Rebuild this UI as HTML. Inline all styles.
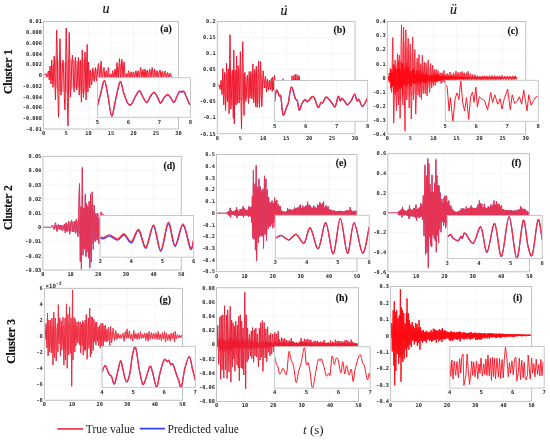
<!DOCTYPE html>
<html><head><meta charset="utf-8"><title>Displacement, velocity and acceleration: true vs predicted</title>
<style>
html,body{margin:0;padding:0;background:#fff;}
body{width:550px;height:441px;overflow:hidden;}
svg{display:block;filter:blur(0.3px);}
.tk{font-family:"DejaVu Sans Mono","Liberation Mono",monospace;font-size:5.3px;font-weight:bold;fill:#2a2a2a;}
.ik{font-family:"DejaVu Sans Mono","Liberation Mono",monospace;font-size:5.6px;font-weight:bold;fill:#333;}
.lt{font-family:"Liberation Serif",serif;font-size:9.8px;font-weight:bold;fill:#111;stroke:#111;stroke-width:0.15px;}
.ct{font-family:"Liberation Serif",serif;font-size:14px;font-style:italic;fill:#111;stroke:#111;stroke-width:0.15px;}
.cl{font-family:"Liberation Serif",serif;font-size:11.5px;font-weight:bold;fill:#111;stroke:#111;stroke-width:0.2px;}
.lg{font-family:"Liberation Serif",serif;font-size:11.5px;fill:#222;}
.ts{font-family:"Liberation Serif",serif;font-size:13px;fill:#222;}
</style></head>
<body>
<svg width="550" height="441" viewBox="0 0 550 441">
<rect width="550" height="441" fill="#fff"/>
<clipPath id="ca"><rect x="43.5" y="21.5" width="135" height="107.5"/></clipPath>
<path d="M43.5 21.5V129M66 21.5V129M88.5 21.5V129M111 21.5V129M133.5 21.5V129M156 21.5V129M178.5 21.5V129M43.5 129H178.5M43.5 118.25H178.5M43.5 107.5H178.5M43.5 96.75H178.5M43.5 86H178.5M43.5 75.25H178.5M43.5 64.5H178.5M43.5 53.75H178.5M43.5 43H178.5M43.5 32.25H178.5M43.5 21.5H178.5" stroke="#f1f1f1" stroke-width="0.6" fill="none"/>
<g clip-path="url(#ca)">
<path d="M45.69 73.77 48.5 73.77 50 71.64 51.7 67.39 54.2 62.3 56.7 58.89 60 62.3 63 62.3 66.2 62.3 69.2 58.05 72.4 59.74 75.4 60.09 78.4 62.3 80.3 62.3 82.2 62.3 85 55.5 87.16 63.99 88.5 70.8 90.4 70.8 92.86 70.8 95.45 69.09 98.5 68.67 101.1 68.67 104 71.39 106.4 71.39 108.3 74.15 110.71 74.15 112.6 74.15 114.9 71.39 117 69.94 119.5 64.5 121.9 63.74 124 73.71 126.64 73.71 128.5 73.71 131.17 72.35 133.52 72.35 135.94 72.35 138.1 71.46 140.7 71.46 143.02 70.27 145 70.97 147.2 70.97 149.68 70.97 152.2 69.93 154.59 71.22 156.98 71.22 160 71.91 162.2 71.91 165 72.91 167.56 73.52 170.2 73.52 172 77.03 168.66 77.03 166.34 77.03 163.36 77.23 161.08 77.17 158.12 77.17 155.7 77.17 153.51 77.31 150.79 77.47 148.54 77.47 146.08 77.57 144.11 77.57 141.92 77.54 139.39 77.54 137.02 77.54 134.6 77.62 132.24 77.72 129.82 77.76 127.69 77.76 125.3 77.76 123.18 77.78 120.64 77.78 118.14 77.78 116.2 77.93 113.95 78.08 111.89 78.08 109.51 78.08 107.58 78.34 105.06 78.22 102.21 78.12 99.71 78.12 96.55 78.12 94.2 80.14 91.6 80.58 89.8 83.55 87.9 86.09 86.08 89.5 83.44 94.31 81.41 92.05 79.2 87.8 76.7 87.8 74.2 87.8 70.4 89.5 68 93.75 65 92.05 61 92.05 58.5 92.05 55.5 85.5 53 82.69 51 79.12 49.2 77.04 47.01 75.3 44.5 75.3Z" fill="#f47a8a" fill-opacity="0.6" stroke="none"/>
<path d="M44.5 75.3 44.9 74.85 45.29 73.95 45.69 73.5 46.13 74.46 46.57 76.39 47.01 77.35 47.51 75.76 48 72.59 48.5 71 48.73 73.2 48.97 77.6 49.2 79.8 49.47 76.35 49.73 69.45 50 66 50.33 70.5 50.67 79.5 51 84 51.23 78 51.47 66 51.7 60 52.13 66.83 52.57 80.47 53 87.3 53.4 79.47 53.8 63.83 54.2 56 54.63 67 55.07 89 55.5 100 55.9 82.5 56.3 47.5 56.7 30 57.3 51.82 57.9 95.47 58.5 117.3 59 97.65 59.5 58.35 60 38.7 60.33 52.77 60.67 80.92 61 95 61.67 86.25 62.33 68.75 63 60 63.67 72.5 64.33 97.5 65 110 65.4 89.5 65.8 48.5 66.2 28 66.8 52.5 67.4 101.5 68 126 68.4 102.62 68.8 55.88 69.2 32.5 69.6 48.62 70 80.88 70.4 97 71.07 86.5 71.73 65.5 72.4 55 73 64.25 73.6 82.75 74.2 92 74.6 83.25 75 65.75 75.4 57 75.83 65.25 76.27 81.75 76.7 90 77.27 81.85 77.83 65.55 78.4 57.4 78.67 66.8 78.93 85.6 79.2 95 79.57 86.25 79.93 68.75 80.3 60 80.67 70.58 81.04 91.72 81.41 102.3 81.67 89.22 81.94 63.08 82.2 50 82.61 61.92 83.03 85.75 83.44 97.66 83.96 86.25 84.48 63.42 85 52 85.36 64 85.72 88 86.08 100 86.44 86.1 86.8 58.3 87.16 44.4 87.4 56.3 87.65 80.1 87.9 92 88.1 84.5 88.3 69.5 88.5 62 88.93 68.5 89.37 81.5 89.8 88 90 83.5 90.2 74.5 90.4 70 90.8 73.75 91.2 81.25 91.6 85 92.02 80.75 92.44 72.25 92.86 68 93.31 71.38 93.75 78.14 94.2 81.52 94.62 78.01 95.03 71 95.45 67.5 95.81 70.88 96.18 77.62 96.55 81 97.2 76.6 97.85 67.8 98.5 63.4 98.9 67.2 99.31 74.81 99.71 78.61 100.17 74.18 100.64 65.33 101.1 60.9 101.47 65.36 101.84 74.27 102.21 78.73 102.8 75.92 103.4 70.31 104 67.5 104.35 70.34 104.71 76.03 105.06 78.87 105.51 76.83 105.95 72.74 106.4 70.7 106.79 72.81 107.19 77.04 107.58 79.16 107.82 76.24 108.06 70.41 108.3 67.5 108.7 70.36 109.1 76.08 109.51 78.93 109.91 77.69 110.31 75.2 110.71 73.95 111.1 75.1 111.5 77.41 111.89 78.57 112.13 76.6 112.36 72.67 112.6 70.7 113.05 72.81 113.5 77.03 113.95 79.14 114.27 76.6 114.58 71.53 114.9 69 115.33 71.46 115.77 76.38 116.2 78.84 116.47 74.78 116.73 66.66 117 62.6 117.38 66.55 117.76 74.45 118.14 78.4 118.6 73.42 119.05 63.47 119.5 58.5 119.88 63.43 120.26 73.29 120.64 78.22 121.06 73.49 121.48 64.03 121.9 59.3 122.33 64.08 122.75 73.65 123.18 78.44 123.45 74.25 123.73 65.88 124 61.7 124.43 65.87 124.87 74.21 125.3 78.38 125.75 77.14 126.2 74.67 126.64 73.43 126.99 74.62 127.34 77 127.69 78.19 127.96 76.32 128.23 72.57 128.5 70.7 128.94 72.61 129.38 76.44 129.82 78.35 130.27 76.69 130.72 73.37 131.17 71.71 131.52 73.39 131.88 76.74 132.24 78.42 132.67 76.77 133.09 73.48 133.52 71.83 133.88 73.41 134.24 76.57 134.6 78.14 135.05 76.28 135.49 72.56 135.94 70.7 136.3 72.53 136.66 76.2 137.02 78.03 137.38 76.22 137.74 72.6 138.1 70.78 138.53 72.57 138.96 76.15 139.39 77.93 139.83 75.33 140.26 70.11 140.7 67.5 141.11 70.14 141.51 75.43 141.92 78.07 142.29 75.9 142.66 71.56 143.02 69.38 143.39 71.58 143.75 75.97 144.11 78.16 144.41 75.87 144.7 71.29 145 69 145.36 71.24 145.72 75.72 146.08 77.97 146.46 76.03 146.83 72.15 147.2 70.2 147.65 72.2 148.09 76.18 148.54 78.17 148.92 75.86 149.3 71.23 149.68 68.92 150.05 71.15 150.42 75.62 150.79 77.85 151.26 75.26 151.73 70.09 152.2 67.5 152.64 70.11 153.07 75.34 153.51 77.95 153.87 75.71 154.23 71.23 154.59 68.98 154.96 71.15 155.33 75.49 155.7 77.66 156.13 75.87 156.55 72.29 156.98 70.5 157.36 72.25 157.74 75.75 158.12 77.5 158.75 75.62 159.37 71.87 160 70 160.36 71.94 160.72 75.81 161.08 77.75 161.45 76.14 161.83 72.92 162.2 71.31 162.59 72.89 162.97 76.04 163.36 77.62 163.91 75.96 164.45 72.65 165 71 165.45 72.64 165.89 75.93 166.34 77.57 166.75 76.3 167.15 73.76 167.56 72.49 167.93 73.7 168.3 76.13 168.66 77.34 169.18 76.3 169.69 74.23 170.2 73.2 170.8 74.4 171.4 76.8 172 78" stroke="#f0182e" stroke-width="1.0" fill="none" stroke-linejoin="round"/>
</g>
<rect x="43.5" y="21.5" width="135" height="107.5" fill="none" stroke="#c2c2c2" stroke-width="1"/>
<text x="41.9" y="130.8" class="tk" text-anchor="end">-0.01</text>
<text x="41.9" y="120.05" class="tk" text-anchor="end">-0.008</text>
<text x="41.9" y="109.3" class="tk" text-anchor="end">-0.006</text>
<text x="41.9" y="98.55" class="tk" text-anchor="end">-0.004</text>
<text x="41.9" y="87.8" class="tk" text-anchor="end">-0.002</text>
<text x="41.9" y="77.05" class="tk" text-anchor="end">0</text>
<text x="41.9" y="66.3" class="tk" text-anchor="end">0.002</text>
<text x="41.9" y="55.55" class="tk" text-anchor="end">0.004</text>
<text x="41.9" y="44.8" class="tk" text-anchor="end">0.006</text>
<text x="41.9" y="34.05" class="tk" text-anchor="end">0.008</text>
<text x="41.9" y="23.3" class="tk" text-anchor="end">0.01</text>
<text x="43.5" y="134.9" class="tk" text-anchor="middle">0</text>
<text x="66" y="134.9" class="tk" text-anchor="middle">5</text>
<text x="88.5" y="134.9" class="tk" text-anchor="middle">10</text>
<text x="111" y="134.9" class="tk" text-anchor="middle">15</text>
<text x="133.5" y="134.9" class="tk" text-anchor="middle">20</text>
<text x="156" y="134.9" class="tk" text-anchor="middle">25</text>
<text x="178.5" y="134.9" class="tk" text-anchor="middle">30</text>
<text x="160.3" y="31.9" class="lt">(a)</text>
<rect x="97.5" y="77.7" width="93" height="39.6" fill="#fff"/>
<clipPath id="ia"><rect x="97.5" y="77.7" width="93" height="39.6"/></clipPath>
<path d="M97.5 77.7V117.3M128.5 77.7V117.3M159.5 77.7V117.3M190.5 77.7V117.3" stroke="#ececec" stroke-width="0.5" fill="none"/>
<g clip-path="url(#ia)">
<path d="M97.2 107.2C97.75 105.08 99.28 98.88 100.5 94.5C101.72 90.12 103.25 80.57 104.5 80.9C105.75 81.23 106.8 90.6 108 96.5C109.2 102.4 110.45 115.63 111.7 116.3C112.95 116.97 114.1 106.2 115.5 100.5C116.9 94.8 118.77 83.43 120.1 82.1C121.43 80.77 122.23 88.93 123.5 92.5C124.77 96.07 126.38 101.5 127.7 103.5C129.02 105.5 130.1 105.67 131.4 104.5C132.7 103.33 134.15 98.72 135.5 96.5C136.85 94.28 138.25 91.03 139.5 91.2C140.75 91.37 141.78 95.58 143 97.5C144.22 99.42 145.55 102.87 146.8 102.7C148.05 102.53 149.28 98.17 150.5 96.5C151.72 94.83 152.93 92.53 154.1 92.7C155.27 92.87 156.43 95.7 157.5 97.5C158.57 99.3 159.42 103.4 160.5 103.5C161.58 103.6 162.8 99.53 164 98.1C165.2 96.67 166.53 94.83 167.7 94.9C168.87 94.97 169.95 97.2 171 98.5C172.05 99.8 173 103.03 174 102.7C175 102.37 176.08 98.32 177 96.5C177.92 94.68 178.67 92.5 179.5 91.8C180.33 91.1 181.25 92.3 182 92.3C182.75 92.3 183.17 90.77 184 91.8C184.83 92.83 186.08 96.38 187 98.5C187.92 100.62 188.83 103.5 189.5 104.5C190.17 105.5 190.75 104.5 191 104.5" stroke="#3040ff" stroke-width="1.05" fill="none" stroke-linejoin="round"/>
<path d="M97.2 106.7C97.75 104.58 99.28 98.38 100.5 94C101.72 89.62 103.25 80.07 104.5 80.4C105.75 80.73 106.8 90.1 108 96C109.2 101.9 110.45 115.13 111.7 115.8C112.95 116.47 114.1 105.7 115.5 100C116.9 94.3 118.77 82.93 120.1 81.6C121.43 80.27 122.23 88.43 123.5 92C124.77 95.57 126.38 101 127.7 103C129.02 105 130.1 105.17 131.4 104C132.7 102.83 134.15 98.22 135.5 96C136.85 93.78 138.25 90.53 139.5 90.7C140.75 90.87 141.78 95.08 143 97C144.22 98.92 145.55 102.37 146.8 102.2C148.05 102.03 149.28 97.67 150.5 96C151.72 94.33 152.93 92.03 154.1 92.2C155.27 92.37 156.43 95.2 157.5 97C158.57 98.8 159.42 102.9 160.5 103C161.58 103.1 162.8 99.03 164 97.6C165.2 96.17 166.53 94.33 167.7 94.4C168.87 94.47 169.95 96.7 171 98C172.05 99.3 173 102.53 174 102.2C175 101.87 176.08 97.82 177 96C177.92 94.18 178.67 92 179.5 91.3C180.33 90.6 181.25 91.8 182 91.8C182.75 91.8 183.17 90.27 184 91.3C184.83 92.33 186.08 95.88 187 98C187.92 100.12 188.83 103 189.5 104C190.17 105 190.75 104 191 104" stroke="#ff2a3c" stroke-width="1.35" fill="none" stroke-linejoin="round"/>
</g>
<rect x="97.5" y="77.7" width="93" height="39.6" fill="none" stroke="#c2c2c2" stroke-width="0.9"/>
<text x="97.5" y="123.5" class="ik" text-anchor="middle">5</text>
<text x="128.5" y="123.5" class="ik" text-anchor="middle">6</text>
<text x="159.5" y="123.5" class="ik" text-anchor="middle">7</text>
<text x="190.5" y="123.5" class="ik" text-anchor="middle">8</text>
<clipPath id="cb"><rect x="217.3" y="21.5" width="137.7" height="112.2"/></clipPath>
<path d="M217.3 21.5V133.7M240.25 21.5V133.7M263.2 21.5V133.7M286.15 21.5V133.7M309.1 21.5V133.7M332.05 21.5V133.7M355 21.5V133.7M217.3 133.7H355M217.3 117.67H355M217.3 101.64H355M217.3 85.61H355M217.3 69.59H355M217.3 53.56H355M217.3 37.53H355M217.3 21.5H355" stroke="#f1f1f1" stroke-width="0.6" fill="none"/>
<g clip-path="url(#cb)">
<path d="M218.94 85.02 221.09 85.02 222.83 81.09 224.6 74.43 226.56 74.43 228.29 71.24 229.99 72.39 232.3 72.39 233.8 72.39 235 72.39 236.6 72.39 238.1 68.56 240.4 68.56 242.7 74.43 244.85 76.64 247.4 76.64 249.2 76.64 250.92 73.74 252.9 73.56 254.8 71.79 256.3 71.79 258.6 69.16 260.6 73.06 263.1 77.66 265.5 80.29 267.4 80.92 269.46 80.92 271.37 80.92 272.8 79.61 274.6 81.31 277 81.93 278.86 82.29 280.68 82.29 283 82.29 284.73 82.1 286.48 82.43 288.21 82.43 290.1 82.43 292 81.31 294 77.48 295.84 76.64 298 77.83 299.4 77.83 300 89.49 298.89 89.49 296.86 89.49 295.01 89.39 292.92 89.39 290.97 89.39 289.15 89.36 287.33 89.12 285.57 89.12 283.86 89.12 281.6 89.03 279.79 88.92 278.02 88.8 275.52 88.8 273.5 88.8 272.23 88.96 270.38 88.96 268.4 88.96 266.47 87.69 264.6 87.69 261.8 87.69 259.5 103.58 257.2 103.58 255.73 100.35 253.77 97.03 251.9 96.33 250.06 96.33 248.47 96.33 245.8 99.24 244 99.24 241.5 100.44 239.2 100.44 237.3 100.44 236 100.86 234.3 102.14 233.33 105.57 230.9 105.57 229.14 99.62 227.42 99.62 225.59 99.62 223.7 93.3 222 88.96 220.1 85.9 218 85.9Z" fill="#f47a8a" fill-opacity="0.6" stroke="none"/>
<path d="M218 85.9 218.31 85.64 218.63 85.12 218.94 84.87 219.33 86.02 219.71 88.34 220.1 89.5 220.43 87.19 220.76 82.56 221.09 80.24 221.39 83.83 221.7 91.01 222 94.6 222.28 88.08 222.56 75.03 222.83 68.5 223.12 77.58 223.41 95.72 223.7 104.8 224 96.7 224.3 80.5 224.6 72.4 224.93 81.92 225.26 100.97 225.59 110.5 225.91 98.65 226.23 74.95 226.56 63.1 226.84 72.83 227.13 92.3 227.42 102.04 227.71 93.69 228 77 228.29 68.66 228.57 79.92 228.85 102.44 229.14 113.7 229.42 93.93 229.7 54.38 229.99 34.6 230.29 53.21 230.59 90.43 230.9 109.04 231.36 99.28 231.83 79.76 232.3 70 232.64 82.05 232.99 106.15 233.33 118.2 233.49 101.15 233.64 67.05 233.8 50 233.97 68.47 234.13 105.42 234.3 123.9 234.53 110.43 234.77 83.48 235 70 235.33 78.75 235.67 96.25 236 105 236.2 92.8 236.4 68.4 236.6 56.2 236.83 68.03 237.07 91.67 237.3 103.5 237.57 94 237.83 75 238.1 65.5 238.47 74.88 238.83 93.62 239.2 103 239.6 90.15 240 64.45 240.4 51.6 240.77 70.95 241.13 109.65 241.5 129 241.9 107.15 242.3 63.45 242.7 41.6 243.13 60.1 243.57 97.1 244 115.6 244.28 104.8 244.56 83.2 244.85 72.4 245.16 79.7 245.48 94.3 245.8 101.6 246.33 94.95 246.87 81.65 247.4 75 247.76 82.12 248.11 96.38 248.47 103.5 248.71 95.53 248.96 79.58 249.2 71.6 249.49 78.24 249.77 91.53 250.06 98.17 250.35 91.48 250.63 78.08 250.92 71.39 251.25 78.29 251.57 92.1 251.9 99 252.23 90.22 252.56 72.68 252.9 63.9 253.19 73.65 253.48 93.15 253.77 102.9 254.11 94.5 254.46 77.7 254.8 69.3 255.11 78.65 255.42 97.35 255.73 106.7 255.92 96.58 256.11 76.33 256.3 66.2 256.6 76.5 256.9 97.1 257.2 107.4 257.67 95.75 258.13 72.45 258.6 60.8 258.9 72.45 259.2 95.75 259.5 107.4 259.87 95.95 260.23 73.05 260.6 61.6 261 72.88 261.4 95.42 261.8 106.7 262.23 97.73 262.67 79.78 263.1 70.8 263.6 75.1 264.1 83.7 264.6 88 264.9 85.05 265.2 79.15 265.5 76.2 265.82 80.17 266.15 88.12 266.47 92.1 266.78 88.9 267.09 82.5 267.4 79.3 267.73 82.06 268.06 87.57 268.4 90.33 268.75 87.75 269.11 82.61 269.46 80.04 269.77 82.4 270.07 87.13 270.38 89.5 270.71 86.75 271.04 81.25 271.37 78.5 271.66 81.75 271.95 88.25 272.23 91.5 272.42 87.88 272.61 80.62 272.8 77 273.03 80.25 273.27 86.75 273.5 90 273.87 86.38 274.23 79.12 274.6 75.5 274.91 78.95 275.21 85.86 275.52 89.31 276.01 87.11 276.51 82.7 277 80.5 277.34 82.74 277.68 87.21 278.02 89.45 278.3 87.4 278.58 83.29 278.86 81.23 279.17 83.32 279.48 87.49 279.79 89.58 280.09 87.6 280.38 83.64 280.68 81.66 280.99 83.73 281.29 87.86 281.6 89.93 282.07 87.14 282.53 81.58 283 78.8 283.29 81.56 283.57 87.09 283.86 89.85 284.15 87.52 284.44 82.84 284.73 80.5 285.01 82.8 285.29 87.39 285.57 89.68 285.87 87.62 286.18 83.5 286.48 81.43 286.76 83.57 287.04 87.84 287.33 89.97 287.62 87.93 287.91 83.85 288.21 81.82 288.52 84.01 288.84 88.41 289.15 90.61 289.47 88.08 289.78 83.03 290.1 80.5 290.39 83.05 290.68 88.15 290.97 90.69 291.31 87.02 291.66 79.67 292 76 292.31 79.5 292.61 86.5 292.92 90.01 293.28 86.25 293.64 78.75 294 75 294.34 78.99 294.67 86.96 295.01 90.95 295.29 86.69 295.56 78.16 295.84 73.9 296.18 78.03 296.52 86.28 296.86 90.4 297.24 86.55 297.62 78.85 298 75 298.3 78.78 298.59 86.34 298.89 90.12 299.06 86.69 299.23 79.83 299.4 76.4 299.6 80.3 299.8 88.1 300 92" stroke="#f0182e" stroke-width="1.0" fill="none" stroke-linejoin="round"/>
</g>
<rect x="217.3" y="21.5" width="137.7" height="112.2" fill="none" stroke="#c2c2c2" stroke-width="1"/>
<text x="215.7" y="135.5" class="tk" text-anchor="end">-0.15</text>
<text x="215.7" y="119.47" class="tk" text-anchor="end">-0.1</text>
<text x="215.7" y="103.44" class="tk" text-anchor="end">-0.05</text>
<text x="215.7" y="87.41" class="tk" text-anchor="end">0</text>
<text x="215.7" y="71.39" class="tk" text-anchor="end">0.05</text>
<text x="215.7" y="55.36" class="tk" text-anchor="end">0.1</text>
<text x="215.7" y="39.33" class="tk" text-anchor="end">0.15</text>
<text x="215.7" y="23.3" class="tk" text-anchor="end">0.2</text>
<text x="217.3" y="139.6" class="tk" text-anchor="middle">0</text>
<text x="240.25" y="139.6" class="tk" text-anchor="middle">5</text>
<text x="263.2" y="139.6" class="tk" text-anchor="middle">10</text>
<text x="286.15" y="139.6" class="tk" text-anchor="middle">15</text>
<text x="309.1" y="139.6" class="tk" text-anchor="middle">20</text>
<text x="332.05" y="139.6" class="tk" text-anchor="middle">25</text>
<text x="355" y="139.6" class="tk" text-anchor="middle">30</text>
<text x="333.6" y="33.2" class="lt">(b)</text>
<rect x="274.6" y="80.5" width="93" height="40.8" fill="#fff"/>
<clipPath id="ib"><rect x="274.6" y="80.5" width="93" height="40.8"/></clipPath>
<path d="M274.6 80.5V121.3M305.6 80.5V121.3M336.6 80.5V121.3M367.6 80.5V121.3" stroke="#ececec" stroke-width="0.5" fill="none"/>
<g clip-path="url(#ib)">
<path d="M274.6 101.9C274.92 100 275.72 91.45 276.5 90.5C277.28 89.55 278.57 95.08 279.3 96.2C280.03 97.32 280.27 94.05 280.9 97.2C281.53 100.35 282.1 113.53 283.1 115.1C284.1 116.67 286.02 108.63 286.9 106.6C287.78 104.57 287.67 106.1 288.4 102.9C289.13 99.7 290.13 88.03 291.3 87.4C292.47 86.77 294.4 96.83 295.4 99.1C296.4 101.37 296.67 99.12 297.3 101C297.93 102.88 298.42 109.93 299.2 110.4C299.98 110.87 301.05 105.53 302 103.8C302.95 102.07 303.95 100.32 304.9 100C305.85 99.68 306.53 102.37 307.7 101.9C308.87 101.43 310.8 97.83 311.9 97.2C313 96.57 313.27 96.37 314.3 98.1C315.33 99.83 317 106.8 318.1 107.6C319.2 108.4 320.12 103.68 320.9 102.9C321.68 102.12 322 103.78 322.8 102.9C323.6 102.02 324.75 98.23 325.7 97.6C326.65 96.97 327.4 98.07 328.5 99.1C329.6 100.13 331.2 102.48 332.3 103.8C333.4 105.12 334.1 108.17 335.1 107C336.1 105.83 337.45 97.8 338.3 96.8C339.15 95.8 339.57 100.68 340.2 101C340.83 101.32 341.22 98.38 342.1 98.7C342.98 99.02 344.62 101.83 345.5 102.9C346.38 103.97 346.45 105.42 347.4 105.1C348.35 104.78 350 102.8 351.2 101C352.4 99.2 353.67 94.3 354.6 94.3C355.53 94.3 356.05 100.05 356.8 101C357.55 101.95 358.15 99.07 359.1 100C360.05 100.93 361.15 106.75 362.5 106.6C363.85 106.45 366.28 100.53 367.2 99.1C368.12 97.67 367.87 98.18 368 98" stroke="#3040ff" stroke-width="1.05" fill="none" stroke-linejoin="round"/>
<path d="M274.6 101.4C274.92 99.5 275.72 90.95 276.5 90C277.28 89.05 278.57 94.58 279.3 95.7C280.03 96.82 280.27 93.55 280.9 96.7C281.53 99.85 282.1 113.03 283.1 114.6C284.1 116.17 286.02 108.13 286.9 106.1C287.78 104.07 287.67 105.6 288.4 102.4C289.13 99.2 290.13 87.53 291.3 86.9C292.47 86.27 294.4 96.33 295.4 98.6C296.4 100.87 296.67 98.62 297.3 100.5C297.93 102.38 298.42 109.43 299.2 109.9C299.98 110.37 301.05 105.03 302 103.3C302.95 101.57 303.95 99.82 304.9 99.5C305.85 99.18 306.53 101.87 307.7 101.4C308.87 100.93 310.8 97.33 311.9 96.7C313 96.07 313.27 95.87 314.3 97.6C315.33 99.33 317 106.3 318.1 107.1C319.2 107.9 320.12 103.18 320.9 102.4C321.68 101.62 322 103.28 322.8 102.4C323.6 101.52 324.75 97.73 325.7 97.1C326.65 96.47 327.4 97.57 328.5 98.6C329.6 99.63 331.2 101.98 332.3 103.3C333.4 104.62 334.1 107.67 335.1 106.5C336.1 105.33 337.45 97.3 338.3 96.3C339.15 95.3 339.57 100.18 340.2 100.5C340.83 100.82 341.22 97.88 342.1 98.2C342.98 98.52 344.62 101.33 345.5 102.4C346.38 103.47 346.45 104.92 347.4 104.6C348.35 104.28 350 102.3 351.2 100.5C352.4 98.7 353.67 93.8 354.6 93.8C355.53 93.8 356.05 99.55 356.8 100.5C357.55 101.45 358.15 98.57 359.1 99.5C360.05 100.43 361.15 106.25 362.5 106.1C363.85 105.95 366.28 100.03 367.2 98.6C368.12 97.17 367.87 97.68 368 97.5" stroke="#ff2a3c" stroke-width="1.35" fill="none" stroke-linejoin="round"/>
</g>
<rect x="274.6" y="80.5" width="93" height="40.8" fill="none" stroke="#c2c2c2" stroke-width="0.9"/>
<text x="274.6" y="127.5" class="ik" text-anchor="middle">5</text>
<text x="305.6" y="127.5" class="ik" text-anchor="middle">6</text>
<text x="336.6" y="127.5" class="ik" text-anchor="middle">7</text>
<text x="367.6" y="127.5" class="ik" text-anchor="middle">8</text>
<clipPath id="cc"><rect x="387.3" y="21.5" width="138.4" height="112.6"/></clipPath>
<path d="M387.3 21.5V134.1M410.37 21.5V134.1M433.43 21.5V134.1M456.5 21.5V134.1M479.57 21.5V134.1M502.63 21.5V134.1M525.7 21.5V134.1M387.3 134.1H525.7M387.3 120.03H525.7M387.3 105.95H525.7M387.3 91.88H525.7M387.3 77.8H525.7M387.3 63.72H525.7M387.3 49.65H525.7M387.3 35.58H525.7M387.3 21.5H525.7" stroke="#f1f1f1" stroke-width="0.6" fill="none"/>
<g clip-path="url(#cc)">
<path d="M388.85 76.83 390.2 76.83 392.8 74.3 395.1 63.66 397.44 63.66 399.23 59.74 401.5 59.74 403.6 39.42 405.82 46.22 408.2 50.7 410.2 50.7 412.7 55.18 414.8 61.98 417.2 61.98 419.03 66.58 420.59 66.58 422.3 66.58 424.3 65.9 426.1 65.9 428.2 66.46 430.7 67.58 432.7 71.3 434.44 71.3 436.11 72.06 438 73.74 440.1 73.74 442.09 73.74 443.87 74.81 445.94 74.81 447.73 74.81 450 74.92 451.85 74.92 453.71 74.92 455.97 73.86 458.06 73.43 460.25 73.43 462 73.81 464.13 73.81 466.35 73.81 468 74.47 470.35 75.19 472.62 75.26 475 76.01 477.39 76.48 479.76 76.48 482.07 76.48 484.46 76.26 486.85 76.23 489.46 76.23 491.96 76.08 494.62 76.2 497.36 76.21 499.78 76.21 502.09 76.38 504.81 76.38 507.35 76.46 510.05 76.46 512.69 76.46 515.1 76.17 517 79.31 513.84 79.31 511.46 79.31 508.63 79.38 506.11 79.3 503.43 79.3 500.93 79.3 498.57 79.68 496.03 79.68 493.39 79.68 490.81 79.79 488.15 79.79 485.71 80.29 483.29 80.29 480.89 80.15 478.52 80.15 476.12 79.93 473.73 79.93 471.51 79.93 469.2 80.06 467.43 80.51 465.17 80.58 463.04 80.95 461.45 80.02 459.18 80.02 456.91 80.02 454.86 80.02 452.79 80.43 450.91 80.43 448.74 80.53 446.82 80.53 445 80.76 443.03 81.29 441.07 80.54 438.86 80.54 436.98 80.54 435.2 81.52 433.55 83.82 431.7 83.98 429.6 86.06 427.1 89.42 425.27 90.49 423.27 90.49 421.41 90.49 419.8 91.66 418.05 91.66 415.71 91.66 413.4 95.58 411.3 95.58 409.15 95.58 406.8 95.58 405 95.58 402.9 99.58 400.1 99.58 398.4 99.58 396.5 99.58 393.7 89.42 391.6 81.5 389.5 77.9 388 77.9Z" fill="#f5505e" fill-opacity="0.45" stroke="none"/>
<path d="M388 77.9 388.28 77.57 388.56 76.9 388.85 76.56 389.06 78.02 389.28 80.94 389.5 82.4 389.73 80.15 389.97 75.65 390.2 73.4 390.67 78.12 391.13 87.58 391.6 92.3 392 78.62 392.4 51.28 392.8 37.6 393.1 59 393.4 101.8 393.7 123.2 394.17 107.43 394.63 75.88 395.1 60.1 395.57 72.72 396.03 97.97 396.5 110.6 396.81 96.4 397.13 68 397.44 53.8 397.76 66.6 398.08 92.2 398.4 105 398.68 92.55 398.95 67.65 399.23 55.2 399.52 70.97 399.81 102.52 400.1 118.3 400.57 94.95 401.03 48.25 401.5 24.9 401.97 44.92 402.43 84.97 402.9 105 403.13 85.5 403.37 46.5 403.6 27 404.07 53 404.53 105 405 131 405.27 105.7 405.55 55.1 405.82 29.8 406.15 47.35 406.47 82.45 406.8 100 407.27 84.58 407.73 53.73 408.2 38.3 408.52 55.67 408.84 90.42 409.15 107.8 409.5 91.83 409.85 59.88 410.2 43.9 410.57 62.67 410.93 100.22 411.3 119 411.77 98.48 412.23 57.43 412.7 36.9 412.93 52.67 413.17 84.22 413.4 100 413.87 87.38 414.33 62.13 414.8 49.5 415.1 65.65 415.4 97.95 415.71 114.1 416.2 100.08 416.7 72.03 417.2 58 417.48 67.27 417.77 85.82 418.05 95.1 418.38 84.95 418.7 64.65 419.03 54.5 419.29 65.17 419.54 86.53 419.8 97.2 420.06 88.84 420.33 72.11 420.59 63.75 420.86 72.64 421.14 90.41 421.41 99.3 421.71 88.28 422 66.23 422.3 55.2 422.62 64.81 422.95 84.03 423.27 93.64 423.61 85.78 423.96 70.06 424.3 62.2 424.62 70.08 424.95 85.83 425.27 93.7 425.55 86 425.82 70.6 426.1 62.9 426.43 71.12 426.77 87.57 427.1 95.8 427.47 86.88 427.83 69.03 428.2 60.1 428.67 68.15 429.13 84.25 429.6 92.3 429.97 85.12 430.33 70.78 430.7 63.6 431.03 69.72 431.37 81.97 431.7 88.1 432.03 82.33 432.37 70.78 432.7 65 432.98 70.13 433.26 80.38 433.55 85.51 433.84 81.54 434.14 73.61 434.44 69.65 434.69 73.56 434.95 81.39 435.2 85.3 435.5 81.28 435.81 73.23 436.11 69.2 436.4 72.51 436.69 79.12 436.98 82.42 437.32 79.47 437.66 73.56 438 70.6 438.29 73.25 438.57 78.55 438.86 81.2 439.27 79.07 439.69 74.82 440.1 72.7 440.42 75.4 440.75 80.8 441.07 83.5 441.41 80.8 441.75 75.39 442.09 72.69 442.41 75.05 442.72 79.77 443.03 82.13 443.31 79.23 443.59 73.41 443.87 70.5 444.25 73.62 444.62 79.88 445 83 445.31 80.76 445.62 76.28 445.94 74.04 446.23 75.9 446.53 79.62 446.82 81.48 447.13 79.49 447.43 75.52 447.73 73.53 448.07 75.45 448.4 79.28 448.74 81.19 449.16 78.89 449.58 74.3 450 72 450.3 74.33 450.61 79 450.91 81.34 451.22 79.55 451.54 75.96 451.85 74.17 452.16 75.89 452.48 79.34 452.79 81.06 453.1 79.01 453.4 74.9 453.71 72.85 454.09 74.9 454.48 79.01 454.86 81.07 455.23 78.55 455.6 73.52 455.97 71 456.28 73.39 456.6 78.17 456.91 80.56 457.29 78.49 457.68 74.35 458.06 72.28 458.43 74.35 458.8 78.49 459.18 80.55 459.53 78.49 459.89 74.37 460.25 72.31 460.65 74.66 461.05 79.36 461.45 81.71 461.64 79.13 461.82 73.98 462 71.4 462.35 73.99 462.69 79.18 463.04 81.77 463.4 79.52 463.77 75.03 464.13 72.79 464.48 75.07 464.82 79.65 465.17 81.93 465.56 79.64 465.96 75.06 466.35 72.77 466.71 74.89 467.07 79.13 467.43 81.24 467.62 78.78 467.81 73.86 468 71.4 468.4 73.84 468.8 78.72 469.2 81.16 469.59 79.27 469.97 75.5 470.35 73.61 470.74 75.36 471.12 78.85 471.51 80.6 471.88 79.07 472.25 76.03 472.62 74.51 472.99 75.99 473.36 78.96 473.73 80.44 474.15 78.98 474.58 76.06 475 74.6 475.37 76.23 475.74 79.48 476.12 81.11 476.54 79.71 476.97 76.93 477.39 75.53 477.77 76.83 478.15 79.42 478.52 80.72 478.93 79.57 479.34 77.28 479.76 76.13 480.13 77.49 480.51 80.22 480.89 81.59 481.28 80.15 481.68 77.29 482.07 75.85 482.48 77.11 482.89 79.62 483.29 80.88 483.68 79.57 484.07 76.94 484.46 75.63 484.88 77.02 485.29 79.81 485.71 81.21 486.09 79.86 486.47 77.16 486.85 75.81 487.29 77.2 487.72 79.98 488.15 81.36 488.59 79.93 489.02 77.06 489.46 75.62 489.91 76.78 490.36 79.11 490.81 80.27 491.19 79.1 491.58 76.76 491.96 75.59 492.44 76.91 492.92 79.56 493.39 80.89 493.8 79.5 494.21 76.73 494.62 75.35 495.09 76.54 495.56 78.93 496.03 80.12 496.47 79.04 496.91 76.87 497.36 75.78 497.76 76.87 498.17 79.04 498.57 80.12 498.98 79.04 499.38 76.87 499.78 75.79 500.16 76.9 500.54 79.12 500.93 80.24 501.32 78.99 501.7 76.5 502.09 75.25 502.54 76.35 502.98 78.55 503.43 79.64 503.89 78.73 504.35 76.91 504.81 76 505.25 77.09 505.68 79.27 506.11 80.36 506.52 79.23 506.94 76.99 507.35 75.87 507.78 76.84 508.21 78.78 508.63 79.75 509.11 78.84 509.58 77.01 510.05 76.1 510.52 77.03 510.99 78.88 511.46 79.81 511.87 78.79 512.28 76.76 512.69 75.74 513.08 76.72 513.46 78.68 513.84 79.66 514.26 78.66 514.68 76.66 515.1 75.67 515.73 77 516.37 79.67 517 81" stroke="#f52a3c" stroke-width="1.0" fill="none" stroke-linejoin="round"/>
<path d="M388 77.51 388.57 80.47 389.21 73.16 389.83 81.36 390.32 68.48 390.87 88.27 391.25 69.78 391.67 87.27 392.2 72.14 392.61 86.47 393.24 64.09 393.63 92.11 394.03 65.35 394.41 84.48 395.03 69.19 395.44 94.42 396.05 68.22 396.69 90.24 397.24 68.9 397.88 92.06 398.52 61.44 398.96 88.82 399.36 69.22 399.72 88.31 400.26 70.7 400.81 88.55 401.25 62.31 401.75 88.1 402.24 63.83 402.61 94.6 402.96 63.61 403.57 84.71 404.15 67.78 404.68 84.44 405.04 69.78 405.68 85.91 406.26 63.54 406.89 86.69 407.34 67.8 407.93 84.25 408.5 66.31 409.11 83.26 409.74 72.35 410.2 87.01 410.82 70.95 411.45 85.99 411.89 71.49 412.29 82.65 412.69 69.45 413.34 82.87 413.7 68.2 414.21 84 414.63 70.93 415.23 83.9 415.71 74.12 416.33 81.45 416.83 70.43 417.22 84.71 417.86 71.78 418.44 81.44 418.92 74.26 419.53 82.05 420.01 70.91 420.62 84.68 421.1 73.2 421.67 82.48 422.11 73.68 422.5 81.97 423.15 71.68 423.69 82.28 424.14 75.1 424.57 83.19 425.18 74.22 425.77 82.96 426.33 73.32 426.9 81.37 427.47 74.77 427.96 82.56 428.52 74.85 429.15 81.98 429.68 75.84 430.19 80.64 430.74 74.59 431.34 81.68 431.93 75.03 432.47 81.8 433.07 75.13 433.67 82 434.23 73.6 434.86 80.94 435.37 75.8 435.97 81.85 436.47 74.62 437.03 81.21 437.43 74.53 437.96 80.94 438.43 75.01 439.02 80.75 439.58 76.42 439.98 80.23 440.53 76.08 441.08 80.5 441.44 75.66 441.86 79.29 442.25 76.03 442.66 79.5 443.02 75.83 443.48 80.18 444.01 76.33 444.63 79.02 445.1 76.35 445.57 79.15 446.17 76.29 446.53 79.84 446.91 76.11 447.37 79.69 448 75.85 448.48 79.88 449.02 76.57 449.41 79.48 449.93 75.94 450.57 79.41 451.03 76.08 451.38 78.8 451.9 76.43 452.29 79.37 452.91 76.74 453.39 78.88 453.83 76.12 454.29 79.64 454.91 76.57 455.34 79.61 455.84 76.79 456.29 79.57 456.78 76.95 457.28 78.67 457.81 76.83 458.25 79.28 458.85 77.26 459.36 78.76 459.99 76.6 460.41 78.73 460.81 76.45 461.25 79 461.74 76.79 462.27 79.07 462.66 76.73 463.1 78.87 463.55 77.14 464.06 78.78 464.51 76.82 465.04 78.43 465.47 77.07 466.09 79.01 466.61 77.42 467.19 78.65 467.71 76.98 468.25 78.65 468.88 77.23 469.34 78.84 469.75 77.31 470.35 78.34 470.95 77.09 471.43 78.46 472.02 76.97 472.41 78.57 472.92 77.22 473.37 78.37 473.9 77.05 474.27 78.41 474.87 77.07 475.41 78.29 475.98 76.97 476.63 78.66 477 77.06 477.41 78.63 478.05 77.14 478.44 78.42 479.06 77.46 479.6 78.48 479.99 77.21 480.36 78.31 480.82 77.51 481.19 78.56 481.76 77.09 482.15 78.48 482.6 77.24 483.09 78.73 483.55 77.53 484.11 78.32 484.65 77.3 485.28 78.52 485.81 77.43 486.33 78.36 486.9 77.31 487.29 78.34 487.75 77.21 488.16 78.57 488.7 77.54 489.26 78.26 489.64 77.3 490.06 78.63 490.56 77.43 491.15 78.23 491.71 77.57 492.11 78.65 492.66 77.49 493.05 78.65 493.6 77.23 493.99 78.48 494.45 77.5 494.9 78.47 495.35 77.44 495.74 78.56 496.29 77.26 496.77 78.56 497.27 77.36 497.79 78.5 498.26 77.58 498.62 78.27 498.98 77.25 499.48 78.49 499.83 77.43 500.45 78.43 500.92 77.44 501.3 78.23 501.7 77.48 502.17 78.52 502.56 77.53 503 78.23 503.43 77.55 503.93 78.17 504.55 77.5 505.19 78.41 505.74 77.47 506.37 78.19 506.92 77.55 507.47 78.41 507.87 77.58 508.23 78.22 508.6 77.52 509.25 78.27 509.69 77.5 510.13 78.39 510.69 77.61 511.11 78.36 511.75 77.45 512.22 78.45 512.58 77.66 513.16 78.26 513.52 77.5 514.17 78.28 514.63 77.66 515 78.4 515.49 77.39 515.86 78.19 516.23 77.57 516.59 78.18 517.07 77.6 517.43 78.11" stroke="#ff0512" stroke-width="0.8" fill="none"/>
</g>
<rect x="387.3" y="21.5" width="138.4" height="112.6" fill="none" stroke="#c2c2c2" stroke-width="1"/>
<text x="385.7" y="135.9" class="tk" text-anchor="end">-0.4</text>
<text x="385.7" y="121.83" class="tk" text-anchor="end">-0.3</text>
<text x="385.7" y="107.75" class="tk" text-anchor="end">-0.2</text>
<text x="385.7" y="93.67" class="tk" text-anchor="end">-0.1</text>
<text x="385.7" y="79.6" class="tk" text-anchor="end">0</text>
<text x="385.7" y="65.52" class="tk" text-anchor="end">0.1</text>
<text x="385.7" y="51.45" class="tk" text-anchor="end">0.2</text>
<text x="385.7" y="37.38" class="tk" text-anchor="end">0.3</text>
<text x="385.7" y="23.3" class="tk" text-anchor="end">0.4</text>
<text x="387.3" y="140" class="tk" text-anchor="middle">0</text>
<text x="410.37" y="140" class="tk" text-anchor="middle">5</text>
<text x="433.43" y="140" class="tk" text-anchor="middle">10</text>
<text x="456.5" y="140" class="tk" text-anchor="middle">15</text>
<text x="479.57" y="140" class="tk" text-anchor="middle">20</text>
<text x="502.63" y="140" class="tk" text-anchor="middle">25</text>
<text x="525.7" y="140" class="tk" text-anchor="middle">30</text>
<text x="507.5" y="34.1" class="lt">(c)</text>
<rect x="445.3" y="80.3" width="93" height="41" fill="#fff"/>
<clipPath id="ic"><rect x="445.3" y="80.3" width="93" height="41"/></clipPath>
<path d="M445.3 80.3V121.3M476.3 80.3V121.3M507.3 80.3V121.3M538.3 80.3V121.3" stroke="#ececec" stroke-width="0.5" fill="none"/>
<g clip-path="url(#ic)">
<path d="M445.3 84.4 447.2 87.2 449.1 110.9 450.4 97.6 452.9 122 455.1 98.6 457 92.9 458.9 99.5 460.8 80.6 462.7 102.4 464.6 110.9 466.5 97.6 468.7 119.4 470.6 96.7 472.5 92 474 102.4 475.9 87.2 477.4 107.1 479.3 96.7 481.6 98.6 484.4 100.5 487.6 109.9 490.7 92.5 492.6 102.4 494.8 94.8 497.7 104.2 500.1 98.6 502 109 504.3 98.6 507.7 89.1 510.3 109.9 512.2 94.8 514.7 103.3 517.1 101.4 519.4 96.7 521.7 104.2 523.7 90.1 525.1 98.6 527 110.9 528.8 94.8 531.1 105.2 533.6 100.5 536.4 96.3 538.3 97.6" stroke="#ff1a2a" stroke-width="1.0" fill="none" stroke-linejoin="round"/>
</g>
<rect x="445.3" y="80.3" width="93" height="41" fill="none" stroke="#c2c2c2" stroke-width="0.9"/>
<text x="445.3" y="127.5" class="ik" text-anchor="middle">5</text>
<text x="476.3" y="127.5" class="ik" text-anchor="middle">6</text>
<text x="507.3" y="127.5" class="ik" text-anchor="middle">7</text>
<text x="538.3" y="127.5" class="ik" text-anchor="middle">8</text>
<clipPath id="cd"><rect x="42.9" y="156.4" width="138.4" height="113.6"/></clipPath>
<path d="M42.9 156.4V270M70.58 156.4V270M98.26 156.4V270M125.94 156.4V270M153.62 156.4V270M181.3 156.4V270M42.9 270H181.3M42.9 255.8H181.3M42.9 241.6H181.3M42.9 227.4H181.3M42.9 213.2H181.3M42.9 199H181.3M42.9 184.8H181.3M42.9 170.6H181.3M42.9 156.4H181.3" stroke="#f1f1f1" stroke-width="0.6" fill="none"/>
<g clip-path="url(#cd)">
<path d="M44.26 227.2 47.04 227.2 49.85 227.2 52.48 227.2 55.54 225.11 58.5 225.11 61 225.11 64.5 225.11 66 224.16 68.8 222.92 71.6 221.41 74.8 221.41 76.3 221.41 79.5 219.5 80.9 207.72 82.3 208.96 83.8 208.96 85.3 208.96 86.4 206.97 87.6 206.97 89.1 206.97 90.6 202.69 92.2 206.3 94.08 214.19 95.99 214.19 97.82 218.4 99.73 218.4 101.09 218.4 102.77 221.06 104.06 222.26 105.52 224.1 106.92 224.1 108.32 224.1 109.73 223.99 111.14 224.14 112.53 224.14 113.88 224.14 115.33 224.15 116.77 224.15 118.15 224.15 119.55 224.13 120.89 224.18 122.16 224.18 123.58 224.18 125.1 224.05 126.59 224.08 127.96 224.2 129.49 224.2 130.92 224.51 132.27 224.51 133.56 224.51 134.93 224.54 136.27 224.54 137.66 224.54 139.12 224.54 140.52 224.22 141.8 224.22 143.2 224.22 144.6 224 146.06 224.52 147.58 224.89 148.94 224.89 150.33 224.89 151.65 224.69 153.16 224.69 154.71 224.69 156.07 224.15 157.47 224.15 158.91 224.6 160.22 224.6 161.62 225.08 163.05 225.08 164.5 225.08 165.78 224.89 167.17 224.89 168.61 224.99 170.03 225.05 171.51 225.05 172.86 225.05 174.23 224.8 175.63 224.8 176.93 224.7 178.34 224.7 179.71 224.7 181 224.47 180.36 230.95 179.04 230.36 177.64 230.36 176.27 230.36 174.99 230.76 173.56 230.76 172.18 231.56 170.77 231.57 169.34 230.74 167.88 230.74 166.55 230.74 165.13 231.21 163.81 231.26 162.4 231.81 160.94 231.81 159.6 232.64 158.2 231.62 156.69 231.62 155.4 231.62 153.94 231.59 152.37 231.59 150.99 231.59 149.63 232.71 148.22 232.07 146.83 232.07 145.29 232.07 143.98 233.39 142.58 233.26 141.14 233.26 139.79 232.97 138.39 232.87 136.92 232.87 135.59 232.87 134.25 233.54 132.92 233.73 131.62 233.73 130.26 233.73 128.74 234.52 127.29 234.52 125.81 234.08 124.35 234.08 122.92 233.82 121.51 233.82 120.22 233.82 118.77 234.52 117.49 234.52 116.11 234.54 114.66 234.54 113.26 235.15 111.9 234.33 110.44 234.33 109.03 234.33 107.63 234.35 106.18 234.35 104.76 234.35 103.41 234.7 102 236.05 100.45 238.28 99 238.28 97.1 239.55 95.2 239.55 93.3 240.88 91.23 248.29 89.8 256.46 88.5 250.76 87 250.76 85.93 248.1 84.44 248.1 83.01 248.1 81.4 253.61 80.3 236.22 77.9 233.09 75.5 231.76 73 231.76 69.6 231.28 67 231.28 65.3 230.81 62.3 229.38 59.95 229.38 56.86 229.38 54 227.28 51.21 227.28 48.52 227.28 45.72 227.2 43 227.2Z" fill="#ef6478" fill-opacity="0.85" stroke="none"/>
<path d="M43 227.2 43.42 227.2 43.84 227.2 44.26 227.2 44.75 227.22 45.23 227.27 45.72 227.29 46.16 227.27 46.6 227.22 47.04 227.2 47.53 227.22 48.02 227.26 48.52 227.28 48.96 227.26 49.4 227.22 49.85 227.2 50.3 227.22 50.76 227.26 51.21 227.28 51.63 226.7 52.06 225.54 52.48 224.96 52.99 226.1 53.49 228.4 54 229.55 54.51 227.81 55.03 224.34 55.54 222.61 55.98 224.83 56.42 229.27 56.86 231.48 57.4 229.72 57.95 226.21 58.5 224.45 58.98 225.72 59.46 228.27 59.95 229.55 60.3 228.4 60.65 226.1 61 224.96 61.43 226.49 61.87 229.55 62.3 231.08 63.03 229.29 63.77 225.72 64.5 223.94 64.77 226.23 65.03 230.82 65.3 233.12 65.53 230.49 65.77 225.24 66 222.61 66.33 224.85 66.67 229.34 67 231.59 67.6 228.93 68.2 223.63 68.8 220.98 69.07 224.32 69.33 231 69.6 234.34 70.27 230.8 70.93 223.71 71.6 220.16 72.07 223.15 72.53 229.11 73 232.1 73.6 229.32 74.2 223.76 74.8 220.98 75.03 224.11 75.27 230.39 75.5 233.52 75.77 229.88 76.03 222.58 76.3 218.94 76.83 223.43 77.37 232.4 77.9 236.89 78.43 223.43 78.97 196.5 79.5 183.03 79.77 202.77 80.03 242.24 80.3 261.98 80.5 248.06 80.7 220.21 80.9 206.29 81.07 222.2 81.23 254.03 81.4 269.94 81.7 244.13 82 192.52 82.3 166.71 82.54 188.92 82.77 233.35 83.01 255.56 83.27 243.57 83.54 219.6 83.8 207.62 84.01 218.12 84.23 239.13 84.44 249.64 84.73 235.69 85.01 207.79 85.3 193.85 85.51 209.63 85.72 241.2 85.93 256.98 86.09 243.52 86.24 216.59 86.4 203.13 86.6 215.47 86.8 240.15 87 252.5 87.2 240.74 87.4 217.23 87.6 205.47 87.9 218.76 88.2 245.33 88.5 258.62 88.7 244.18 88.9 215.32 89.1 200.88 89.33 217.79 89.57 251.6 89.8 268.51 90.07 249.84 90.33 212.51 90.6 193.85 90.81 211.06 91.02 245.48 91.23 262.7 91.55 244.9 91.88 209.3 92.2 191.5 92.57 206.09 92.93 235.26 93.3 249.84 93.56 238.57 93.82 216.03 94.08 204.76 94.46 214.04 94.83 232.61 95.2 241.89 95.46 234.72 95.72 220.39 95.99 213.23 96.36 220.03 96.73 233.65 97.1 240.46 97.34 233.65 97.58 220.03 97.82 213.23 98.21 220.95 98.61 236.41 99 244.13 99.24 237.54 99.49 224.35 99.73 217.75 99.97 223.09 100.21 233.76 100.45 239.1 100.66 232.25 100.88 218.55 101.09 211.7 101.4 218.84 101.7 233.12 102 240.26 102.26 233.63 102.51 220.37 102.77 213.74 102.98 219.48 103.2 230.96 103.41 236.7 103.63 232.68 103.85 224.63 104.06 220.61 104.3 224.27 104.53 231.59 104.76 235.25 105.01 231.92 105.27 225.24 105.52 221.9 105.74 225.14 105.96 231.63 106.18 234.88 106.43 232.13 106.67 226.62 106.92 223.87 107.16 226.66 107.39 232.24 107.63 235.03 107.86 232.02 108.09 226.01 108.32 223 108.56 226.32 108.79 232.96 109.03 236.28 109.26 233.06 109.49 226.63 109.73 223.41 109.97 226.28 110.2 232 110.44 234.86 110.68 232.08 110.91 226.53 111.14 223.75 111.39 227.27 111.65 234.3 111.9 237.81 112.11 234.34 112.32 227.39 112.53 223.92 112.77 227.03 113.02 233.26 113.26 236.37 113.47 233.05 113.67 226.41 113.88 223.09 114.14 226.25 114.4 232.58 114.66 235.74 114.88 232.64 115.11 226.43 115.33 223.33 115.59 226.26 115.85 232.14 116.11 235.08 116.33 232.29 116.55 226.71 116.77 223.92 117.01 226.87 117.25 232.75 117.49 235.69 117.71 232.68 117.93 226.66 118.15 223.65 118.36 226.5 118.56 232.21 118.77 235.06 119.03 232.14 119.29 226.31 119.55 223.39 119.78 226.8 120 233.63 120.22 237.04 120.44 233.76 120.67 227.19 120.89 223.91 121.1 226.51 121.3 231.71 121.51 234.31 121.73 231.72 121.94 226.55 122.16 223.96 122.41 226.62 122.67 231.94 122.92 234.6 123.14 231.81 123.36 226.24 123.58 223.45 123.84 226.23 124.09 231.8 124.35 234.59 124.6 231.89 124.85 226.51 125.1 223.81 125.33 226.72 125.57 232.54 125.81 235.45 126.07 232.41 126.33 226.33 126.59 223.29 126.82 226.49 127.05 232.9 127.29 236.1 127.51 233.04 127.74 226.91 127.96 223.85 128.22 226.65 128.48 232.26 128.74 235.06 128.99 232.29 129.24 226.75 129.49 223.97 129.75 226.77 130.01 232.35 130.26 235.15 130.48 232.14 130.7 226.14 130.92 223.14 131.15 225.91 131.38 231.45 131.62 234.22 131.83 231.74 132.05 226.79 132.27 224.32 132.49 227.03 132.71 232.45 132.92 235.17 133.13 232.41 133.35 226.89 133.56 224.13 133.79 226.75 134.02 232 134.25 234.62 134.48 231.83 134.7 226.24 134.93 223.44 135.15 226.08 135.37 231.37 135.59 234.01 135.81 231.6 136.04 226.76 136.27 224.35 136.49 226.58 136.71 231.05 136.92 233.28 137.17 231.05 137.42 226.58 137.66 224.35 137.91 226.61 138.15 231.14 138.39 233.4 138.63 230.97 138.88 226.13 139.12 223.7 139.34 226.59 139.57 232.37 139.79 235.25 140.04 232.41 140.28 226.71 140.52 223.86 140.73 226.32 140.93 231.25 141.14 233.71 141.36 231.28 141.58 226.43 141.8 224 142.06 226.71 142.32 232.11 142.58 234.82 142.78 232.05 142.99 226.52 143.2 223.76 143.46 226.28 143.72 231.33 143.98 233.85 144.19 231.28 144.39 226.13 144.6 223.55 144.83 226.38 145.06 232.05 145.29 234.88 145.55 232.07 145.8 226.44 146.06 223.63 146.32 225.83 146.57 230.23 146.83 232.43 147.08 230.4 147.33 226.35 147.58 224.32 147.8 226.52 148.01 230.91 148.22 233.11 148.46 231.01 148.7 226.82 148.94 224.72 149.17 227.04 149.4 231.68 149.63 234 149.86 231.52 150.09 226.57 150.33 224.1 150.55 226.66 150.77 231.77 150.99 234.33 151.21 231.73 151.43 226.54 151.65 223.94 151.89 225.93 152.13 229.92 152.37 231.91 152.63 230.06 152.9 226.36 153.16 224.51 153.42 226.87 153.68 231.59 153.94 233.96 154.2 231.42 154.46 226.34 154.71 223.8 154.94 226.03 155.17 230.5 155.4 232.73 155.62 230.48 155.85 225.98 156.07 223.74 156.28 225.79 156.48 229.9 156.69 231.95 156.95 229.94 157.21 225.93 157.47 223.92 157.71 226.35 157.96 231.22 158.2 233.66 158.44 231.22 158.67 226.35 158.91 223.92 159.14 226.29 159.37 231.02 159.6 233.38 159.81 231.14 160.01 226.65 160.22 224.4 160.46 226.56 160.7 230.88 160.94 233.04 161.16 230.82 161.39 226.38 161.62 224.16 161.88 226.15 162.14 230.15 162.4 232.15 162.62 230.34 162.84 226.73 163.05 224.92 163.31 226.73 163.56 230.35 163.81 232.16 164.04 230.22 164.27 226.34 164.5 224.4 164.71 226.19 164.92 229.77 165.13 231.56 165.35 229.85 165.56 226.43 165.78 224.72 166.04 226.41 166.29 229.81 166.55 231.51 166.75 229.65 166.96 225.93 167.17 224.07 167.41 225.81 167.65 229.27 167.88 231 168.13 229.33 168.37 225.98 168.61 224.3 168.86 226.3 169.1 230.28 169.34 232.28 169.57 230.41 169.8 226.69 170.03 224.82 170.28 226.59 170.52 230.12 170.77 231.89 171.02 230.14 171.26 226.64 171.51 224.89 171.73 226.64 171.96 230.14 172.18 231.89 172.41 230.04 172.64 226.33 172.86 224.48 173.1 226.33 173.33 230.03 173.56 231.88 173.78 230.07 174.01 226.43 174.23 224.62 174.48 226.22 174.74 229.42 174.99 231.02 175.2 229.39 175.42 226.13 175.63 224.5 175.84 226.33 176.06 229.99 176.27 231.82 176.49 229.93 176.71 226.15 176.93 224.26 177.16 225.84 177.4 229.01 177.64 230.59 177.87 229.07 178.1 226.03 178.34 224.52 178.57 226.19 178.8 229.55 179.04 231.23 179.26 229.49 179.49 226.01 179.71 224.27 179.93 226.23 180.14 230.14 180.36 232.1 180.57 230.06 180.79 225.98 181 223.94" stroke="#2030ff" stroke-width="0.35" fill="none" stroke-linejoin="round"/>
<path d="M43 227.2 43.42 227.2 43.84 227.2 44.26 227.2 44.75 227.22 45.23 227.27 45.72 227.29 46.16 227.27 46.6 227.22 47.04 227.2 47.53 227.22 48.02 227.26 48.52 227.28 48.96 227.26 49.4 227.22 49.85 227.2 50.3 227.22 50.76 227.26 51.21 227.28 51.63 226.71 52.06 225.57 52.48 225 52.99 226.12 53.49 228.38 54 229.5 54.51 227.8 55.03 224.4 55.54 222.7 55.98 224.88 56.42 229.22 56.86 231.4 57.4 229.68 57.95 226.22 58.5 224.5 58.98 225.75 59.46 228.25 59.95 229.5 60.3 228.38 60.65 226.12 61 225 61.43 226.5 61.87 229.5 62.3 231 63.03 229.25 63.77 225.75 64.5 224 64.77 226.25 65.03 230.75 65.3 233 65.53 230.43 65.77 225.28 66 222.7 66.33 224.9 66.67 229.3 67 231.5 67.6 228.9 68.2 223.7 68.8 221.1 69.07 224.38 69.33 230.92 69.6 234.2 70.27 230.72 70.93 223.78 71.6 220.3 72.07 223.22 72.53 229.07 73 232 73.6 229.28 74.2 223.82 74.8 221.1 75.03 224.17 75.27 230.32 75.5 233.4 75.77 229.83 76.03 222.68 76.3 219.1 76.83 223.5 77.37 232.3 77.9 236.7 78.43 223.5 78.97 197.1 79.5 183.9 79.77 203.25 80.03 241.95 80.3 261.3 80.5 247.65 80.7 220.35 80.9 206.7 81.07 222.3 81.23 253.5 81.4 269.1 81.7 243.8 82 193.2 82.3 167.9 82.54 189.68 82.77 233.22 83.01 255 83.27 243.25 83.54 219.75 83.8 208 84.01 218.3 84.23 238.9 84.44 249.2 84.73 235.52 85.01 208.17 85.3 194.5 85.51 209.97 85.72 240.92 85.93 256.4 86.09 243.2 86.24 216.8 86.4 203.6 86.6 215.7 86.8 239.9 87 252 87.2 240.47 87.4 217.43 87.6 205.9 87.9 218.93 88.2 244.97 88.5 258 88.7 243.85 88.9 215.55 89.1 201.4 89.33 217.97 89.57 251.12 89.8 267.7 90.07 249.4 90.33 212.8 90.6 194.5 90.81 211.38 91.02 245.12 91.23 262 91.55 244.55 91.88 209.65 92.2 192.2 92.57 206.5 92.93 235.1 93.3 249.4 93.56 238.35 93.82 216.25 94.08 205.2 94.46 214.3 94.83 232.5 95.2 241.6 95.46 234.57 95.72 220.53 95.99 213.5 96.36 220.17 96.73 233.52 97.1 240.2 97.34 233.53 97.58 220.18 97.82 213.5 98.21 221.07 98.61 236.22 99 243.8 99.24 237.33 99.49 224.4 99.73 217.94 99.97 223.17 100.21 233.63 100.45 238.87 100.66 232.15 100.88 218.72 101.09 212 101.4 219 101.7 233 102 240 102.26 233.5 102.51 220.5 102.77 214 102.98 219.63 103.2 230.88 103.41 236.51 103.63 232.57 103.85 224.68 104.06 220.74 104.3 224.33 104.53 231.51 104.76 235.1 105.01 231.82 105.27 225.27 105.52 222 105.74 225.18 105.96 231.55 106.18 234.73 106.43 232.03 106.67 226.63 106.92 223.93 107.16 226.67 107.39 232.14 107.63 234.88 107.86 231.93 108.09 226.03 108.32 223.08 108.56 226.34 108.79 232.85 109.03 236.1 109.26 232.95 109.49 226.64 109.73 223.49 109.97 226.29 110.2 231.9 110.44 234.71 110.68 231.99 110.91 226.54 111.14 223.82 111.39 227.27 111.65 234.16 111.9 237.6 112.11 234.2 112.32 227.39 112.53 223.98 112.77 227.04 113.02 233.14 113.26 236.19 113.47 232.94 113.67 226.43 113.88 223.17 114.14 226.27 114.4 232.47 114.66 235.57 114.88 232.53 115.11 226.44 115.33 223.4 115.59 226.28 115.85 232.04 116.11 234.92 116.33 232.19 116.55 226.72 116.77 223.99 117.01 226.87 117.25 232.64 117.49 235.52 117.71 232.57 117.93 226.67 118.15 223.72 118.36 226.52 118.56 232.11 118.77 234.9 119.03 232.04 119.29 226.32 119.55 223.46 119.78 226.81 120 233.5 120.22 236.85 120.44 233.63 120.67 227.19 120.89 223.97 121.1 226.52 121.3 231.62 121.51 234.17 121.73 231.63 121.94 226.56 122.16 224.02 122.41 226.63 122.67 231.85 122.92 234.46 123.14 231.72 123.36 226.25 123.58 223.52 123.84 226.25 124.09 231.71 124.35 234.44 124.6 231.8 124.85 226.52 125.1 223.88 125.33 226.73 125.57 232.44 125.81 235.29 126.07 232.31 126.33 226.35 126.59 223.37 126.82 226.51 127.05 232.79 127.29 235.93 127.51 232.92 127.74 226.92 127.96 223.91 128.22 226.66 128.48 232.16 128.74 234.91 128.99 232.19 129.24 226.75 129.49 224.04 129.75 226.78 130.01 232.25 130.26 234.99 130.48 232.05 130.7 226.17 130.92 223.22 131.15 225.94 131.38 231.36 131.62 234.08 131.83 231.65 132.05 226.8 132.27 224.37 132.49 227.03 132.71 232.35 132.92 235.01 133.13 232.3 133.35 226.89 133.56 224.19 133.79 226.76 134.02 231.91 134.25 234.48 134.48 231.74 134.7 226.25 134.93 223.51 135.15 226.1 135.37 231.29 135.59 233.88 135.81 231.51 136.04 226.77 136.27 224.4 136.49 226.59 136.71 230.97 136.92 233.17 137.17 230.98 137.42 226.59 137.66 224.4 137.91 226.62 138.15 231.06 138.39 233.28 138.63 230.9 138.88 226.15 139.12 223.77 139.34 226.6 139.57 232.26 139.79 235.1 140.04 232.3 140.28 226.72 140.52 223.93 140.73 226.34 140.93 231.17 141.14 233.58 141.36 231.2 141.58 226.44 141.8 224.06 142.06 226.72 142.32 232.02 142.58 234.67 142.78 231.96 142.99 226.54 143.2 223.83 143.46 226.3 143.72 231.25 143.98 233.72 144.19 231.2 144.39 226.15 144.6 223.62 144.83 226.4 145.06 231.95 145.29 234.73 145.55 231.97 145.8 226.46 146.06 223.7 146.32 225.86 146.57 230.17 146.83 232.32 147.08 230.34 147.33 226.37 147.58 224.38 147.8 226.53 148.01 230.84 148.22 233 148.46 230.94 148.7 226.82 148.94 224.77 149.17 227.04 149.4 231.59 149.63 233.86 149.86 231.44 150.09 226.59 150.33 224.16 150.55 226.67 150.77 231.68 150.99 234.19 151.21 231.64 151.43 226.55 151.65 224 151.89 225.96 152.13 229.87 152.37 231.82 152.63 230.01 152.9 226.38 153.16 224.56 153.42 226.88 153.68 231.51 153.94 233.82 154.2 231.33 154.46 226.36 154.71 223.87 154.94 226.06 155.17 230.43 155.4 232.62 155.62 230.42 155.85 226.01 156.07 223.8 156.28 225.82 156.48 229.84 156.69 231.86 156.95 229.89 157.21 225.95 157.47 223.98 157.71 226.37 157.96 231.14 158.2 233.53 158.44 231.14 158.67 226.37 158.91 223.98 159.14 226.3 159.37 230.94 159.6 233.26 159.81 231.06 160.01 226.66 160.22 224.46 160.46 226.58 160.7 230.81 160.94 232.93 161.16 230.75 161.39 226.39 161.62 224.22 161.88 226.17 162.14 230.09 162.4 232.05 162.62 230.28 162.84 226.73 163.05 224.96 163.31 226.74 163.56 230.28 163.81 232.06 164.04 230.16 164.27 226.35 164.5 224.45 164.71 226.21 164.92 229.72 165.13 231.47 165.35 229.79 165.56 226.44 165.78 224.76 166.04 226.43 166.29 229.76 166.55 231.42 166.75 229.6 166.96 225.96 167.17 224.14 167.41 225.83 167.65 229.23 167.88 230.93 168.13 229.29 168.37 226 168.61 224.36 168.86 226.31 169.1 230.22 169.34 232.18 169.57 230.35 169.8 226.7 170.03 224.87 170.28 226.6 170.52 230.06 170.77 231.8 171.02 230.08 171.26 226.65 171.51 224.94 171.73 226.65 171.96 230.08 172.18 231.8 172.41 229.98 172.64 226.35 172.86 224.53 173.1 226.35 173.33 229.98 173.56 231.79 173.78 230.01 174.01 226.45 174.23 224.67 174.48 226.24 174.74 229.38 174.99 230.95 175.2 229.35 175.42 226.16 175.63 224.56 175.84 226.35 176.06 229.93 176.27 231.72 176.49 229.87 176.71 226.17 176.93 224.32 177.16 225.87 177.4 228.97 177.64 230.52 177.87 229.03 178.1 226.06 178.34 224.57 178.57 226.21 178.8 229.51 179.04 231.15 179.26 229.45 179.49 226.03 179.71 224.33 179.93 226.25 180.14 230.08 180.36 232 180.57 230 180.79 226 181 224" stroke="#e93350" stroke-width="1.0" fill="none" stroke-linejoin="round"/>
</g>
<rect x="42.9" y="156.4" width="138.4" height="113.6" fill="none" stroke="#c2c2c2" stroke-width="1"/>
<text x="41.3" y="271.8" class="tk" text-anchor="end">-0.03</text>
<text x="41.3" y="257.6" class="tk" text-anchor="end">-0.02</text>
<text x="41.3" y="243.4" class="tk" text-anchor="end">-0.01</text>
<text x="41.3" y="229.2" class="tk" text-anchor="end">0</text>
<text x="41.3" y="215" class="tk" text-anchor="end">0.01</text>
<text x="41.3" y="200.8" class="tk" text-anchor="end">0.02</text>
<text x="41.3" y="186.6" class="tk" text-anchor="end">0.03</text>
<text x="41.3" y="172.4" class="tk" text-anchor="end">0.04</text>
<text x="41.3" y="158.2" class="tk" text-anchor="end">0.05</text>
<text x="42.9" y="275.9" class="tk" text-anchor="middle">0</text>
<text x="70.58" y="275.9" class="tk" text-anchor="middle">10</text>
<text x="98.26" y="275.9" class="tk" text-anchor="middle">20</text>
<text x="125.94" y="275.9" class="tk" text-anchor="middle">30</text>
<text x="153.62" y="275.9" class="tk" text-anchor="middle">40</text>
<text x="181.3" y="275.9" class="tk" text-anchor="middle">50</text>
<text x="163.4" y="168.8" class="lt">(d)</text>
<rect x="100.1" y="215.5" width="93.5" height="41.7" fill="#fff"/>
<clipPath id="id"><rect x="100.1" y="215.5" width="93.5" height="41.7"/></clipPath>
<path d="M100.1 215.5V257.2M131.27 215.5V257.2M162.43 215.5V257.2M193.6 215.5V257.2" stroke="#ececec" stroke-width="0.5" fill="none"/>
<g clip-path="url(#id)">
<path d="M100.1 238.3C100.77 238.37 102.53 239.07 104.1 238.7C105.67 238.33 107.23 235.87 109.5 236.1C111.77 236.33 115.27 240.28 117.7 240.1C120.13 239.92 121.82 234.55 124.1 235C126.38 235.45 128.98 243.52 131.4 242.8C133.82 242.08 136.18 229.78 138.6 230.7C141.02 231.62 143.42 249.07 145.9 248.3C148.38 247.53 151.02 225.58 153.5 226.1C155.98 226.62 158.33 251.8 160.8 251.4C163.27 251 165.93 224.52 168.3 223.7C170.67 222.88 172.55 246.27 175 246.5C177.45 246.73 180.43 224.68 183 225.1C185.57 225.52 188.63 246.37 190.4 249C192.17 251.63 193.07 242.25 193.6 240.9" stroke="#3040ff" stroke-width="1.3" fill="none" stroke-linejoin="round"/>
<path d="M100.1 237.1C100.77 237.17 102.53 237.87 104.1 237.5C105.67 237.13 107.23 234.67 109.5 234.9C111.77 235.13 115.27 239.08 117.7 238.9C120.13 238.72 121.82 233.35 124.1 233.8C126.38 234.25 128.98 242.32 131.4 241.6C133.82 240.88 136.18 228.58 138.6 229.5C141.02 230.42 143.42 247.87 145.9 247.1C148.38 246.33 151.02 224.38 153.5 224.9C155.98 225.42 158.33 250.6 160.8 250.2C163.27 249.8 165.93 223.32 168.3 222.5C170.67 221.68 172.55 245.07 175 245.3C177.45 245.53 180.43 223.48 183 223.9C185.57 224.32 188.63 245.17 190.4 247.8C192.17 250.43 193.07 241.05 193.6 239.7" stroke="#ff2a3c" stroke-width="1.35" fill="none" stroke-linejoin="round"/>
</g>
<rect x="100.1" y="215.5" width="93.5" height="41.7" fill="none" stroke="#c2c2c2" stroke-width="0.9"/>
<text x="100.1" y="263.4" class="ik" text-anchor="middle">3</text>
<text x="131.27" y="263.4" class="ik" text-anchor="middle">4</text>
<text x="162.43" y="263.4" class="ik" text-anchor="middle">5</text>
<text x="193.6" y="263.4" class="ik" text-anchor="middle">6</text>
<clipPath id="ce"><rect x="216.5" y="154.5" width="140.5" height="117.1"/></clipPath>
<path d="M216.5 154.5V271.6M244.6 154.5V271.6M272.7 154.5V271.6M300.8 154.5V271.6M328.9 154.5V271.6M357 154.5V271.6M216.5 271.6H357M216.5 259.89H357M216.5 248.18H357M216.5 236.47H357M216.5 224.76H357M216.5 213.05H357M216.5 201.34H357M216.5 189.63H357M216.5 177.92H357M216.5 166.21H357M216.5 154.5H357" stroke="#f1f1f1" stroke-width="0.6" fill="none"/>
<g clip-path="url(#ce)">
<path d="M217.67 213.1 218.98 213.1 220.29 213.1 221.48 213.1 222.7 213.1 224.01 213.1 225.16 213.1 226.38 213.1 227.65 212.87 228.78 211.95 230 211.15 231.2 211.59 232.4 211.59 233.9 211.59 235.31 211.29 236.58 210.16 237.56 210.97 238.87 210.97 240.19 210.97 241.86 209.21 243.06 209.12 244.15 209.73 245.32 210.16 246.67 210.16 247.94 210.16 248.8 209.84 250.05 207.31 251.22 207.31 252.38 207.2 253.4 197 254.8 185.46 256.2 188.31 257.6 188.31 259 188.31 260.3 191.44 261.8 191.44 263.2 191.44 264.5 190.21 265.9 190.78 267.3 198.09 268.7 202.77 269.84 203.41 271.13 203.41 272 203.49 273.43 203.49 274.62 203.49 275.54 201.93 276.81 204.74 278.3 206.83 279.53 206.83 280.4 210.63 281.5 211.28 282.7 211.61 283.95 211.89 285.11 211.89 286.4 211.89 287.59 211.39 288.87 209.8 290 209.87 291.16 210.27 292.26 210.27 293.51 210.27 294.5 209.47 295.74 208.66 297.01 208.66 298.2 208.12 299.46 207.55 300.3 208.15 301.49 208.15 302.7 208.15 303.85 207.79 305.02 207.79 306 207.02 307.6 205.88 308.86 205.88 310 207.67 311.2 208.07 312.45 208.07 313.65 208.07 314.97 208.14 316.2 208.14 317.5 208.14 318.72 205.82 319.9 205.82 321.14 204.56 322.32 204.56 323.55 207.8 324.84 207.8 326.01 207.8 327.27 207.71 328.1 209.74 329.22 209.78 330.6 210.44 331.77 210.86 333.02 210.86 334.3 211.33 335.52 211.38 336.74 211.38 337.98 211.38 339.16 211.34 340.32 211.59 341.53 211.59 342.76 211.59 343.96 211.55 345.17 211.55 346.44 210.96 347.65 210.63 348.86 210.53 350.2 210.47 351.52 211.48 352.77 211.48 354 211.48 355.18 211.42 356.29 211.42 357 217.32 355.73 217.23 354.64 217.23 353.43 216.39 352.12 216.39 350.87 216.39 349.5 217.28 348.28 217.28 347.06 216.68 345.84 216.68 344.5 216.68 343.31 217.3 342.11 217.13 340.91 217.13 339.78 217.13 338.51 217.78 337.31 218.41 336.12 217.74 334.94 217.74 333.65 217.74 332.38 218.58 331.15 218.58 329.86 218.66 328.66 218.27 327.83 217.96 326.64 217.96 325.39 217.96 324.22 218.41 322.97 218.86 321.73 219.67 320.49 219.26 319.37 219.26 318.05 219.04 316.82 219.04 315.54 218.89 314.31 218.89 313.1 218.89 311.82 219.43 310.56 219.43 309.48 219.43 308.27 219.54 306.64 219.54 305.61 219.54 304.44 220.66 303.32 220.66 302.11 220.46 300.83 220.46 300.02 220.46 298.79 220.9 297.61 220.9 296.4 219.95 295.15 219.95 294.07 219.95 292.9 220.36 291.7 222.2 290.54 220.58 289.44 220.58 288.25 220.58 286.95 222.05 285.72 222.05 284.51 222.05 283.31 222.47 282.05 222.54 280.93 223.03 280.12 222.88 278.94 222.21 277.35 222.21 276.15 222.21 275 222.03 273.96 222.03 272.8 222.03 271.7 223.7 270.5 223.7 269.26 225.64 268.2 225.64 266.5 228.11 265.08 233.33 263.5 233.33 262.33 234.67 261.2 234.67 259.66 234.67 258.25 235.62 256.6 241.22 255.41 237.99 254.02 236.85 252.7 222.16 251.79 216.42 250.68 215.56 249.41 215.56 248.47 215.27 247.27 215.27 246 215.23 244.79 215.23 243.5 215.23 242.46 215.28 241.2 215.28 239.6 215.38 238.21 215.38 237 215.44 235.91 215.38 234.7 214.91 233.3 214.84 231.85 214.84 230.63 214.84 229.33 214.98 228.25 213.76 227 213.17 225.76 213.17 224.57 213.16 223.34 213.16 222.05 213.16 220.85 213.16 219.64 213.16 218.31 213.1 217 213.1Z" fill="#ef6478" fill-opacity="0.85" stroke="none"/>
<path d="M217 213.1 217.22 213.1 217.45 213.1 217.67 213.1 217.88 213.12 218.09 213.15 218.31 213.17 218.53 213.15 218.75 213.12 218.98 213.1 219.2 213.12 219.42 213.16 219.64 213.18 219.85 213.16 220.07 213.12 220.29 213.1 220.48 213.12 220.66 213.15 220.85 213.17 221.06 213.15 221.27 213.12 221.48 213.1 221.67 213.12 221.86 213.15 222.05 213.17 222.26 213.15 222.48 213.12 222.7 213.1 222.91 213.12 223.13 213.15 223.34 213.17 223.56 213.15 223.79 213.12 224.01 213.1 224.19 213.12 224.38 213.16 224.57 213.18 224.76 213.16 224.96 213.12 225.16 213.1 225.36 213.12 225.56 213.15 225.76 213.17 225.97 213.09 226.17 212.93 226.38 212.85 226.58 213.09 226.79 213.57 227 213.81 227.22 213.32 227.43 212.35 227.65 211.86 227.85 212.68 228.05 214.31 228.25 215.12 228.43 214.09 228.6 212.03 228.78 211.01 228.96 212.31 229.15 214.9 229.33 216.2 229.55 214.1 229.78 209.9 230 207.8 230.21 210.19 230.42 214.99 230.63 217.38 230.82 215.57 231.01 211.94 231.2 210.13 231.42 211.34 231.64 213.76 231.85 214.97 232.04 214.1 232.22 212.35 232.4 211.48 232.7 212.37 233 214.15 233.3 215.04 233.5 214.07 233.7 212.13 233.9 211.15 234.16 212.25 234.43 214.45 234.7 215.55 234.9 214.15 235.11 211.34 235.31 209.94 235.51 211.36 235.71 214.19 235.91 215.61 236.13 213.45 236.35 209.14 236.58 206.98 236.72 209.78 236.86 215.39 237 218.2 237.19 216.01 237.37 211.64 237.56 209.45 237.78 211.04 237.99 214.2 238.21 215.79 238.43 214.55 238.65 212.06 238.87 210.82 239.11 212 239.36 214.36 239.6 215.55 239.8 213.89 239.99 210.58 240.19 208.92 240.53 210.7 240.86 214.27 241.2 216.06 241.42 214.25 241.64 210.63 241.86 208.83 242.06 210.48 242.26 213.78 242.46 215.44 242.66 213.14 242.86 208.56 243.06 206.27 243.2 209.05 243.35 214.6 243.5 217.38 243.72 215.02 243.93 210.3 244.15 207.94 244.36 209.8 244.58 213.53 244.79 215.39 244.96 213.91 245.14 210.96 245.32 209.49 245.55 211 245.77 214.03 246 215.55 246.22 214.15 246.44 211.34 246.67 209.94 246.87 211.31 247.07 214.05 247.27 215.43 247.49 213.97 247.71 211.06 247.94 209.6 248.12 211.37 248.29 214.9 248.47 216.67 248.58 214.07 248.69 208.87 248.8 206.27 249 208.63 249.21 213.37 249.41 215.74 249.62 213.52 249.84 209.09 250.05 206.88 250.26 209.33 250.47 214.22 250.68 216.67 250.86 214.19 251.04 209.24 251.22 206.77 251.41 210.78 251.6 218.82 251.79 222.83 251.99 216.08 252.18 202.57 252.38 195.82 252.48 206.51 252.59 227.9 252.7 238.6 252.93 221.39 253.17 186.96 253.4 169.75 253.61 187.27 253.81 222.3 254.02 239.82 254.28 225.72 254.54 197.52 254.8 183.42 255 200.17 255.21 233.68 255.41 250.43 255.68 229.01 255.94 186.17 256.2 164.75 256.33 188.93 256.47 237.27 256.6 261.45 256.93 242.71 257.27 205.22 257.6 186.48 257.82 200.68 258.03 229.09 258.25 243.29 258.5 227.05 258.75 194.56 259 178.32 259.22 193.06 259.44 222.54 259.66 237.28 259.87 224.53 260.09 199.03 260.3 186.27 260.6 198.77 260.9 223.76 261.2 236.25 261.4 224.65 261.6 201.45 261.8 189.84 261.98 201.52 262.15 224.88 262.33 236.56 262.62 224.55 262.91 200.53 263.2 188.52 263.3 203.59 263.4 233.73 263.5 248.8 263.83 230.47 264.17 193.8 264.5 175.46 264.69 190.3 264.88 219.98 265.08 234.82 265.35 220.7 265.63 192.44 265.9 178.32 266.1 193.97 266.3 225.29 266.5 240.95 266.77 227.99 267.03 202.08 267.3 189.13 267.6 199.15 267.9 219.19 268.2 229.22 268.37 221.16 268.53 205.04 268.7 196.98 268.89 204.38 269.07 219.17 269.26 226.57 269.45 220.43 269.65 208.14 269.84 202 270.06 208.22 270.28 220.65 270.5 226.87 270.71 220.83 270.92 208.74 271.13 202.7 271.32 208.14 271.51 219.04 271.7 224.48 271.8 218.5 271.9 206.54 272 200.55 272.27 207.52 272.53 221.44 272.8 228.4 273.01 222 273.22 209.19 273.43 202.78 273.61 207.76 273.79 217.71 273.96 222.68 274.18 216.36 274.4 203.71 274.62 197.39 274.75 204.86 274.87 219.81 275 227.28 275.18 220.74 275.36 207.65 275.54 201.11 275.75 206.57 275.95 217.48 276.15 222.94 276.37 217.14 276.59 205.54 276.81 199.74 276.99 205.52 277.17 217.1 277.35 222.88 277.67 218.19 277.98 208.81 278.3 204.12 278.51 208.99 278.72 218.73 278.94 223.6 279.13 219.29 279.33 210.68 279.53 206.37 279.73 210.9 279.92 219.95 280.12 224.48 280.21 219.93 280.31 210.82 280.4 206.27 280.58 210.8 280.75 219.85 280.93 224.38 281.12 220.9 281.31 213.93 281.5 210.45 281.68 213.78 281.87 220.44 282.05 223.77 282.27 220.61 282.48 214.3 282.7 211.15 282.9 214.17 283.11 220.21 283.31 223.23 283.52 220.3 283.74 214.44 283.95 211.51 284.14 214.42 284.32 220.25 284.51 223.16 284.71 220.32 284.91 214.64 285.11 211.8 285.31 214.52 285.51 219.98 285.72 222.7 285.94 219.84 286.17 214.12 286.4 211.26 286.58 214.33 286.77 220.46 286.95 223.53 287.16 219.62 287.38 211.81 287.59 207.9 287.81 212.04 288.03 220.33 288.25 224.48 288.45 220.75 288.66 213.28 288.87 209.55 289.06 212.45 289.25 218.23 289.44 221.13 289.62 218.1 289.81 212.05 290 209.02 290.18 212.76 290.36 220.24 290.54 223.98 290.75 220.4 290.95 213.22 291.16 209.64 291.34 212.94 291.52 219.56 291.7 222.87 291.89 219.67 292.08 213.26 292.26 210.06 292.48 213.31 292.69 219.79 292.9 223.04 293.11 219.58 293.31 212.66 293.51 209.2 293.7 212.13 293.88 217.97 294.07 220.89 294.21 217.44 294.36 210.53 294.5 207.08 294.72 210.42 294.94 217.11 295.15 220.45 295.35 217.42 295.55 211.36 295.74 208.33 295.96 211.62 296.18 218.2 296.4 221.49 296.6 218.05 296.81 211.19 297.01 207.76 297.21 211.25 297.41 218.25 297.61 221.74 297.8 218.09 298 210.79 298.2 207.15 298.4 210.73 298.59 217.89 298.79 221.47 299.01 217.55 299.23 209.7 299.46 205.78 299.64 210.13 299.83 218.81 300.02 223.16 300.11 218.5 300.21 209.19 300.3 204.53 300.48 208.65 300.65 216.88 300.83 221 301.05 217.7 301.27 211.09 301.49 207.79 301.7 211.62 301.91 219.28 302.11 223.11 302.31 218.67 302.5 209.79 302.7 205.35 302.91 209.32 303.11 217.25 303.32 221.22 303.49 217.77 303.67 210.86 303.85 207.4 304.04 211.1 304.24 218.5 304.44 222.2 304.64 218.3 304.83 210.48 305.02 206.57 305.22 210.33 305.42 217.84 305.61 221.6 305.74 217.54 305.87 209.41 306 205.35 306.21 209.01 306.43 216.35 306.64 220.01 306.96 215.4 307.28 206.18 307.6 201.57 307.82 206.38 308.05 215.98 308.27 220.78 308.47 216.74 308.67 208.64 308.86 204.6 309.07 208.67 309.27 216.82 309.48 220.9 309.65 217.01 309.83 209.24 310 205.35 310.19 208.98 310.37 216.26 310.56 219.89 310.77 216.74 310.98 210.43 311.2 207.27 311.4 210.76 311.61 217.74 311.82 221.23 312.03 217.85 312.24 211.08 312.45 207.7 312.67 210.87 312.88 217.21 313.1 220.39 313.29 216.63 313.47 209.11 313.65 205.35 313.87 208.84 314.09 215.83 314.31 219.32 314.53 216.16 314.75 209.85 314.97 206.69 315.16 210.16 315.35 217.08 315.54 220.55 315.76 217.35 315.98 210.97 316.2 207.78 316.41 210.7 316.62 216.56 316.82 219.48 317.05 215.74 317.27 208.27 317.5 204.53 317.68 208.74 317.86 217.17 318.05 221.38 318.27 217.36 318.5 209.31 318.72 205.28 318.94 208.89 319.15 216.11 319.37 219.72 319.54 215.31 319.72 206.49 319.9 202.08 320.1 206.62 320.29 215.69 320.49 220.23 320.7 216.15 320.92 208 321.14 203.93 321.33 207.98 321.53 216.1 321.73 220.15 321.93 215.94 322.12 207.52 322.32 203.31 322.54 207.59 322.75 216.15 322.97 220.43 323.16 215.64 323.35 206.06 323.55 201.27 323.77 205.77 323.99 214.78 324.22 219.28 324.43 216.32 324.63 210.38 324.84 207.41 325.02 210.26 325.21 215.95 325.39 218.8 325.6 215.44 325.8 208.71 326.01 205.35 326.22 208.59 326.43 215.08 326.64 218.32 326.85 215.57 327.06 210.06 327.27 207.31 327.45 210.15 327.64 215.82 327.83 218.65 327.92 215.55 328.01 209.36 328.1 206.27 328.29 209.5 328.48 215.98 328.66 219.21 328.85 216.78 329.03 211.92 329.22 209.5 329.43 212.17 329.65 217.51 329.86 220.18 330.11 217.52 330.35 212.19 330.6 209.53 330.78 211.91 330.97 216.68 331.15 219.07 331.36 216.86 331.57 212.45 331.77 210.24 331.98 212.43 332.18 216.8 332.38 218.99 332.6 216.91 332.81 212.77 333.02 210.69 333.23 212.79 333.44 216.99 333.65 219.09 333.87 216.93 334.09 212.61 334.3 210.45 334.51 212.36 334.73 216.17 334.94 218.08 335.13 216.36 335.33 212.92 335.52 211.2 335.72 213.1 335.92 216.9 336.12 218.8 336.33 216.91 336.53 213.14 336.74 211.26 336.93 213.15 337.12 216.94 337.31 218.84 337.54 216.93 337.76 213.11 337.98 211.21 338.15 213.19 338.33 217.16 338.51 219.15 338.72 217.07 338.94 212.92 339.16 210.84 339.37 212.66 339.58 216.3 339.78 218.12 339.96 216.29 340.14 212.61 340.32 210.78 340.52 212.44 340.71 215.77 340.91 217.43 341.12 215.94 341.32 212.96 341.53 211.47 341.72 213.18 341.92 216.6 342.11 218.31 342.33 216.53 342.54 212.99 342.76 211.22 342.94 212.84 343.13 216.07 343.31 217.69 343.53 216.13 343.74 213 343.96 211.44 344.14 212.98 344.32 216.06 344.5 217.61 344.73 215.91 344.95 212.51 345.17 210.81 345.4 212.34 345.62 215.41 345.84 216.94 346.04 215.32 346.24 212.07 346.44 210.45 346.65 212.39 346.85 216.28 347.06 218.22 347.25 216.25 347.45 212.31 347.65 210.34 347.86 212.15 348.07 215.78 348.28 217.59 348.47 215.69 348.67 211.88 348.86 209.97 349.07 212.06 349.29 216.23 349.5 218.32 349.73 215.51 349.97 209.89 350.2 207.08 350.42 209.83 350.65 215.34 350.87 218.09 351.09 216.13 351.3 212.23 351.52 210.28 351.72 211.86 351.92 215.04 352.12 216.63 352.34 215.31 352.55 212.68 352.77 211.36 352.99 212.95 353.21 216.14 353.43 217.73 353.62 215.99 353.81 212.52 354 210.79 354.21 212.48 354.42 215.85 354.64 217.54 354.82 215.98 355 212.85 355.18 211.29 355.36 212.88 355.54 216.05 355.73 217.64 355.91 215.84 356.1 212.25 356.29 210.45 356.53 212.36 356.76 216.19 357 218.1" stroke="#2030ff" stroke-width="0.35" fill="none" stroke-linejoin="round"/>
<path d="M217 213.1 217.22 213.1 217.45 213.1 217.67 213.1 217.88 213.12 218.09 213.15 218.31 213.16 218.53 213.15 218.75 213.12 218.98 213.1 219.2 213.12 219.42 213.16 219.64 213.18 219.85 213.16 220.07 213.12 220.29 213.1 220.48 213.12 220.66 213.15 220.85 213.17 221.06 213.15 221.27 213.12 221.48 213.1 221.67 213.12 221.86 213.15 222.05 213.17 222.26 213.15 222.48 213.12 222.7 213.1 222.91 213.12 223.13 213.15 223.34 213.17 223.56 213.15 223.79 213.12 224.01 213.1 224.19 213.12 224.38 213.16 224.57 213.17 224.76 213.16 224.96 213.12 225.16 213.1 225.36 213.12 225.56 213.15 225.76 213.17 225.97 213.09 226.17 212.94 226.38 212.86 226.58 213.09 226.79 213.56 227 213.8 227.22 213.32 227.43 212.37 227.65 211.89 227.85 212.69 228.05 214.28 228.25 215.08 228.43 214.07 228.6 212.06 228.78 211.05 228.96 212.32 229.15 214.87 229.33 216.14 229.55 214.08 229.78 209.96 230 207.9 230.21 210.25 230.42 214.95 230.63 217.3 230.82 215.52 231.01 211.96 231.2 210.18 231.42 211.37 231.64 213.74 231.85 214.93 232.04 214.08 232.22 212.37 232.4 211.51 232.7 212.38 233 214.13 233.3 215 233.5 214.05 233.7 212.14 233.9 211.19 234.16 212.27 234.43 214.42 234.7 215.5 234.9 214.12 235.11 211.38 235.31 210 235.51 211.39 235.71 214.17 235.91 215.56 236.13 213.45 236.35 209.22 236.58 207.1 236.72 209.85 236.86 215.35 237 218.1 237.19 215.96 237.37 211.67 237.56 209.52 237.78 211.08 237.99 214.18 238.21 215.74 238.43 214.52 238.65 212.08 238.87 210.86 239.11 212.02 239.36 214.34 239.6 215.5 239.8 213.88 239.99 210.62 240.19 209 240.53 210.75 240.86 214.25 241.2 216 241.42 214.23 241.64 210.68 241.86 208.91 242.06 210.53 242.26 213.77 242.46 215.39 242.66 213.14 242.86 208.65 243.06 206.4 243.2 209.12 243.35 214.58 243.5 217.3 243.72 214.98 243.93 210.35 244.15 208.04 244.36 209.87 244.58 213.52 244.79 215.35 244.96 213.9 245.14 211 245.32 209.56 245.55 211.04 245.77 214.01 246 215.5 246.22 214.12 246.44 211.38 246.67 210 246.87 211.35 247.07 214.04 247.27 215.38 247.49 213.95 247.71 211.1 247.94 209.67 248.12 211.4 248.29 214.87 248.47 216.6 248.58 214.05 248.69 208.95 248.8 206.4 249 208.72 249.21 213.36 249.41 215.69 249.62 213.51 249.84 209.17 250.05 207 250.26 209.4 250.47 214.2 250.68 216.6 250.86 214.17 251.04 209.32 251.22 206.89 251.41 210.83 251.6 218.7 251.79 222.64 251.99 216.02 252.18 202.78 252.38 196.16 252.48 206.64 252.59 227.61 252.7 238.1 252.93 221.22 253.17 187.47 253.4 170.6 253.61 187.77 253.81 222.12 254.02 239.3 254.28 225.47 254.54 197.82 254.8 184 255 200.42 255.21 233.27 255.41 249.7 255.68 228.7 255.94 186.7 256.2 165.7 256.33 189.4 256.47 236.8 256.6 260.5 256.93 242.12 257.27 205.38 257.6 187 257.82 200.92 258.03 228.77 258.25 242.7 258.5 226.78 258.75 194.93 259 179 259.22 193.45 259.44 222.36 259.66 236.81 259.87 224.31 260.09 199.3 260.3 186.8 260.6 199.05 260.9 223.55 261.2 235.8 261.4 224.43 261.6 201.68 261.8 190.3 261.98 201.75 262.15 224.65 262.33 236.1 262.62 224.33 262.91 200.78 263.2 189 263.3 203.78 263.4 233.32 263.5 248.1 263.83 230.12 264.17 194.18 264.5 176.2 264.69 190.75 264.88 219.85 265.08 234.4 265.35 220.55 265.63 192.85 265.9 179 266.1 194.35 266.3 225.05 266.5 240.4 266.77 227.7 267.03 202.3 267.3 189.6 267.6 199.42 267.9 219.07 268.2 228.9 268.37 221 268.53 205.2 268.7 197.3 268.89 204.55 269.07 219.05 269.26 226.3 269.45 220.28 269.65 208.24 269.84 202.22 270.06 208.32 270.28 220.51 270.5 226.6 270.71 220.68 270.92 208.83 271.13 202.9 271.32 208.24 271.51 218.92 271.7 224.26 271.8 218.4 271.9 206.67 272 200.8 272.27 207.62 272.53 221.28 272.8 228.1 273.01 221.82 273.22 209.26 273.43 202.98 273.61 207.86 273.79 217.62 273.96 222.5 274.18 216.3 274.4 203.9 274.62 197.7 274.75 205.02 274.87 219.67 275 227 275.18 220.59 275.36 207.76 275.54 201.34 275.75 206.7 275.95 217.4 276.15 222.75 276.37 217.06 276.59 205.69 276.81 200 276.99 205.67 277.17 217.02 277.35 222.69 277.67 218.09 277.98 208.9 278.3 204.3 278.51 209.07 278.72 218.62 278.94 223.39 279.13 219.17 279.33 210.72 279.53 206.5 279.73 210.94 279.92 219.82 280.12 224.26 280.21 219.79 280.31 210.86 280.4 206.4 280.58 210.84 280.75 219.72 280.93 224.16 281.12 220.75 281.31 213.92 281.5 210.5 281.68 213.76 281.87 220.29 282.05 223.56 282.27 220.46 282.48 214.28 282.7 211.18 282.9 214.15 283.11 220.07 283.31 223.04 283.52 220.16 283.74 214.41 283.95 211.54 284.14 214.39 284.32 220.11 284.51 222.96 284.71 220.18 284.91 214.61 285.11 211.82 285.31 214.5 285.51 219.84 285.72 222.52 285.94 219.71 286.17 214.1 286.4 211.3 286.58 214.31 286.77 220.32 286.95 223.33 287.16 219.49 287.38 211.83 287.59 208 287.81 212.06 288.03 220.19 288.25 224.25 288.45 220.6 288.66 213.28 288.87 209.62 289.06 212.46 289.25 218.13 289.44 220.97 289.62 218 289.81 212.07 290 209.1 290.18 212.77 290.36 220.1 290.54 223.77 290.75 220.25 290.95 213.22 291.16 209.7 291.34 212.95 291.52 219.44 291.7 222.68 291.89 219.54 292.08 213.26 292.26 210.12 292.48 213.3 292.69 219.66 292.9 222.84 293.11 219.45 293.31 212.67 293.51 209.28 293.7 212.14 293.88 217.88 294.07 220.74 294.21 217.36 294.36 210.59 294.5 207.2 294.72 210.48 294.94 217.03 295.15 220.31 295.35 217.34 295.55 211.4 295.74 208.43 295.96 211.65 296.18 218.1 296.4 221.32 296.6 217.96 296.81 211.23 297.01 207.86 297.21 211.29 297.41 218.14 297.61 221.57 297.8 217.99 298 210.84 298.2 207.26 298.4 210.77 298.59 217.79 298.79 221.31 299.01 217.46 299.23 209.77 299.46 205.92 299.64 210.18 299.83 218.7 300.02 222.96 300.11 218.4 300.21 209.27 300.3 204.7 300.48 208.74 300.65 216.81 300.83 220.84 301.05 217.61 301.27 211.13 301.49 207.89 301.7 211.65 301.91 219.16 302.11 222.91 302.31 218.56 302.5 209.85 302.7 205.5 302.91 209.39 303.11 217.17 303.32 221.06 303.49 217.68 303.67 210.9 303.85 207.51 304.04 211.14 304.24 218.4 304.44 222.03 304.64 218.2 304.83 210.53 305.02 206.7 305.22 210.39 305.42 217.75 305.61 221.43 305.74 217.45 305.87 209.48 306 205.5 306.21 209.09 306.43 216.28 306.64 219.88 306.96 215.36 307.28 206.32 307.6 201.8 307.82 206.51 308.05 215.92 308.27 220.63 308.47 216.67 308.67 208.73 308.86 204.76 309.07 208.76 309.27 216.75 309.48 220.75 309.65 216.94 309.83 209.31 310 205.5 310.19 209.06 310.37 216.19 310.56 219.76 310.77 216.67 310.98 210.48 311.2 207.39 311.4 210.81 311.61 217.65 311.82 221.07 312.03 217.75 312.24 211.12 312.45 207.8 312.67 210.91 312.88 217.13 313.1 220.24 313.29 216.56 313.47 209.19 313.65 205.5 313.87 208.92 314.09 215.77 314.31 219.2 314.53 216.1 314.75 209.91 314.97 206.82 315.16 210.22 315.35 217.01 315.54 220.4 315.76 217.27 315.98 211.01 316.2 207.88 316.41 210.75 316.62 216.49 316.82 219.36 317.05 215.69 317.27 208.36 317.5 204.7 317.68 208.83 317.86 217.09 318.05 221.22 318.27 217.27 318.5 209.38 318.72 205.44 318.94 208.97 319.15 216.05 319.37 219.59 319.54 215.27 319.72 206.62 319.9 202.3 320.1 206.75 320.29 215.64 320.49 220.09 320.7 216.09 320.92 208.1 321.14 204.11 321.33 208.08 321.53 216.04 321.73 220.01 321.93 215.89 322.12 207.63 322.32 203.5 322.54 207.7 322.75 216.09 322.97 220.29 323.16 215.59 323.35 206.2 323.55 201.5 323.77 205.92 323.99 214.75 324.22 219.16 324.43 216.25 324.63 210.44 324.84 207.53 325.02 210.32 325.21 215.9 325.39 218.69 325.6 215.39 325.8 208.8 326.01 205.5 326.22 208.68 326.43 215.04 326.64 218.22 326.85 215.52 327.06 210.12 327.27 207.43 327.45 210.2 327.64 215.76 327.83 218.54 327.92 215.51 328.01 209.44 328.1 206.4 328.29 209.57 328.48 215.92 328.66 219.09 328.85 216.71 329.03 211.95 329.22 209.57 329.43 212.18 329.65 217.42 329.86 220.04 330.11 217.43 330.35 212.21 330.6 209.6 330.78 211.94 330.97 216.61 331.15 218.95 331.36 216.78 331.57 212.46 331.77 210.3 331.98 212.44 332.18 216.73 332.38 218.87 332.6 216.84 332.81 212.77 333.02 210.74 333.23 212.8 333.44 216.91 333.65 218.97 333.87 216.85 334.09 212.62 334.3 210.5 334.51 212.37 334.73 216.11 334.94 217.98 335.13 216.29 335.33 212.92 335.52 211.23 335.72 213.1 335.92 216.82 336.12 218.69 336.33 216.84 336.53 213.14 336.74 211.29 336.93 213.15 337.12 216.87 337.31 218.73 337.54 216.86 337.76 213.11 337.98 211.24 338.15 213.19 338.33 217.09 338.51 219.03 338.72 217 338.94 212.92 339.16 210.88 339.37 212.67 339.58 216.24 339.78 218.02 339.96 216.22 340.14 212.62 340.32 210.82 340.52 212.45 340.71 215.71 340.91 217.34 341.12 215.88 341.32 212.97 341.53 211.51 341.72 213.18 341.92 216.53 342.11 218.2 342.33 216.47 342.54 213 342.76 211.26 342.94 212.85 343.13 216.02 343.31 217.6 343.53 216.07 343.74 213 343.96 211.47 344.14 212.98 344.32 216.01 344.5 217.52 344.73 215.85 344.95 212.52 345.17 210.85 345.4 212.35 345.62 215.36 345.84 216.86 346.04 215.27 346.24 212.09 346.44 210.5 346.65 212.41 346.85 216.22 347.06 218.12 347.25 216.19 347.45 212.33 347.65 210.39 347.86 212.17 348.07 215.73 348.28 217.5 348.47 215.64 348.67 211.9 348.86 210.03 349.07 212.08 349.29 216.17 349.5 218.22 349.73 215.46 349.97 209.95 350.2 207.2 350.42 209.9 350.65 215.29 350.87 217.99 351.09 216.07 351.3 212.25 351.52 210.33 351.72 211.89 351.92 215 352.12 216.56 352.34 215.27 352.55 212.69 352.77 211.4 352.99 212.96 353.21 216.08 353.43 217.64 353.62 215.94 353.81 212.53 354 210.83 354.21 212.49 354.42 215.8 354.64 217.45 354.82 215.92 355 212.86 355.18 211.33 355.36 212.88 355.54 215.99 355.73 217.55 355.91 215.79 356.1 212.26 356.29 210.5 356.53 212.38 356.76 216.12 357 218" stroke="#e93350" stroke-width="1.0" fill="none" stroke-linejoin="round"/>
</g>
<rect x="216.5" y="154.5" width="140.5" height="117.1" fill="none" stroke="#c2c2c2" stroke-width="1"/>
<text x="214.9" y="273.4" class="tk" text-anchor="end">-0.5</text>
<text x="214.9" y="261.69" class="tk" text-anchor="end">-0.4</text>
<text x="214.9" y="249.98" class="tk" text-anchor="end">-0.3</text>
<text x="214.9" y="238.27" class="tk" text-anchor="end">-0.2</text>
<text x="214.9" y="226.56" class="tk" text-anchor="end">-0.1</text>
<text x="214.9" y="214.85" class="tk" text-anchor="end">0</text>
<text x="214.9" y="203.14" class="tk" text-anchor="end">0.1</text>
<text x="214.9" y="191.43" class="tk" text-anchor="end">0.2</text>
<text x="214.9" y="179.72" class="tk" text-anchor="end">0.3</text>
<text x="214.9" y="168.01" class="tk" text-anchor="end">0.4</text>
<text x="214.9" y="156.3" class="tk" text-anchor="end">0.5</text>
<text x="216.5" y="277.5" class="tk" text-anchor="middle">0</text>
<text x="244.6" y="277.5" class="tk" text-anchor="middle">10</text>
<text x="272.7" y="277.5" class="tk" text-anchor="middle">20</text>
<text x="300.8" y="277.5" class="tk" text-anchor="middle">30</text>
<text x="328.9" y="277.5" class="tk" text-anchor="middle">40</text>
<text x="357" y="277.5" class="tk" text-anchor="middle">50</text>
<text x="335.7" y="165.9" class="lt">(e)</text>
<rect x="275.3" y="215.3" width="93.9" height="42.9" fill="#fff"/>
<clipPath id="ie"><rect x="275.3" y="215.3" width="93.9" height="42.9"/></clipPath>
<path d="M275.3 215.3V258.2M306.6 215.3V258.2M337.9 215.3V258.2M369.2 215.3V258.2" stroke="#ececec" stroke-width="0.5" fill="none"/>
<g clip-path="url(#ie)">
<path d="M275.3 238.55C276.3 238.08 279.03 235.48 281.3 235.75C283.57 236.02 286.43 240.37 288.9 240.15C291.37 239.93 293.58 233.92 296.1 234.45C298.62 234.98 301.63 244.4 304 243.35C306.37 242.3 307.93 227.22 310.3 228.15C312.67 229.08 315.62 249.8 318.2 248.95C320.78 248.1 323.28 222.2 325.8 223.05C328.32 223.9 330.88 254.77 333.3 254.05C335.72 253.33 337.93 218.87 340.3 218.75C342.67 218.63 345.2 252.63 347.5 253.35C349.8 254.07 351.58 223.05 354.1 223.05C356.62 223.05 360.08 252.65 362.6 253.35C365.12 254.05 368.1 231.6 369.2 227.25" stroke="#3040ff" stroke-width="1.05" fill="none" stroke-linejoin="round"/>
<path d="M275.3 238.2C276.3 237.73 279.03 235.13 281.3 235.4C283.57 235.67 286.43 240.02 288.9 239.8C291.37 239.58 293.58 233.57 296.1 234.1C298.62 234.63 301.63 244.05 304 243C306.37 241.95 307.93 226.87 310.3 227.8C312.67 228.73 315.62 249.45 318.2 248.6C320.78 247.75 323.28 221.85 325.8 222.7C328.32 223.55 330.88 254.42 333.3 253.7C335.72 252.98 337.93 218.52 340.3 218.4C342.67 218.28 345.2 252.28 347.5 253C349.8 253.72 351.58 222.7 354.1 222.7C356.62 222.7 360.08 252.3 362.6 253C365.12 253.7 368.1 231.25 369.2 226.9" stroke="#ff2a3c" stroke-width="1.35" fill="none" stroke-linejoin="round"/>
</g>
<rect x="275.3" y="215.3" width="93.9" height="42.9" fill="none" stroke="#c2c2c2" stroke-width="0.9"/>
<text x="275.3" y="264.4" class="ik" text-anchor="middle">3</text>
<text x="306.6" y="264.4" class="ik" text-anchor="middle">4</text>
<text x="337.9" y="264.4" class="ik" text-anchor="middle">5</text>
<text x="369.2" y="264.4" class="ik" text-anchor="middle">6</text>
<clipPath id="cf"><rect x="387.8" y="153.6" width="141.7" height="118.2"/></clipPath>
<path d="M387.8 153.6V271.8M416.14 153.6V271.8M444.48 153.6V271.8M472.82 153.6V271.8M501.16 153.6V271.8M529.5 153.6V271.8M387.8 271.8H529.5M387.8 252.1H529.5M387.8 232.4H529.5M387.8 212.7H529.5M387.8 193H529.5M387.8 173.3H529.5M387.8 153.6H529.5" stroke="#f1f1f1" stroke-width="0.6" fill="none"/>
<g clip-path="url(#cf)">
<path d="M388.58 212.7 389.75 212.7 390.84 212.7 392.06 212.7 393.26 212.7 394.44 212.7 395.61 212.7 396.76 212.7 397.95 212.7 399 212.41 400.31 211.09 401.45 210.19 402.53 209.91 403.82 210.89 405.13 211.09 406.27 211.09 407.4 211.09 408.38 210.13 409.5 209.19 410.74 209.98 412.32 209.98 413.7 209.98 414.8 208.64 415.99 209.19 417.2 209.19 418.46 209.19 419.62 208.24 420.8 207.45 421.92 205.23 423.3 205.23 425 196.45 426.4 177.74 427.8 177.74 428.9 185.72 430.02 193.15 431.25 193.15 432 193.18 433.1 193.18 434.59 193.18 435.9 184.7 436.96 186.75 438.14 187.15 439 193.8 440.2 199.78 441.9 203.3 443.06 203.3 444 203.3 445 198.45 446.6 202.59 447.6 202.59 448.8 205.64 449.96 206.72 451.5 209.67 452.68 210.75 453.81 211.65 455.01 211.88 456.18 211.88 457.46 211.88 458.69 211.84 459.96 211.28 461.4 210.24 462.65 209.05 463.78 209.32 464.96 209.32 466.3 209.32 467.64 208.68 468.83 208.68 470.06 208.62 471.2 207.85 472.28 208.43 473.51 208.43 474.5 208.66 475.67 208.66 476.83 208.66 477.96 207.56 479.4 204.83 480.57 204.34 481.8 207.54 482.94 207.54 484.3 207.93 485.62 208.45 486.94 208.45 488.23 208.45 489.54 207.44 490.8 207.44 491.99 206.48 493.1 206.48 494.1 205.04 495.35 205.04 496.6 205.04 497.73 204.58 499 206.34 500.24 206.34 501.5 209.25 502.83 209.75 503.9 210.76 505.1 210.76 506.3 210.76 507.61 210.28 508.91 210.68 510.07 210.68 511.26 210.92 512.32 210.92 513.42 210.92 514.55 210.87 515.65 210.87 516.87 210.66 518.01 210.66 519.3 209.75 520.58 209.55 521.81 209.36 523.03 209.36 524.4 209.96 525.53 210.91 526.73 211.67 527.89 211.67 528.46 216.67 527.36 216.57 526.12 216 525.01 216 523.6 216 522.38 216.82 521.15 217.45 519.96 216.59 518.68 216.59 517.42 216.59 516.25 216.72 515.11 217.27 514.02 217.27 512.85 216.87 511.79 216.87 510.7 216.87 509.48 217.08 508.26 217.18 506.97 217.84 505.63 217.84 504.57 217.65 503.48 217.65 502.16 217.57 500.77 217.57 499.57 217.57 498.39 218.06 497.19 218.06 495.92 219.25 494.73 217.91 493.69 217.91 492.53 217.91 491.37 218.85 490.14 218.1 488.88 218.1 487.56 218.1 486.29 218.56 484.95 218.56 483.47 219.38 482.39 219.38 481.14 220.05 480.03 219.74 478.57 219.74 477.37 219.74 476.31 219.1 475.09 219.1 474.06 219.1 472.93 219.02 471.74 219.02 470.61 219.02 469.5 219.26 468.2 219.77 466.97 221.07 465.63 221.64 464.42 221.33 463.2 221.33 462 221.33 460.6 221.53 459.34 222.08 458.13 219.82 456.84 219.82 455.56 219.82 454.37 221.21 453.23 221.5 452.15 221.79 450.53 221.79 449.33 221.79 448.2 222.43 447 222.43 445.6 222.23 444.67 222.23 443.6 221.35 442.49 221.35 440.9 221.35 439.65 228.5 438.6 228.5 437.52 234.11 436.3 234.11 435.15 236.83 434 233.86 432.56 233.86 431.7 233.86 430.65 235.89 429.49 235.89 428.3 235.89 426.99 250.51 425.5 234.65 424 219.25 422.4 216.19 421.34 216.19 420.1 216.19 419.01 216.38 417.84 216.38 416.62 216.38 415.32 216.04 414.26 216.04 413.2 215.84 411.7 215.84 410.07 215.84 409 215.84 407.8 215.36 406.83 214.86 405.74 214.86 404.48 214.86 403.17 215.06 402 215.06 400.87 215.06 399.67 214.88 398.6 212.78 397.38 212.78 396.18 212.77 395.06 212.77 393.91 212.77 392.7 212.76 391.42 212.76 390.32 212.76 389.17 212.7 388 212.7Z" fill="#ef6478" fill-opacity="0.85" stroke="none"/>
<path d="M388 212.7 388.19 212.7 388.39 212.7 388.58 212.7 388.78 212.72 388.97 212.76 389.17 212.77 389.36 212.76 389.56 212.72 389.75 212.7 389.94 212.72 390.13 212.76 390.32 212.78 390.49 212.76 390.67 212.72 390.84 212.7 391.04 212.72 391.23 212.75 391.42 212.77 391.63 212.75 391.84 212.72 392.06 212.7 392.27 212.72 392.48 212.77 392.7 212.79 392.89 212.77 393.07 212.72 393.26 212.7 393.48 212.72 393.69 212.76 393.91 212.78 394.08 212.76 394.26 212.72 394.44 212.7 394.64 212.72 394.85 212.75 395.06 212.77 395.24 212.75 395.43 212.72 395.61 212.7 395.8 212.72 395.99 212.76 396.18 212.79 396.37 212.76 396.56 212.72 396.76 212.7 396.96 212.72 397.17 212.77 397.38 212.79 397.57 212.69 397.76 212.49 397.95 212.38 398.16 213.05 398.38 214.38 398.6 215.05 398.73 214.03 398.87 211.99 399 210.97 399.22 212.05 399.45 214.23 399.67 215.32 399.89 213.99 400.1 211.33 400.31 210 400.5 211.31 400.69 213.92 400.87 215.23 401.07 213.65 401.26 210.49 401.45 208.9 401.63 211.03 401.82 215.27 402 217.39 402.18 214.74 402.36 209.44 402.53 206.78 402.75 208.9 402.96 213.12 403.17 215.23 403.39 213.85 403.6 211.08 403.82 209.7 404.04 211.12 404.26 213.97 404.48 215.4 404.7 214.24 404.91 211.91 405.13 210.75 405.33 211.82 405.54 213.95 405.74 215.02 405.92 214.01 406.1 211.98 406.27 210.97 406.46 212.11 406.65 214.41 406.83 215.56 407.02 214.15 407.21 211.35 407.4 209.95 407.53 211.48 407.67 214.54 407.8 216.07 407.99 214.28 408.19 210.72 408.38 208.93 408.59 211.48 408.8 216.58 409 219.13 409.17 215.66 409.33 208.72 409.5 205.25 409.69 208.18 409.88 214.02 410.07 216.94 410.3 214.91 410.52 210.83 410.74 208.8 411.06 210.62 411.38 214.25 411.7 216.07 411.91 214.49 412.12 211.35 412.32 209.78 412.62 211.61 412.91 215.26 413.2 217.09 413.37 214.79 413.53 210.2 413.7 207.91 413.89 210 414.07 214.19 414.26 216.29 414.44 214.3 414.62 210.33 414.8 208.34 414.97 210.81 415.15 215.76 415.32 218.23 415.55 214.81 415.77 207.96 415.99 204.54 416.2 208.54 416.41 216.55 416.62 220.55 416.81 217.65 417.01 211.83 417.2 208.93 417.41 210.86 417.63 214.72 417.84 216.65 418.05 214.47 418.25 210.09 418.46 207.91 418.64 210.46 418.83 215.56 419.01 218.11 419.21 215.35 419.41 209.83 419.62 207.07 419.78 209.57 419.94 214.58 420.1 217.09 420.33 213.59 420.57 206.61 420.8 203.11 420.98 206.45 421.16 213.11 421.34 216.45 421.54 213.5 421.73 207.62 421.92 204.68 422.08 208.44 422.24 215.97 422.4 219.74 422.7 213.62 423 201.38 423.3 195.26 423.53 205.51 423.77 226.01 424 236.26 424.33 218.31 424.67 182.41 425 164.45 425.17 187.12 425.33 232.46 425.5 255.13 425.8 235.14 426.1 195.16 426.4 175.16 426.6 194.7 426.8 233.76 426.99 253.3 427.26 229.45 427.53 181.77 427.8 157.93 427.97 185.57 428.13 240.85 428.3 268.49 428.5 242.13 428.7 189.39 428.9 163.03 429.1 181.67 429.3 218.96 429.49 237.6 429.67 224.13 429.85 197.2 430.02 183.73 430.23 199.24 430.44 230.24 430.65 245.75 430.85 232.24 431.05 205.22 431.25 191.71 431.4 205.6 431.55 233.38 431.7 247.28 431.8 229.07 431.9 192.66 432 174.45 432.19 189.69 432.37 220.18 432.56 235.42 432.74 224.5 432.92 202.66 433.1 191.74 433.4 203.46 433.7 226.89 434 238.61 434.2 224.61 434.39 196.63 434.59 182.64 434.78 197.29 434.96 226.59 435.15 241.24 435.4 220.59 435.65 179.29 435.9 158.64 436.03 182.18 436.17 229.25 436.3 252.79 436.52 233.38 436.74 194.57 436.96 175.16 437.14 190.29 437.33 220.56 437.52 235.69 437.72 222.98 437.93 197.55 438.14 184.84 438.29 199.46 438.45 228.69 438.6 243.3 438.73 228.79 438.87 199.77 439 185.26 439.22 196.36 439.44 218.56 439.65 229.66 439.84 220.35 440.02 201.72 440.2 192.4 440.43 202.4 440.67 222.39 440.9 232.39 441.23 224 441.57 207.22 441.9 198.83 442.1 204.62 442.29 216.2 442.49 221.99 442.68 217.14 442.87 207.45 443.06 202.61 443.24 208.47 443.42 220.2 443.6 226.06 443.74 218.9 443.87 204.57 444 197.4 444.22 203.78 444.45 216.55 444.67 222.94 444.78 216.04 444.89 202.25 445 195.36 445.2 203.62 445.4 220.15 445.6 228.41 445.93 220.22 446.27 203.85 446.6 195.67 446.73 203.32 446.87 218.62 447 226.27 447.2 220.16 447.4 207.95 447.6 201.85 447.8 207.17 448 217.82 448.2 223.15 448.4 217.45 448.6 206.06 448.8 200.36 448.98 206.08 449.15 217.51 449.33 223.23 449.54 218.7 449.75 209.65 449.96 205.12 450.15 209.46 450.34 218.13 450.53 222.46 450.85 218.42 451.18 210.32 451.5 206.27 451.72 210.55 451.93 219.11 452.15 223.39 452.32 219.9 452.5 212.93 452.68 209.45 452.86 212.9 453.05 219.79 453.23 223.23 453.42 220.08 453.62 213.76 453.81 210.61 454 213.49 454.19 219.26 454.37 222.15 454.58 219.51 454.8 214.22 455.01 211.57 455.19 214.14 455.38 219.27 455.56 221.84 455.77 219.33 455.98 214.32 456.18 211.82 456.4 213.95 456.62 218.21 456.84 220.34 457.05 218.2 457.26 213.92 457.46 211.78 457.68 214.53 457.91 220.02 458.13 222.77 458.32 219.87 458.5 214.07 458.69 211.18 458.91 214.2 459.12 220.25 459.34 223.27 459.55 219.97 459.76 213.37 459.96 210.06 460.18 213.4 460.39 220.06 460.6 223.39 460.87 219.52 461.13 211.78 461.4 207.91 461.6 211.47 461.8 218.61 462 222.18 462.22 218.83 462.43 212.13 462.65 208.78 462.83 212.07 463.02 218.67 463.2 221.96 463.4 218.51 463.59 211.6 463.78 208.15 463.99 211.87 464.21 219.31 464.42 223.03 464.6 219.54 464.78 212.56 464.96 209.07 465.18 212.38 465.4 219 465.63 222.3 465.85 218.3 466.08 210.28 466.3 206.27 466.52 210.33 466.75 218.43 466.97 222.48 467.2 218.96 467.42 211.91 467.64 208.38 467.83 211.71 468.01 218.36 468.2 221.69 468.41 218.35 468.62 211.66 468.83 208.32 469.06 211.31 469.28 217.29 469.5 220.29 469.69 217.09 469.87 210.69 470.06 207.49 470.24 210.55 470.43 216.68 470.61 219.74 470.81 216.14 471 208.95 471.2 205.36 471.38 208.89 471.56 215.95 471.74 219.48 471.92 216.48 472.1 210.47 472.28 207.47 472.5 211.07 472.71 218.26 472.93 221.85 473.12 218.42 473.32 211.55 473.51 208.11 473.69 211.6 473.88 218.57 474.06 222.06 474.2 218.52 474.35 211.44 474.5 207.91 474.7 210.82 474.89 216.65 475.09 219.57 475.28 216.77 475.47 211.16 475.67 208.36 475.88 211.34 476.09 217.31 476.31 220.3 476.48 217.02 476.66 210.46 476.83 207.18 477.01 210.9 477.19 218.33 477.37 222.05 477.57 217.6 477.76 208.7 477.96 204.25 478.16 208.25 478.37 216.26 478.57 220.26 478.85 215.28 479.12 205.33 479.4 200.36 479.61 205.42 479.82 215.53 480.03 220.59 480.21 216.21 480.39 207.46 480.57 203.08 480.76 207.51 480.95 216.37 481.14 220.81 481.36 216.54 481.58 207.99 481.8 203.72 482 208.2 482.19 217.17 482.39 221.65 482.57 218.02 482.75 210.78 482.94 207.16 483.11 210.34 483.29 216.69 483.47 219.87 483.75 215.83 484.02 207.76 484.3 203.72 484.52 207.77 484.73 215.86 484.95 219.9 485.17 216.82 485.4 210.66 485.62 207.58 485.84 210.44 486.06 216.14 486.29 218.99 486.51 216.28 486.73 210.85 486.94 208.13 487.15 211.15 487.35 217.18 487.56 220.19 487.78 216.71 488 209.75 488.23 206.27 488.44 209.33 488.66 215.44 488.88 218.5 489.1 215.64 489.32 209.91 489.54 207.05 489.74 210.53 489.94 217.5 490.14 220.98 490.36 216.87 490.58 208.65 490.8 204.54 490.99 208.38 491.18 216.06 491.37 219.9 491.58 216.43 491.78 209.49 491.99 206.03 492.17 209.35 492.35 215.98 492.53 219.3 492.72 215.49 492.91 207.85 493.1 204.03 493.29 207.59 493.49 214.72 493.69 218.29 493.82 213.81 493.96 204.84 494.1 200.36 494.31 205.38 494.52 215.43 494.73 220.46 494.93 216.46 495.14 208.47 495.35 204.47 495.54 208.47 495.73 216.45 495.92 220.44 496.14 215.63 496.37 205.99 496.6 201.17 496.8 205.81 496.99 215.09 497.19 219.73 497.37 215.79 497.55 207.92 497.73 203.98 497.95 207.6 498.17 214.84 498.39 218.45 498.59 214.77 498.8 207.41 499 203.72 499.19 207.63 499.38 215.44 499.57 219.35 499.79 215.98 500.02 209.24 500.24 205.87 500.42 208.89 500.59 214.92 500.77 217.93 501.01 214.79 501.26 208.5 501.5 205.36 501.72 208.65 501.94 215.25 502.16 218.54 502.38 216.16 502.6 211.39 502.83 209 503.04 211.25 503.26 215.76 503.48 218.01 503.62 215.89 503.76 211.66 503.9 209.54 504.12 211.79 504.35 216.29 504.57 218.54 504.74 216.56 504.92 212.6 505.1 210.62 505.27 212.55 505.45 216.41 505.63 218.34 505.86 216.22 506.08 212 506.3 209.88 506.52 211.97 506.74 216.13 506.97 218.22 507.18 216.19 507.39 212.13 507.61 210.1 507.82 212.42 508.04 217.06 508.26 219.39 508.47 217.06 508.69 212.4 508.91 210.08 509.1 211.94 509.29 215.65 509.48 217.51 509.67 215.76 509.87 212.27 510.07 210.53 510.28 212.25 510.49 215.68 510.7 217.4 510.89 215.58 511.07 211.93 511.26 210.11 511.44 211.88 511.61 215.41 511.79 217.17 511.97 215.58 512.14 212.38 512.32 210.78 512.5 212.71 512.67 216.57 512.85 218.5 513.04 216.55 513.23 212.65 513.42 210.7 513.62 212.43 513.82 215.88 514.02 217.61 514.2 215.89 514.37 212.46 514.55 210.74 514.73 212.47 514.92 215.93 515.11 217.66 515.29 215.84 515.47 212.22 515.65 210.4 515.85 212.45 516.05 216.55 516.25 218.6 516.45 216.58 516.66 212.54 516.87 210.51 517.05 212.14 517.24 215.39 517.42 217.02 517.62 215.15 517.81 211.41 518.01 209.54 518.23 211.37 518.45 215.04 518.68 216.87 518.88 214.99 519.09 211.21 519.3 209.32 519.52 211.48 519.74 215.8 519.96 217.95 520.17 215.03 520.38 209.19 520.58 206.27 520.77 209.25 520.96 215.22 521.15 218.2 521.37 215.55 521.59 210.24 521.81 207.59 522 210.14 522.19 215.25 522.38 217.8 522.6 215.63 522.81 211.28 523.03 209.11 523.22 211.11 523.41 215.12 523.6 217.12 523.87 215.02 524.13 210.82 524.4 208.72 524.6 210.6 524.8 214.36 525.01 216.24 525.18 214.62 525.36 211.38 525.53 209.76 525.73 211.53 525.92 215.08 526.12 216.85 526.32 215.33 526.53 212.3 526.73 210.78 526.94 212.33 527.15 215.42 527.36 216.97 527.54 215.62 527.71 212.94 527.89 211.59 528.08 213.22 528.27 216.48 528.46 218.11" stroke="#2030ff" stroke-width="0.35" fill="none" stroke-linejoin="round"/>
<path d="M388 212.7 388.19 212.7 388.39 212.7 388.58 212.7 388.78 212.72 388.97 212.76 389.17 212.77 389.36 212.76 389.56 212.72 389.75 212.7 389.94 212.72 390.13 212.76 390.32 212.78 390.49 212.76 390.67 212.72 390.84 212.7 391.04 212.72 391.23 212.75 391.42 212.76 391.63 212.75 391.84 212.72 392.06 212.7 392.27 212.72 392.48 212.77 392.7 212.79 392.89 212.77 393.07 212.72 393.26 212.7 393.48 212.72 393.69 212.76 393.91 212.78 394.08 212.76 394.26 212.72 394.44 212.7 394.64 212.72 394.85 212.75 395.06 212.77 395.24 212.75 395.43 212.72 395.61 212.7 395.8 212.72 395.99 212.76 396.18 212.78 396.37 212.76 396.56 212.72 396.76 212.7 396.96 212.72 397.17 212.77 397.38 212.79 397.57 212.69 397.76 212.49 397.95 212.39 398.16 213.04 398.38 214.35 398.6 215 398.73 214 398.87 212 399 211 399.22 212.07 399.45 214.2 399.67 215.27 399.89 213.97 400.1 211.36 400.31 210.05 400.5 211.34 400.69 213.9 400.87 215.18 401.07 213.63 401.26 210.53 401.45 208.98 401.63 211.06 401.82 215.22 402 217.3 402.18 214.7 402.36 209.5 402.53 206.9 402.75 208.97 402.96 213.11 403.17 215.18 403.39 213.83 403.6 211.12 403.82 209.76 404.04 211.16 404.26 213.95 404.48 215.34 404.7 214.21 404.91 211.93 405.13 210.79 405.33 211.84 405.54 213.93 405.74 214.97 405.92 213.98 406.1 211.99 406.27 211 406.46 212.12 406.65 214.38 406.83 215.5 407.02 214.12 407.21 211.38 407.4 210 407.53 211.5 407.67 214.5 407.8 216 407.99 214.25 408.19 210.76 408.38 209.01 408.59 211.51 408.8 216.5 409 219 409.17 215.6 409.33 208.8 409.5 205.4 409.69 208.26 409.88 213.99 410.07 216.86 410.3 214.86 410.52 210.87 410.74 208.87 411.06 210.66 411.38 214.22 411.7 216 411.91 214.46 412.12 211.38 412.32 209.84 412.62 211.63 412.91 215.21 413.2 217 413.37 214.75 413.53 210.25 413.7 208 413.89 210.06 414.07 214.17 414.26 216.22 414.44 214.27 414.62 210.38 414.8 208.43 414.97 210.85 415.15 215.7 415.32 218.12 415.55 214.76 415.77 208.05 415.99 204.7 416.2 208.62 416.41 216.47 416.62 220.4 416.81 217.55 417.01 211.85 417.2 209 417.41 210.89 417.63 214.68 417.84 216.58 418.05 214.43 418.25 210.14 418.46 208 418.64 210.5 418.83 215.5 419.01 218 419.21 215.29 419.41 209.88 419.62 207.18 419.78 209.63 419.94 214.54 420.1 217 420.33 213.58 420.57 206.73 420.8 203.3 420.98 206.57 421.16 213.11 421.34 216.37 421.54 213.49 421.73 207.72 421.92 204.83 422.08 208.53 422.24 215.91 422.4 219.6 422.7 213.6 423 201.6 423.3 195.6 423.53 205.65 423.77 225.75 424 235.8 424.33 218.2 424.67 183 425 165.4 425.17 187.62 425.33 232.07 425.5 254.3 425.8 234.7 426.1 195.5 426.4 175.9 426.6 195.05 426.8 233.35 426.99 252.5 427.26 229.13 427.53 182.38 427.8 159 427.97 186.1 428.13 240.3 428.3 267.4 428.5 241.55 428.7 189.85 428.9 164 429.1 182.28 429.3 218.83 429.49 237.11 429.67 223.91 429.85 197.5 430.02 184.3 430.23 199.5 430.44 229.9 430.65 245.1 430.85 231.85 431.05 205.36 431.25 192.12 431.4 205.74 431.55 232.98 431.7 246.6 431.8 228.75 431.9 193.05 432 175.2 432.19 190.14 432.37 220.03 432.56 234.97 432.74 224.27 432.92 202.86 433.1 192.15 433.4 203.64 433.7 226.61 434 238.1 434.2 224.38 434.39 196.94 434.59 183.23 434.78 197.59 434.96 226.32 435.15 240.68 435.4 220.44 435.65 179.95 435.9 159.7 436.03 182.77 436.17 228.92 436.3 252 436.52 232.97 436.74 194.93 436.96 175.9 437.14 190.73 437.33 220.4 437.52 235.24 437.72 222.77 437.93 197.85 438.14 185.39 438.29 199.72 438.45 228.37 438.6 242.7 438.73 228.47 438.87 200.03 439 185.8 439.22 196.68 439.44 218.45 439.65 229.33 439.84 220.2 440.02 201.93 440.2 192.8 440.43 202.6 440.67 222.2 440.9 232 441.23 223.78 441.57 207.32 441.9 199.1 442.1 204.78 442.29 216.13 442.49 221.81 442.68 217.06 442.87 207.56 443.06 202.8 443.24 208.55 443.42 220.05 443.6 225.8 443.74 218.78 443.87 204.72 444 197.7 444.22 203.96 444.45 216.48 444.67 222.74 444.78 215.98 444.89 202.46 445 195.7 445.2 203.8 445.4 220 445.6 228.1 445.93 220.07 446.27 204.03 446.6 196 446.73 203.5 446.87 218.5 447 226 447.2 220.01 447.4 208.04 447.6 202.06 447.8 207.28 448 217.72 448.2 222.94 448.4 217.36 448.6 206.19 448.8 200.6 448.98 206.21 449.15 217.42 449.33 223.02 449.54 218.59 449.75 209.71 449.96 205.27 450.15 209.52 450.34 218.02 450.53 222.27 450.85 218.3 451.18 210.37 451.5 206.4 451.72 210.59 451.93 218.98 452.15 223.18 452.32 219.76 452.5 212.93 452.68 209.51 452.86 212.89 453.05 219.65 453.23 223.03 453.42 219.93 453.62 213.74 453.81 210.65 454 213.48 454.19 219.14 454.37 221.97 454.58 219.37 454.8 214.19 455.01 211.59 455.19 214.11 455.38 219.14 455.56 221.66 455.77 219.2 455.98 214.29 456.18 211.84 456.4 213.93 456.62 218.1 456.84 220.19 457.05 218.09 457.26 213.9 457.46 211.8 457.68 214.49 457.91 219.88 458.13 222.57 458.32 219.73 458.5 214.05 458.69 211.21 458.91 214.17 459.12 220.1 459.34 223.06 459.55 219.83 459.76 213.35 459.96 210.12 460.18 213.38 460.39 219.91 460.6 223.18 460.87 219.38 461.13 211.79 461.4 208 461.6 211.5 461.8 218.49 462 221.99 462.22 218.71 462.43 212.14 462.65 208.85 462.83 212.08 463.02 218.55 463.2 221.78 463.4 218.39 463.59 211.62 463.78 208.24 463.99 211.89 464.21 219.18 464.42 222.82 464.6 219.4 464.78 212.56 464.96 209.14 465.18 212.39 465.4 218.87 465.63 222.12 465.85 218.19 466.08 210.33 466.3 206.4 466.52 210.37 466.75 218.32 466.97 222.29 467.2 218.84 467.42 211.92 467.64 208.47 467.83 211.73 468.01 218.25 468.2 221.51 468.41 218.24 468.62 211.68 468.83 208.4 469.06 211.34 469.28 217.2 469.5 220.14 469.69 217 469.87 210.73 470.06 207.59 470.24 210.59 470.43 216.6 470.61 219.6 470.81 216.08 471 209.03 471.2 205.5 471.38 208.96 471.56 215.89 471.74 219.35 471.92 216.4 472.1 210.52 472.28 207.57 472.5 211.1 472.71 218.15 472.93 221.67 473.12 218.3 473.32 211.57 473.51 208.2 473.69 211.62 473.88 218.46 474.06 221.88 474.2 218.41 474.35 211.47 474.5 208 474.7 210.86 474.89 216.58 475.09 219.44 475.28 216.69 475.47 211.19 475.67 208.45 475.88 211.37 476.09 217.22 476.31 220.15 476.48 216.93 476.66 210.51 476.83 207.29 477.01 210.94 477.19 218.22 477.37 221.87 477.57 217.51 477.76 208.78 477.96 204.42 478.16 208.34 478.37 216.19 478.57 220.11 478.85 215.23 479.12 205.48 479.4 200.6 479.61 205.56 479.82 215.47 480.03 220.43 480.21 216.14 480.39 207.56 480.57 203.27 480.76 207.62 480.95 216.3 481.14 220.65 481.36 216.46 481.58 208.09 481.8 203.9 482 208.29 482.19 217.08 482.39 221.47 482.57 217.92 482.75 210.82 482.94 207.27 483.11 210.39 483.29 216.62 483.47 219.73 483.75 215.77 484.02 207.86 484.3 203.9 484.52 207.87 484.73 215.8 484.95 219.76 485.17 216.74 485.4 210.7 485.62 207.68 485.84 210.48 486.06 216.07 486.29 218.87 486.51 216.21 486.73 210.89 486.94 208.22 487.15 211.18 487.35 217.09 487.56 220.05 487.78 216.63 488 209.81 488.23 206.4 488.44 209.4 488.66 215.39 488.88 218.39 489.1 215.58 489.32 209.97 489.54 207.16 489.74 210.58 489.94 217.41 490.14 220.82 490.36 216.79 490.58 208.73 490.8 204.7 490.99 208.46 491.18 215.99 491.37 219.76 491.58 216.36 491.78 209.56 491.99 206.16 492.17 209.41 492.35 215.92 492.53 219.17 492.72 215.43 492.91 207.94 493.1 204.2 493.29 207.69 493.49 214.69 493.69 218.18 493.82 213.79 493.96 205 494.1 200.6 494.31 205.53 494.52 215.38 494.73 220.31 494.93 216.39 495.14 208.55 495.35 204.63 495.54 208.55 495.73 216.38 495.92 220.29 496.14 215.57 496.37 206.12 496.6 201.4 496.8 205.95 496.99 215.05 497.19 219.59 497.37 215.73 497.55 208.01 497.73 204.15 497.95 207.7 498.17 214.79 498.39 218.34 498.59 214.73 498.8 207.51 499 203.9 499.19 207.73 499.38 215.39 499.57 219.22 499.79 215.92 500.02 209.31 500.24 206.01 500.42 208.96 500.59 214.87 500.77 217.83 501.01 214.75 501.26 208.58 501.5 205.5 501.72 208.73 501.94 215.2 502.16 218.43 502.38 216.09 502.6 211.41 502.83 209.07 503.04 211.28 503.26 215.7 503.48 217.91 503.62 215.83 503.76 211.68 503.9 209.6 504.12 211.81 504.35 216.22 504.57 218.43 504.74 216.49 504.92 212.6 505.1 210.66 505.27 212.55 505.45 216.33 505.63 218.23 505.86 216.15 506.08 212.01 506.3 209.94 506.52 211.98 506.74 216.07 506.97 218.11 507.18 216.12 507.39 212.14 507.61 210.15 507.82 212.43 508.04 216.98 508.26 219.26 508.47 216.97 508.69 212.41 508.91 210.13 509.1 211.95 509.29 215.59 509.48 217.41 509.67 215.7 509.87 212.28 510.07 210.57 510.28 212.25 510.49 215.62 510.7 217.31 510.89 215.52 511.07 211.95 511.26 210.16 511.44 211.89 511.61 215.35 511.79 217.09 511.97 215.52 512.14 212.39 512.32 210.82 512.5 212.71 512.67 216.49 512.85 218.38 513.04 216.47 513.23 212.65 513.42 210.74 513.62 212.43 513.82 215.82 514.02 217.51 514.2 215.83 514.37 212.46 514.55 210.78 514.73 212.47 514.92 215.86 515.11 217.56 515.29 215.78 515.47 212.23 515.65 210.45 515.85 212.46 516.05 216.48 516.25 218.48 516.45 216.5 516.66 212.54 516.87 210.56 517.05 212.15 517.24 215.34 517.42 216.94 517.62 215.1 517.81 211.43 518.01 209.6 518.23 211.4 518.45 214.99 518.68 216.79 518.88 214.94 519.09 211.24 519.3 209.39 519.52 211.5 519.74 215.74 519.96 217.85 520.17 214.99 520.38 209.26 520.58 206.4 520.77 209.32 520.96 215.17 521.15 218.09 521.37 215.49 521.59 210.29 521.81 207.69 522 210.19 522.19 215.2 522.38 217.7 522.6 215.57 522.81 211.31 523.03 209.18 523.22 211.14 523.41 215.07 523.6 217.03 523.87 214.97 524.13 210.86 524.4 208.8 524.6 210.64 524.8 214.33 525.01 216.17 525.18 214.58 525.36 211.4 525.53 209.81 525.73 211.55 525.92 215.03 526.12 216.77 526.32 215.28 526.53 212.31 526.73 210.82 526.94 212.34 527.15 215.37 527.36 216.88 527.54 215.57 527.71 212.93 527.89 211.61 528.08 213.21 528.27 216.4 528.46 218" stroke="#e93350" stroke-width="1.0" fill="none" stroke-linejoin="round"/>
</g>
<rect x="387.8" y="153.6" width="141.7" height="118.2" fill="none" stroke="#c2c2c2" stroke-width="1"/>
<text x="386.2" y="273.6" class="tk" text-anchor="end">-0.6</text>
<text x="386.2" y="253.9" class="tk" text-anchor="end">-0.4</text>
<text x="386.2" y="234.2" class="tk" text-anchor="end">-0.2</text>
<text x="386.2" y="214.5" class="tk" text-anchor="end">0</text>
<text x="386.2" y="194.8" class="tk" text-anchor="end">0.2</text>
<text x="386.2" y="175.1" class="tk" text-anchor="end">0.4</text>
<text x="386.2" y="155.4" class="tk" text-anchor="end">0.6</text>
<text x="387.8" y="277.7" class="tk" text-anchor="middle">0</text>
<text x="416.14" y="277.7" class="tk" text-anchor="middle">10</text>
<text x="444.48" y="277.7" class="tk" text-anchor="middle">20</text>
<text x="472.82" y="277.7" class="tk" text-anchor="middle">30</text>
<text x="501.16" y="277.7" class="tk" text-anchor="middle">40</text>
<text x="529.5" y="277.7" class="tk" text-anchor="middle">50</text>
<text x="511.6" y="165.9" class="lt">(f)</text>
<rect x="447.3" y="215.5" width="94.9" height="43.1" fill="#fff"/>
<clipPath id="if"><rect x="447.3" y="215.5" width="94.9" height="43.1"/></clipPath>
<path d="M447.3 215.5V258.6M478.93 215.5V258.6M510.57 215.5V258.6M542.2 215.5V258.6" stroke="#ececec" stroke-width="0.5" fill="none"/>
<g clip-path="url(#if)">
<path d="M447.3 237.2C447.83 236.83 449.5 234.75 450.5 235C451.5 235.25 452.03 237.7 453.3 238.7C454.57 239.7 456.83 241.3 458.1 241C459.37 240.7 460.18 237.33 460.9 236.9C461.62 236.47 461.7 238.97 462.4 238.4C463.1 237.83 463.3 232.65 465.1 233.5C466.9 234.35 470.58 244.52 473.2 243.5C475.82 242.48 478.5 225.92 480.8 227.4C483.1 228.88 484.7 252.97 487 252.4C489.3 251.83 492.18 223.28 494.6 224C497.02 224.72 499.08 257.87 501.5 256.7C503.92 255.53 506.57 216.68 509.1 217C511.63 217.32 514.33 257.97 516.7 258.6C519.07 259.23 521.42 222.85 523.3 220.8C525.18 218.75 526.48 240.63 528 246.3C529.52 251.97 530.73 259.15 532.4 254.8C534.07 250.45 536.37 222.72 538 220.2C539.63 217.68 541.5 236.45 542.2 239.7" stroke="#3040ff" stroke-width="1.05" fill="none" stroke-linejoin="round"/>
<path d="M447.3 236.7C447.83 236.33 449.5 234.25 450.5 234.5C451.5 234.75 452.03 237.2 453.3 238.2C454.57 239.2 456.83 240.8 458.1 240.5C459.37 240.2 460.18 236.83 460.9 236.4C461.62 235.97 461.7 238.47 462.4 237.9C463.1 237.33 463.3 232.15 465.1 233C466.9 233.85 470.58 244.02 473.2 243C475.82 241.98 478.5 225.42 480.8 226.9C483.1 228.38 484.7 252.47 487 251.9C489.3 251.33 492.18 222.78 494.6 223.5C497.02 224.22 499.08 257.37 501.5 256.2C503.92 255.03 506.57 216.18 509.1 216.5C511.63 216.82 514.33 257.47 516.7 258.1C519.07 258.73 521.42 222.35 523.3 220.3C525.18 218.25 526.48 240.13 528 245.8C529.52 251.47 530.73 258.65 532.4 254.3C534.07 249.95 536.37 222.22 538 219.7C539.63 217.18 541.5 235.95 542.2 239.2" stroke="#ff2a3c" stroke-width="1.35" fill="none" stroke-linejoin="round"/>
</g>
<rect x="447.3" y="215.5" width="94.9" height="43.1" fill="none" stroke="#c2c2c2" stroke-width="0.9"/>
<text x="447.3" y="264.8" class="ik" text-anchor="middle">3</text>
<text x="478.93" y="264.8" class="ik" text-anchor="middle">4</text>
<text x="510.57" y="264.8" class="ik" text-anchor="middle">5</text>
<text x="542.2" y="264.8" class="ik" text-anchor="middle">6</text>
<clipPath id="cg"><rect x="44.4" y="288.4" width="138.1" height="111.9"/></clipPath>
<path d="M44.4 288.4V400.3M72.02 288.4V400.3M99.64 288.4V400.3M127.26 288.4V400.3M154.88 288.4V400.3M182.5 288.4V400.3M44.4 400.3H182.5M44.4 384.31H182.5M44.4 368.33H182.5M44.4 352.34H182.5M44.4 336.36H182.5M44.4 320.37H182.5M44.4 304.39H182.5M44.4 288.4H182.5" stroke="#f1f1f1" stroke-width="0.6" fill="none"/>
<g clip-path="url(#cg)">
<path d="M46.1 328.08 47.5 328.08 48.85 325.74 50.3 325.74 52 325.74 53.84 324.44 55.4 328.08 57.4 328.08 58.3 328.08 59.8 326.26 61.2 326.26 63 326.26 65.1 324.44 66.5 324.44 67.9 322.1 69.6 324.44 71.1 324.44 72.6 324.44 74 325.09 75.2 327.04 77.1 327.04 78.59 327.04 80.21 328.36 81.46 328.36 82.7 328.36 83.87 327.39 85.1 327.39 86.28 325.74 88.3 324.44 89.7 324.44 91.1 323.79 92.5 325.29 93.95 327.34 95.53 327.34 96.7 330.22 98.16 330.22 99.61 330.22 100.98 329.44 102.73 329.55 104.02 329.55 105.44 331.51 106.92 331.51 108.55 331.51 110.6 331 113.1 332.56 115.81 334.27 118.11 335.21 120.21 335.21 122.9 335.21 125.28 334.19 127 333.18 129.39 334.79 131.52 334.79 133.84 334.79 135.95 334.49 138.19 334.49 140.39 334.82 142.61 334.82 144.84 334.82 146.97 334.18 149.1 334.18 151.47 334.36 153.64 334.36 155.87 334.36 158.12 334.81 160.2 334.81 162.53 334.81 164.65 334.42 166.47 335.09 168.92 335.09 171.1 335.09 173.41 334.3 175.3 335.23 177.7 335.77 179.75 335.77 181.8 335.77 180.86 337.38 178.71 337.38 176.28 337.38 174.59 338.05 172.27 338.12 170.13 338.12 167.68 338.9 165.5 338.18 163.55 338.18 161.43 338.18 159.23 338.41 157.04 337.9 154.75 337.9 152.51 337.9 150.23 338.14 148.18 338.14 145.91 337.54 143.67 337.54 141.56 337.54 139.3 337.89 137.12 337.95 134.95 337.95 132.7 337.95 130.53 337.65 128.22 337.58 126.46 337.58 124.09 337.58 121.2 337.72 119.18 337.72 116.88 337.72 114.7 338.46 111.64 339 109.8 339.54 107.79 339.54 106.18 339.51 104.78 339.51 103.3 339.51 101.9 342.64 100.3 342.64 98.85 339.7 97.46 339.7 95.9 339.7 94.77 340 93.22 340 91.6 345.5 90.37 344.13 88.96 344.13 87.09 344.13 85.6 345.24 84.62 345.24 83.2 342.46 82.23 342.46 80.7 341.79 79.38 340.76 77.77 340.76 75.93 340.76 74.81 342.57 73 346.54 71.7 347.41 70.35 347.41 68.7 347.41 67.2 348.49 65.5 351.74 63.9 345.24 61.9 345.24 60.46 341.18 59.08 341.18 57.9 341.18 56.2 346.54 54.6 350.44 53 347.06 51.3 346.54 49.7 346.54 48.1 343.94 46.9 338.61 45 338.61Z" fill="#f06476" fill-opacity="0.5" stroke="none"/>
<path d="M45 339.8 45.37 335.75 45.73 327.65 46.1 323.6 46.37 329.7 46.63 341.9 46.9 348 47.1 339.25 47.3 321.75 47.5 313 47.7 323.77 47.9 345.32 48.1 356.1 48.35 347.08 48.6 329.03 48.85 320 49.14 328 49.42 344 49.7 352 49.9 344 50.1 328 50.3 320 50.63 328.2 50.97 344.6 51.3 352.8 51.53 344.1 51.77 326.7 52 318 52.33 329.77 52.67 353.32 53 365.1 53.28 351.9 53.56 325.5 53.84 312.3 54.09 323.73 54.35 346.57 54.6 358 54.87 348 55.13 328 55.4 318 55.67 328.75 55.93 350.25 56.2 361 56.6 351.65 57 332.95 57.4 323.6 57.57 330.7 57.73 344.9 57.9 352 58.03 340.15 58.17 316.45 58.3 304.6 58.56 314.39 58.82 333.96 59.08 343.75 59.32 337.31 59.56 324.44 59.8 318 60.02 327.52 60.24 346.57 60.46 356.1 60.71 347.28 60.95 329.62 61.2 320.8 61.43 328.1 61.67 342.7 61.9 350 62.27 341.8 62.63 325.4 63 317.2 63.3 329.18 63.6 353.12 63.9 365.1 64.3 353.33 64.7 329.78 65.1 318 65.23 328.5 65.37 349.5 65.5 360 65.83 345.98 66.17 317.93 66.5 303.9 66.73 320 66.97 352.2 67.2 368.3 67.43 354.82 67.67 327.88 67.9 314.4 68.17 324.55 68.43 344.85 68.7 355 69 342.93 69.3 318.77 69.6 306.7 69.85 318.36 70.1 341.68 70.35 353.34 70.6 344.51 70.85 326.84 71.1 318 71.3 335.07 71.5 369.23 71.7 386.3 72 362.25 72.3 314.15 72.6 290.1 72.73 307.57 72.87 342.52 73 360 73.33 349.3 73.67 327.9 74 317.2 74.27 325.9 74.54 343.3 74.81 352 74.94 343.75 75.07 327.25 75.2 319 75.44 325.72 75.69 339.16 75.93 345.89 76.32 339.91 76.71 327.97 77.1 322 77.32 327.28 77.55 337.84 77.77 343.11 78.04 337.71 78.31 326.9 78.59 321.5 78.85 327.3 79.11 338.9 79.38 344.7 79.66 339.02 79.93 327.68 80.21 322 80.37 329.7 80.54 345.1 80.7 352.8 80.95 345.61 81.2 331.22 81.46 324.02 81.72 329.45 81.97 340.3 82.23 345.73 82.39 339.49 82.54 327.03 82.7 320.8 82.87 329.43 83.03 346.68 83.2 355.3 83.42 347.11 83.65 330.73 83.87 322.54 84.12 329.54 84.37 343.56 84.62 350.56 84.78 342.92 84.94 327.64 85.1 320 85.27 327.5 85.43 342.5 85.6 350 85.83 341.1 86.06 323.3 86.28 314.4 86.55 325.65 86.82 348.15 87.09 359.4 87.49 349.05 87.9 328.35 88.3 318 88.52 325.57 88.74 340.71 88.96 348.28 89.21 338.24 89.45 318.15 89.7 308.1 89.92 320.3 90.14 344.7 90.37 356.9 90.61 346.8 90.86 326.6 91.1 316.5 91.27 325.88 91.43 344.62 91.6 354 91.9 344.75 92.2 326.25 92.5 317 92.74 325.35 92.98 342.05 93.22 350.4 93.46 342.62 93.71 327.07 93.95 319.3 94.22 324.96 94.5 336.28 94.77 341.94 95.02 337.07 95.28 327.33 95.53 322.46 95.65 328.09 95.78 339.36 95.9 345 96.17 339.25 96.43 327.75 96.7 322 96.95 326.87 97.2 336.61 97.46 341.48 97.69 337.83 97.93 330.54 98.16 326.89 98.39 331.67 98.62 341.22 98.85 346 99.11 340.93 99.36 330.77 99.61 325.7 99.84 331.27 100.07 342.43 100.3 348 100.53 341.8 100.75 329.4 100.98 323.2 101.29 328.9 101.59 340.3 101.9 346 102.18 340.3 102.45 328.9 102.73 323.2 102.92 328.93 103.11 340.38 103.3 346.1 103.54 341.04 103.78 330.93 104.02 325.87 104.27 329.7 104.53 337.35 104.78 341.18 105 337.14 105.22 329.05 105.44 325 105.69 329.28 105.93 337.84 106.18 342.13 106.43 338.81 106.68 332.19 106.92 328.87 107.21 331.96 107.5 338.14 107.79 341.23 108.04 337.73 108.29 330.72 108.55 327.22 108.96 331.79 109.38 340.93 109.8 345.5 110.07 340.75 110.33 331.25 110.6 326.5 110.95 330.57 111.3 338.73 111.64 342.8 112.13 339.12 112.61 331.78 113.1 328.1 113.63 331.18 114.17 337.32 114.7 340.4 115.07 337.93 115.44 332.98 115.81 330.5 116.16 332.77 116.52 337.3 116.88 339.57 117.29 337.96 117.7 334.73 118.11 333.12 118.46 334.45 118.82 337.1 119.18 338.43 119.52 337.47 119.86 335.54 120.21 334.57 120.54 335.57 120.87 337.57 121.2 338.56 121.77 337.17 122.33 334.39 122.9 333 123.3 335.05 123.7 339.15 124.09 341.2 124.49 338.76 124.88 333.89 125.28 331.45 125.67 333.14 126.07 336.52 126.46 338.21 126.64 335.88 126.82 331.23 127 328.9 127.41 331.26 127.81 335.97 128.22 338.32 128.61 336.46 129 332.73 129.39 330.86 129.77 332.93 130.15 337.07 130.53 339.15 130.86 337.84 131.19 335.23 131.52 333.93 131.91 335.75 132.31 339.38 132.7 341.2 133.08 338.52 133.46 333.18 133.84 330.5 134.21 332.57 134.58 336.71 134.95 338.78 135.28 337.45 135.62 334.8 135.95 333.47 136.34 334.94 136.73 337.89 137.12 339.37 137.47 337.76 137.83 334.55 138.19 332.94 138.56 334.57 138.93 337.82 139.3 339.44 139.66 337.47 140.02 333.54 140.39 331.57 140.78 333.35 141.17 336.91 141.56 338.68 141.91 337.51 142.26 335.15 142.61 333.97 142.96 335.02 143.31 337.11 143.67 338.15 144.06 336.85 144.45 334.24 144.84 332.93 145.19 334.81 145.55 338.56 145.91 340.44 146.26 338.57 146.62 334.85 146.97 332.98 147.37 335.04 147.78 339.15 148.18 341.2 148.49 338.75 148.79 333.85 149.1 331.4 149.48 333.32 149.85 337.16 150.23 339.08 150.64 337.46 151.06 334.22 151.47 332.6 151.82 334.22 152.17 337.48 152.51 339.11 152.89 337.65 153.26 334.72 153.64 333.26 154.01 334.62 154.38 337.35 154.75 338.71 155.12 337.23 155.49 334.26 155.87 332.77 156.26 334.46 156.65 337.82 157.04 339.5 157.4 337.5 157.76 333.5 158.12 331.5 158.49 333.53 158.86 337.6 159.23 339.64 159.56 338.22 159.88 335.38 160.2 333.96 160.61 335.65 161.02 339.05 161.43 340.75 161.8 338.71 162.16 334.64 162.53 332.61 162.87 334.24 163.21 337.5 163.55 339.14 163.91 337.2 164.28 333.33 164.65 331.4 164.93 334.05 165.22 339.35 165.5 342 165.82 339.84 166.15 335.51 166.47 333.35 166.87 335.08 167.28 338.52 167.68 340.25 168.09 338.78 168.51 335.85 168.92 334.38 169.32 336.02 169.73 339.3 170.13 340.94 170.45 339 170.78 335.12 171.1 333.17 171.49 334.64 171.88 337.58 172.27 339.04 172.65 337.36 173.03 333.99 173.41 332.31 173.81 334.73 174.2 339.58 174.59 342 174.83 339.35 175.06 334.05 175.3 331.4 175.63 333.28 175.95 337.05 176.28 338.94 176.75 337.85 177.23 335.68 177.7 334.6 178.04 335.43 178.38 337.07 178.71 337.9 179.06 337.28 179.41 336.04 179.75 335.43 180.12 336.04 180.49 337.28 180.86 337.9 181.18 337.07 181.49 335.43 181.8 334.6" stroke="#ee2c40" stroke-width="1.0" fill="none" stroke-linejoin="round"/>
</g>
<rect x="44.4" y="288.4" width="138.1" height="111.9" fill="none" stroke="#c2c2c2" stroke-width="1"/>
<text x="42.8" y="402.1" class="tk" text-anchor="end">-8</text>
<text x="42.8" y="386.11" class="tk" text-anchor="end">-6</text>
<text x="42.8" y="370.13" class="tk" text-anchor="end">-4</text>
<text x="42.8" y="354.14" class="tk" text-anchor="end">-2</text>
<text x="42.8" y="338.16" class="tk" text-anchor="end">0</text>
<text x="42.8" y="322.17" class="tk" text-anchor="end">2</text>
<text x="42.8" y="306.19" class="tk" text-anchor="end">4</text>
<text x="42.8" y="290.2" class="tk" text-anchor="end">6</text>
<text x="44.4" y="406.2" class="tk" text-anchor="middle">0</text>
<text x="72.02" y="406.2" class="tk" text-anchor="middle">10</text>
<text x="99.64" y="406.2" class="tk" text-anchor="middle">20</text>
<text x="127.26" y="406.2" class="tk" text-anchor="middle">30</text>
<text x="154.88" y="406.2" class="tk" text-anchor="middle">40</text>
<text x="182.5" y="406.2" class="tk" text-anchor="middle">50</text>
<text x="159.6" y="303.2" class="lt">(g)</text>
<rect x="102" y="346.3" width="93.3" height="41.1" fill="#fff"/>
<clipPath id="ig"><rect x="102" y="346.3" width="93.3" height="41.1"/></clipPath>
<path d="M102 346.3V387.4M133.1 346.3V387.4M164.2 346.3V387.4M195.3 346.3V387.4" stroke="#ececec" stroke-width="0.5" fill="none"/>
<g clip-path="url(#ig)">
<path d="M102 372.15C102.55 371.1 104.15 365.55 105.3 365.85C106.45 366.15 107.85 372.13 108.9 373.95C109.95 375.77 110.63 375.13 111.6 376.75C112.57 378.37 113.27 386.13 114.7 383.65C116.13 381.17 118.9 364.52 120.2 361.85C121.5 359.18 121.5 364.32 122.5 367.65C123.5 370.98 124.98 380.8 126.2 381.85C127.42 382.9 128.75 378.45 129.8 373.95C130.85 369.45 131.53 359.23 132.5 354.85C133.47 350.47 134.53 345.52 135.6 347.65C136.67 349.78 137.75 361.6 138.9 367.65C140.05 373.7 141.43 381.83 142.5 383.95C143.57 386.07 144.08 383.22 145.3 380.35C146.52 377.48 148.6 368.12 149.8 366.75C151 365.38 151.38 368.73 152.5 372.15C153.62 375.57 155.28 386.95 156.5 387.25C157.72 387.55 158.8 377.83 159.8 373.95C160.8 370.07 161.65 366.37 162.5 363.95C163.35 361.53 164.13 359.8 164.9 359.45C165.67 359.1 166.43 361.63 167.1 361.85C167.77 362.07 168.3 360.25 168.9 360.75C169.5 361.25 170.03 364.25 170.7 364.85C171.37 365.45 171.98 362.83 172.9 364.35C173.82 365.87 175.2 371.13 176.2 373.95C177.2 376.77 178.05 378.97 178.9 381.25C179.75 383.53 180.3 389.77 181.3 387.65C182.3 385.53 183.57 373.7 184.9 368.55C186.23 363.4 188.03 356.6 189.3 356.75C190.57 356.9 191.5 365.52 192.5 369.45C193.5 373.38 194.83 378.53 195.3 380.35" stroke="#3040ff" stroke-width="1.05" fill="none" stroke-linejoin="round"/>
<path d="M102 371.8C102.55 370.75 104.15 365.2 105.3 365.5C106.45 365.8 107.85 371.78 108.9 373.6C109.95 375.42 110.63 374.78 111.6 376.4C112.57 378.02 113.27 385.78 114.7 383.3C116.13 380.82 118.9 364.17 120.2 361.5C121.5 358.83 121.5 363.97 122.5 367.3C123.5 370.63 124.98 380.45 126.2 381.5C127.42 382.55 128.75 378.1 129.8 373.6C130.85 369.1 131.53 358.88 132.5 354.5C133.47 350.12 134.53 345.17 135.6 347.3C136.67 349.43 137.75 361.25 138.9 367.3C140.05 373.35 141.43 381.48 142.5 383.6C143.57 385.72 144.08 382.87 145.3 380C146.52 377.13 148.6 367.77 149.8 366.4C151 365.03 151.38 368.38 152.5 371.8C153.62 375.22 155.28 386.6 156.5 386.9C157.72 387.2 158.8 377.48 159.8 373.6C160.8 369.72 161.65 366.02 162.5 363.6C163.35 361.18 164.13 359.45 164.9 359.1C165.67 358.75 166.43 361.28 167.1 361.5C167.77 361.72 168.3 359.9 168.9 360.4C169.5 360.9 170.03 363.9 170.7 364.5C171.37 365.1 171.98 362.48 172.9 364C173.82 365.52 175.2 370.78 176.2 373.6C177.2 376.42 178.05 378.62 178.9 380.9C179.75 383.18 180.3 389.42 181.3 387.3C182.3 385.18 183.57 373.35 184.9 368.2C186.23 363.05 188.03 356.25 189.3 356.4C190.57 356.55 191.5 365.17 192.5 369.1C193.5 373.03 194.83 378.18 195.3 380" stroke="#ff2a3c" stroke-width="1.35" fill="none" stroke-linejoin="round"/>
</g>
<rect x="102" y="346.3" width="93.3" height="41.1" fill="none" stroke="#c2c2c2" stroke-width="0.9"/>
<text x="102" y="393.6" class="ik" text-anchor="middle">4</text>
<text x="133.1" y="393.6" class="ik" text-anchor="middle">5</text>
<text x="164.2" y="393.6" class="ik" text-anchor="middle">6</text>
<text x="195.3" y="393.6" class="ik" text-anchor="middle">7</text>
<clipPath id="ch"><rect x="216.5" y="287.7" width="142" height="113.8"/></clipPath>
<path d="M216.5 287.7V401.5M244.9 287.7V401.5M273.3 287.7V401.5M301.7 287.7V401.5M330.1 287.7V401.5M358.5 287.7V401.5M216.5 401.5H358.5M216.5 387.27H358.5M216.5 373.05H358.5M216.5 358.82H358.5M216.5 344.6H358.5M216.5 330.38H358.5M216.5 316.15H358.5M216.5 301.92H358.5M216.5 287.7H358.5" stroke="#f1f1f1" stroke-width="0.6" fill="none"/>
<g clip-path="url(#ch)">
<path d="M217 346.8 217.25 341.45 217.49 330.75 217.74 325.4 218.06 335.17 218.38 354.72 218.7 364.5 219.1 352.6 219.5 328.8 219.9 316.9 220.16 332.5 220.41 363.7 220.67 379.3 220.88 363.35 221.09 331.45 221.3 315.5 221.57 329.12 221.83 356.38 222.1 370 222.37 356.2 222.63 328.6 222.9 314.8 223.2 330.55 223.5 362.05 223.8 377.8 224.07 359.78 224.33 323.73 224.6 305.7 224.93 321.77 225.27 353.93 225.6 370 225.9 356.25 226.2 328.75 226.5 315 226.7 330.88 226.9 362.62 227.1 378.5 227.3 361.35 227.5 327.05 227.7 309.9 228.13 325.42 228.57 356.47 229 372 229.4 355.6 229.8 322.8 230.2 306.4 230.43 325.35 230.67 363.25 230.9 382.2 231.13 366.65 231.37 335.55 231.6 320 231.85 331.75 232.1 355.25 232.35 367 232.57 355.9 232.78 333.7 233 322.6 233.28 331.7 233.56 349.91 233.84 359.01 234.03 350.76 234.21 334.25 234.4 326 234.57 337.3 234.73 359.9 234.9 371.2 235.2 358.7 235.5 333.7 235.8 321.2 236.23 332.15 236.67 354.05 237.1 365 237.23 355 237.37 335 237.5 325 237.78 335.77 238.06 357.31 238.33 368.07 238.52 355.11 238.71 329.17 238.9 316.2 239.03 332.32 239.17 364.57 239.3 380.7 239.63 364.23 239.97 331.28 240.3 314.8 240.6 328.1 240.9 354.7 241.2 368 241.37 356.25 241.53 332.75 241.7 321 241.99 333.02 242.28 357.05 242.57 369.06 242.75 358.8 242.92 338.27 243.1 328 243.35 339.75 243.6 363.25 243.85 375 244.16 354.32 244.48 312.98 244.8 292.3 245.1 316.43 245.4 364.68 245.7 388.8 245.87 370.3 246.03 333.3 246.2 314.8 246.48 326.57 246.76 350.1 247.05 361.87 247.23 353.45 247.42 336.62 247.6 328.2 247.85 336 248.09 351.6 248.34 359.4 248.73 353.05 249.11 340.35 249.5 334 249.79 339.5 250.08 350.5 250.37 356 250.68 349.75 250.99 337.25 251.3 331 251.47 337.9 251.63 351.7 251.8 358.6 252.05 350.83 252.3 335.28 252.54 327.5 252.9 336.2 253.25 353.6 253.6 362.3 253.83 354.13 254.07 337.8 254.3 329.63 254.55 336.19 254.8 349.3 255.05 355.85 255.31 348.89 255.58 334.96 255.85 328 256.12 335.25 256.39 349.75 256.66 357 256.84 351.2 257.02 339.6 257.2 333.8 257.63 342.02 258.07 358.47 258.5 366.7 258.77 357.07 259.03 337.82 259.3 328.2 259.57 336.15 259.85 352.05 260.12 360 260.31 350.65 260.51 331.95 260.7 322.6 260.94 331.26 261.18 348.59 261.42 357.25 261.75 348.06 262.07 329.69 262.4 320.5 262.57 333.18 262.73 358.52 262.9 371.2 263.33 359.05 263.77 334.75 264.2 322.6 264.5 331.45 264.8 349.15 265.1 358 265.37 350.75 265.63 336.25 265.9 329 266.19 337.15 266.49 353.45 266.78 361.6 267.06 352.9 267.34 335.5 267.62 326.8 267.87 333.18 268.11 345.95 268.35 352.33 268.63 348.03 268.91 339.44 269.19 335.14 269.45 340.36 269.71 350.79 269.97 356 270.21 350.25 270.45 338.75 270.69 333 271.03 338.3 271.36 348.9 271.7 354.2 272.03 349.15 272.37 339.05 272.7 334 273.13 338.5 273.57 347.5 274 352 274.3 347.07 274.6 337.23 274.9 332.3 275.17 336.63 275.45 345.29 275.72 349.62 275.97 345.74 276.23 337.97 276.49 334.08 276.77 337.96 277.06 345.72 277.35 349.6 277.63 344.98 277.92 335.73 278.2 331.1 278.44 335.39 278.68 343.97 278.92 348.25 279.16 346.03 279.4 341.58 279.65 339.36 279.92 341.89 280.2 346.96 280.48 349.5 280.82 346.5 281.16 340.5 281.5 337.5 281.75 340.78 281.99 347.33 282.24 350.61 282.52 347.69 282.79 341.84 283.07 338.92 283.35 341.64 283.64 347.09 283.93 349.82 284.2 346.96 284.47 341.25 284.74 338.4 284.98 341.24 285.22 346.94 285.46 349.79 285.75 347.34 286.05 342.45 286.34 340.01 286.63 342.04 286.91 346.12 287.2 348.15 287.46 346.29 287.72 342.55 287.99 340.69 288.25 342.94 288.51 347.45 288.77 349.71 289.01 347.41 289.25 342.82 289.49 340.53 289.78 342.51 290.07 346.46 290.36 348.44 290.68 345.83 290.99 340.61 291.3 338 291.54 341.12 291.78 347.35 292.03 350.47 292.32 348.1 292.61 343.37 292.9 341 293.17 342.63 293.44 345.88 293.71 347.51 293.98 346.32 294.25 343.95 294.52 342.76 294.77 344.46 295.01 347.88 295.26 349.58 295.53 347.79 295.81 344.2 296.09 342.41 296.35 344.06 296.62 347.35 296.89 349 297.15 347.49 297.42 344.46 297.68 342.95 297.96 344.6 298.25 347.9 298.53 349.55 298.86 347.54 299.18 343.51 299.5 341.5 299.76 343.24 300.02 346.71 300.28 348.45 300.56 345.84 300.83 340.61 301.11 338 301.37 340.93 301.63 346.79 301.89 349.72 302.18 347.6 302.48 343.36 302.77 341.24 303.02 343.28 303.26 347.36 303.5 349.4 303.8 346.75 304.1 341.45 304.4 338.8 304.65 340.94 304.9 345.23 305.16 347.37 305.44 345.41 305.73 341.5 306.02 339.55 306.31 341.95 306.59 346.74 306.87 349.14 307.17 346.56 307.47 341.39 307.77 338.8 308.06 341.06 308.36 345.57 308.65 347.83 308.89 345.89 309.13 342.02 309.37 340.08 309.65 342.36 309.93 346.9 310.21 349.18 310.44 346.83 310.67 342.14 310.9 339.8 311.14 341.81 311.38 345.83 311.63 347.85 311.9 346.45 312.17 343.66 312.44 342.26 312.7 343.84 312.95 346.99 313.21 348.57 313.51 346.65 313.8 342.82 314.1 340.9 314.36 342.68 314.62 346.24 314.88 348.03 315.14 346.24 315.41 342.66 315.68 340.87 315.98 342.4 316.28 345.46 316.58 347 316.87 345.44 317.17 342.33 317.46 340.77 317.7 342.47 317.94 345.86 318.17 347.56 318.42 346.17 318.67 343.39 318.93 342 319.17 343.3 319.41 345.92 319.66 347.23 319.94 345.81 320.22 342.97 320.49 341.55 320.73 343.38 320.98 347.04 321.22 348.87 321.5 347.13 321.79 343.67 322.08 341.93 322.37 343.61 322.66 346.96 322.95 348.64 323.3 346.48 323.65 342.16 324 340 324.27 341.75 324.54 345.25 324.81 346.99 325.09 346.2 325.37 344.6 325.65 343.8 325.94 345.07 326.23 347.62 326.53 348.9 326.77 347.39 327.01 344.36 327.26 342.85 327.5 344.02 327.74 346.36 327.98 347.53 328.25 346.25 328.51 343.69 328.78 342.41 329.05 343.97 329.32 347.11 329.59 348.68 329.93 346.63 330.26 342.54 330.6 340.5 330.88 342.5 331.17 346.5 331.45 348.5 331.73 346.79 332.01 343.38 332.29 341.68 332.52 343.25 332.76 346.41 332.99 347.99 333.29 346.5 333.59 343.52 333.88 342.03 334.18 343.18 334.48 345.47 334.78 346.62 335.02 344.86 335.26 341.35 335.5 339.6 335.76 341.72 336.02 345.96 336.28 348.09 336.56 346.32 336.84 342.79 337.12 341.02 337.37 342.52 337.63 345.51 337.88 347.01 338.12 345.48 338.36 342.41 338.61 340.87 338.84 342.34 339.08 345.27 339.31 346.74 339.59 345.38 339.87 342.67 340.15 341.31 340.39 342.8 340.62 345.79 340.86 347.28 341.15 345.75 341.45 342.69 341.74 341.17 341.99 342.54 342.24 345.3 342.5 346.68 342.76 345.45 343.03 342.99 343.3 341.76 343.55 342.94 343.8 345.31 344.05 346.5 344.32 345.01 344.6 342.03 344.87 340.55 345.14 342.28 345.41 345.75 345.67 347.48 345.93 345.64 346.18 341.95 346.43 340.11 346.68 342.08 346.94 346.01 347.19 347.98 347.42 346.2 347.66 342.62 347.89 340.84 348.18 342.45 348.47 345.68 348.77 347.3 349.01 345.95 349.26 343.27 349.51 341.93 349.81 343.44 350.11 346.47 350.41 347.98 350.66 345.89 350.9 341.7 351.15 339.6 351.44 341.62 351.73 345.67 352.02 347.7 352.25 346.21 352.49 343.23 352.73 341.74 352.98 342.88 353.23 345.18 353.47 346.32 353.75 345.47 354.03 343.76 354.31 342.9 354.56 344.03 354.81 346.28 355.06 347.4 355.31 346.28 355.56 344.03 355.82 342.9 356.07 343.78 356.33 345.55 356.58 346.43 356.87 345.94 357.16 344.94 357.45 344.44" stroke="#e8253c" stroke-width="1.0" fill="none" stroke-linejoin="round"/>
<path d="M217 343.73 217.57 346.88 218.21 340.6 218.83 347.21 219.32 337.74 219.87 351.08 220.25 339.73 220.67 349.58 221.2 341.64 221.61 348.47 222.24 338.48 222.63 350.65 223.03 339.11 223.41 347.31 224.03 340.82 224.44 351.43 225.05 340.48 225.69 349.56 226.24 340.84 226.88 350.2 227.52 337.95 227.96 348.82 228.36 341.09 228.72 348.57 229.26 341.69 229.81 348.72 230.25 338.28 230.75 348.6 231.24 338.81 231.61 351.29 231.96 338.66 232.57 347.31 233.15 340.29 233.68 347.24 234.04 341.08 234.68 347.96 235.26 338.13 235.89 348.51 236.34 339.8 236.93 347.54 237.5 338.79 238.11 347.23 238.74 341.58 239.2 349.4 239.82 340.67 240.45 349.08 240.89 340.8 241.29 347.29 241.69 339.44 242.34 347.57 242.7 338.4 243.21 348.44 243.63 339.89 244.23 348.57 244.71 341.89 245.33 347 245.83 339.18 246.22 349.4 246.86 340.02 247.44 347.13 247.92 341.75 248.53 347.69 249.01 339.04 249.62 349.81 250.1 340.81 250.67 348.1 251.11 341.17 251.5 347.71 252.15 339.58 252.69 347.98 253.14 342.27 253.57 348.72 254.18 341.55 254.77 348.56 255.33 340.81 255.9 347.31 256.47 341.96 256.96 348.3 257.52 342 258.15 347.85 258.68 342.8 259.19 346.76 259.74 341.77 260.34 347.64 260.93 342.1 261.47 347.79 262.07 342.14 262.67 348.02 263.23 340.77 263.86 347.16 264.37 342.65 264.97 348.03 265.47 341.54 266.03 347.52 266.43 341.4 266.96 347.33 267.43 341.79 268.02 347.21 268.58 343.07 268.98 346.76 269.53 342.71 270.08 347.09 270.44 342.24 270.86 345.92 271.25 342.58 271.66 346.16 272.02 342.33 272.48 346.93 273.01 342.8 273.63 345.74 274.1 342.76 274.57 345.92 275.17 342.63 275.53 346.8 275.91 342.33 276.37 346.73 277 341.86 277.48 347.12 278.02 342.67 278.41 346.72 278.93 341.65 279.57 346.73 280.03 341.79 280.38 345.84 280.9 342.28 281.29 346.74 281.91 342.71 282.39 346.03 282.83 341.7 283.29 347.27 283.91 342.36 284.34 347.28 284.84 342.68 285.29 347.27 285.78 342.91 286.28 345.81 286.81 342.66 287.25 346.89 287.85 343.38 288.36 346.04 288.99 342.14 289.41 346.02 289.81 341.81 290.25 346.56 290.74 342.39 291.27 346.76 291.66 342.22 292.1 346.41 292.55 342.97 293.06 346.29 293.51 342.27 294.04 345.6 294.47 342.74 295.09 346.92 295.61 343.44 296.19 346.19 296.71 342.38 297.25 346.26 297.88 342.89 298.34 346.81 298.75 343.04 299.35 345.6 299.95 342.46 300.43 345.93 301.02 342.15 301.41 346.2 301.92 342.78 302.37 345.71 302.9 342.33 303.27 345.81 303.87 342.37 304.41 345.51 304.98 342.12 305.63 346.47 306 342.33 306.41 346.38 307.05 342.53 307.44 345.86 308.06 343.34 308.6 346.02 308.99 342.69 309.36 345.59 309.82 343.47 310.19 346.23 310.76 342.35 311.15 346.02 311.6 342.75 312.09 346.71 312.55 343.51 313.11 345.62 313.65 342.91 314.28 346.15 314.81 343.25 315.33 345.74 315.9 342.92 316.29 345.7 316.75 342.64 317.16 346.32 317.7 343.51 318.26 345.49 318.64 342.85 319.06 346.51 319.56 343.22 320.15 345.4 320.71 343.57 321.11 346.57 321.66 343.36 322.05 346.59 322.6 342.62 322.99 346.13 323.45 343.37 323.9 346.1 324.35 343.19 324.74 346.36 325.29 342.68 325.77 346.37 326.27 342.95 326.79 346.22 327.26 343.57 327.62 345.56 327.98 342.62 328.48 346.22 328.83 343.13 329.45 346.04 329.92 343.15 330.3 345.47 330.7 343.27 331.17 346.32 331.56 343.42 332 345.47 332.43 343.45 332.93 345.31 333.55 343.31 334.19 346.05 334.74 343.2 335.37 345.39 335.92 343.42 336.47 346.07 336.87 343.53 337.23 345.5 337.6 343.31 338.25 345.64 338.69 343.25 339.13 346.03 339.69 343.6 340.11 345.95 340.75 343.08 341.22 346.26 341.58 343.72 342.16 345.65 342.52 343.21 343.17 345.75 343.63 343.7 344 346.14 344.49 342.83 344.86 345.44 345.23 343.4 345.59 345.45 346.07 343.5 346.43 345.22 347.07 343.64 347.58 345.58 348.08 343.75 348.53 345.27 349.04 342.92 349.57 346 349.98 343.83 350.5 345.63 351.02 343.49 351.56 345.85 352.18 343.56 352.66 345.93 353.08 343.76 353.53 345.21 354.11 343.1 354.55 345.25 354.93 343.65 355.3 345.52 355.82 343.66 356.19 345.76 356.56 343.71 356.99 345.45 357.37 343.51 357.82 345.78" stroke="#ee1a30" stroke-width="0.7" fill="none"/>
</g>
<rect x="216.5" y="287.7" width="142" height="113.8" fill="none" stroke="#c2c2c2" stroke-width="1"/>
<text x="214.9" y="403.3" class="tk" text-anchor="end">-0.08</text>
<text x="214.9" y="389.07" class="tk" text-anchor="end">-0.06</text>
<text x="214.9" y="374.85" class="tk" text-anchor="end">-0.04</text>
<text x="214.9" y="360.62" class="tk" text-anchor="end">-0.02</text>
<text x="214.9" y="346.4" class="tk" text-anchor="end">0</text>
<text x="214.9" y="332.18" class="tk" text-anchor="end">0.02</text>
<text x="214.9" y="317.95" class="tk" text-anchor="end">0.04</text>
<text x="214.9" y="303.72" class="tk" text-anchor="end">0.06</text>
<text x="214.9" y="289.5" class="tk" text-anchor="end">0.08</text>
<text x="216.5" y="407.4" class="tk" text-anchor="middle">0</text>
<text x="244.9" y="407.4" class="tk" text-anchor="middle">10</text>
<text x="273.3" y="407.4" class="tk" text-anchor="middle">20</text>
<text x="301.7" y="407.4" class="tk" text-anchor="middle">30</text>
<text x="330.1" y="407.4" class="tk" text-anchor="middle">40</text>
<text x="358.5" y="407.4" class="tk" text-anchor="middle">50</text>
<text x="335.7" y="300.9" class="lt">(h)</text>
<rect x="274.7" y="346.7" width="95.5" height="41.5" fill="#fff"/>
<clipPath id="ih"><rect x="274.7" y="346.7" width="95.5" height="41.5"/></clipPath>
<path d="M274.7 346.7V388.2M306.53 346.7V388.2M338.37 346.7V388.2M370.2 346.7V388.2" stroke="#ececec" stroke-width="0.5" fill="none"/>
<g clip-path="url(#ih)">
<path d="M274.7 357C275.02 358.27 276.07 363.02 276.6 364.6C277.13 366.18 277.42 364.93 277.9 366.5C278.38 368.07 278.93 373.07 279.5 374C280.07 374.93 280.73 373.03 281.3 372.1C281.87 371.17 282.42 368.72 282.9 368.4C283.38 368.08 283.58 369.27 284.2 370.2C284.82 371.13 285.82 377.08 286.6 374C287.38 370.92 288.2 354.22 288.9 351.7C289.6 349.18 290.02 356.43 290.8 358.9C291.58 361.37 292.72 362.57 293.6 366.5C294.48 370.43 295.3 381.57 296.1 382.5C296.9 383.43 297.55 375.4 298.4 372.1C299.25 368.8 300.2 366.78 301.2 362.7C302.2 358.62 303.55 347.28 304.4 347.6C305.25 347.92 305.67 362.08 306.3 364.6C306.93 367.12 307.57 361.45 308.2 362.7C308.83 363.95 309.38 367.85 310.1 372.1C310.82 376.35 311.62 387.88 312.5 388.2C313.38 388.52 314.45 378.73 315.4 374C316.35 369.27 317.42 362 318.2 359.8C318.98 357.6 319.57 360.95 320.1 360.8C320.63 360.65 320.77 357.95 321.4 358.9C322.03 359.85 323.08 363.67 323.9 366.5C324.72 369.33 325.52 374.8 326.3 375.9C327.08 377 327.97 373.25 328.6 373.1C329.23 372.95 329.53 377.83 330.1 375C330.67 372.17 331.3 357.83 332 356.1C332.7 354.37 333.6 364.28 334.3 364.6C335 364.92 335.52 358.63 336.2 358C336.88 357.37 337.62 358.28 338.4 360.8C339.18 363.32 340.17 372.95 340.9 373.1C341.63 373.25 342.17 361.55 342.8 361.7C343.43 361.85 344.07 373.37 344.7 374C345.33 374.63 345.88 365.33 346.6 365.5C347.32 365.67 348.22 374.37 349 375C349.78 375.63 350.6 368.2 351.3 369.3C352 370.4 352.57 381.6 353.2 381.6C353.83 381.6 354 373.78 355.1 369.3C356.2 364.82 358.55 355.8 359.8 354.7C361.05 353.6 361.82 360.73 362.6 362.7C363.38 364.67 363.7 363.67 364.5 366.5C365.3 369.33 366.62 378.6 367.4 379.7C368.18 380.8 368.73 373.25 369.2 373.1C369.67 372.95 370.03 377.85 370.2 378.8" stroke="#ff1424" stroke-width="1.0" fill="none" stroke-linejoin="round"/>
</g>
<rect x="274.7" y="346.7" width="95.5" height="41.5" fill="none" stroke="#c2c2c2" stroke-width="0.9"/>
<text x="274.7" y="394.4" class="ik" text-anchor="middle">4</text>
<text x="306.53" y="394.4" class="ik" text-anchor="middle">5</text>
<text x="338.37" y="394.4" class="ik" text-anchor="middle">6</text>
<text x="370.2" y="394.4" class="ik" text-anchor="middle">7</text>
<clipPath id="ci"><rect x="390.6" y="286.5" width="141" height="114.9"/></clipPath>
<path d="M390.6 286.5V401.4M418.8 286.5V401.4M447 286.5V401.4M475.2 286.5V401.4M503.4 286.5V401.4M531.6 286.5V401.4M390.6 401.4H531.6M390.6 384.99H531.6M390.6 368.57H531.6M390.6 352.16H531.6M390.6 335.74H531.6M390.6 319.33H531.6M390.6 302.91H531.6M390.6 286.5H531.6" stroke="#f1f1f1" stroke-width="0.6" fill="none"/>
<g clip-path="url(#ci)">
<path d="M391.63 324.22 393.2 324.22 394.3 314.32 395.3 314.32 396.7 319.72 398.1 319.72 399.27 319.72 400.39 317.23 401.56 312.52 402.4 315.31 403.8 324.22 405.2 324.22 406.39 324.22 407 315.32 408.26 321.88 409.57 325.37 410.76 325.37 412.2 326.74 413.6 328.59 414.82 328.59 415.7 328.59 416.96 327.91 417.96 327.91 419.03 327.91 420.6 331.42 421.73 331.42 423.24 332.65 424.34 332.95 425.51 332.95 426.8 332.95 427.89 332.91 429.04 332.95 430.29 332.95 431.2 332.95 432.03 331.97 433.3 331.97 434.58 330.4 435.67 331.05 436.85 331.06 438.06 331.06 439.26 331.06 440.44 331.03 441.57 331.03 442.4 331.41 443.61 331.41 444.86 331.41 446.03 332.11 447.32 332.6 448.49 332.7 449.65 332.7 450.8 332.7 451.96 333.33 453.17 333.33 454.36 333.33 455.56 333.02 456.71 333.02 457.9 332.82 459.3 332.35 460.58 332.85 461.71 333.65 462.9 333.65 464.05 333.65 465.17 333.48 466.38 333.59 467.48 333.59 468.73 333.59 470 333.29 471.32 333.46 472.52 333.86 473.72 333.86 474.93 333.86 476.15 333.97 477.22 334 478.45 334 479.61 334 480.67 333.82 481.75 333.9 482.9 333.9 484.2 333.9 485.32 334.17 486.49 334.17 487.72 334.17 488.86 333.7 490 333.63 491.16 333.91 492.42 333.91 493.6 333.91 494.74 334.1 496.02 334.41 497.23 334.41 498.38 334.41 499.57 334.34 500.63 334.34 501.85 334.34 503.04 334.36 504.34 334.57 505.43 334.57 506.6 334.59 507.8 334.61 509.03 334.66 510.29 334.66 511.46 334.66 512.8 334.71 514 334.78 515.18 334.78 516.35 334.78 517.53 334.68 518.81 334.66 520.03 334.78 521.28 334.78 522.45 334.78 523.78 334.81 524.97 334.83 526.17 334.93 527.46 334.93 528.68 334.93 529.89 334.93 530.51 335.59 529.33 335.59 528.11 335.86 526.81 335.87 525.59 335.74 524.37 335.74 523.11 335.74 521.85 335.96 520.69 335.92 519.46 335.9 518.18 335.9 516.95 335.9 515.75 335.98 514.55 335.98 513.44 336.41 512.13 336.33 510.86 336.33 509.62 336.14 508.4 336.14 507.2 336.14 506.01 336.32 504.89 336.32 503.71 336.39 502.39 336.39 501.27 336.41 500 336.9 499 336.9 497.85 336.9 496.57 337.03 495.37 336.83 494.22 336.83 493 336.83 491.75 336.89 490.56 336.97 489.39 336.97 488.27 337.08 487.16 337.08 485.89 337.26 484.75 337.19 483.52 337.19 482.31 337.19 481.22 338.23 480 338.79 478.98 338.79 477.84 338.79 476.69 339.11 475.59 337.36 474.31 337.36 473.19 337.36 471.89 338.26 470.67 338.46 469.27 337.7 468.09 337.7 466.93 337.7 465.74 338.16 464.64 338.16 463.45 337.99 462.35 337.99 461.14 337.99 460 338.43 458.52 338.43 457.32 338.43 456.17 338.53 455.01 338.53 453.8 338.53 452.56 339.43 451.35 339.61 450.22 339.46 449.07 338 447.91 338 446.7 338 445.44 338.16 444.27 338.64 442.95 338.64 442 339.2 441.03 339.35 439.88 339.35 438.62 338.61 437.48 338.61 436.29 338.61 435.13 339.61 433.96 339.61 432.65 339.66 431.5 339.63 430.91 339.63 429.66 338.91 428.45 338.91 427.33 338.91 426.2 339.45 424.97 340.3 423.81 340.3 422.6 340.3 421.16 340.42 420 340.42 418.49 342.15 417.3 340.87 416.3 340.87 415.37 340.87 414.23 340.17 412.82 340.17 411.35 340.17 410.13 343.86 408.92 343.86 407.64 346.11 406.7 346.11 405.85 348.12 404.38 348.12 402.8 356.26 402.11 356.63 401 355.21 399.82 355.21 398.7 352.11 397.26 352.11 395.87 352.11 394.7 362.53 393.78 349.87 392.23 335.2 391 335.2Z" fill="#f5404e" fill-opacity="0.6" stroke="none"/>
<path d="M391 335.2 391.21 332.15 391.42 326.05 391.63 323 391.83 330.12 392.03 344.38 392.23 351.5 392.55 341.2 392.88 320.6 393.2 310.3 393.39 324.12 393.59 351.75 393.78 365.57 393.96 349.47 394.13 317.29 394.3 301.2 394.43 322.2 394.57 364.2 394.7 385.2 394.9 366.9 395.1 330.3 395.3 312 395.49 326.75 395.68 356.25 395.87 371 396.15 355.82 396.42 325.48 396.7 310.3 396.89 321.22 397.08 343.07 397.26 353.99 397.54 344.99 397.82 327 398.1 318 398.3 329.47 398.5 352.42 398.7 363.9 398.89 351.73 399.08 327.4 399.27 315.23 399.45 325.78 399.63 346.89 399.82 357.44 400.01 340.38 400.2 306.26 400.39 289.2 400.59 312.3 400.8 358.5 401 381.6 401.19 363.08 401.37 326.03 401.56 307.5 401.74 320.38 401.93 346.13 402.11 359.01 402.21 346.76 402.3 322.25 402.4 310 402.53 323 402.67 349 402.8 362 403.13 349.78 403.47 325.33 403.8 313.1 403.99 324.48 404.19 347.23 404.38 358.6 404.66 349.7 404.93 331.9 405.2 323 405.42 329.64 405.63 342.92 405.85 349.56 406.03 340.45 406.21 322.23 406.39 313.12 406.49 324.09 406.6 346.03 406.7 357 406.8 342.35 406.9 313.05 407 298.4 407.21 310.63 407.43 335.09 407.64 347.32 407.85 338.77 408.05 321.66 408.26 313.1 408.48 322.28 408.7 340.62 408.92 349.8 409.14 342.45 409.35 327.75 409.57 320.4 409.75 326.51 409.94 338.72 410.13 344.83 410.34 339.69 410.55 329.41 410.76 324.28 410.96 329.98 411.15 341.39 411.35 347.1 411.63 340.83 411.92 328.28 412.2 322 412.41 326.68 412.61 336.04 412.82 340.72 413.08 336.99 413.34 329.53 413.6 325.8 413.81 330.48 414.02 339.82 414.23 344.5 414.43 340.34 414.63 332.02 414.82 327.85 415 331.3 415.19 338.2 415.37 341.65 415.48 336.99 415.59 327.66 415.7 323 415.9 327.62 416.1 336.87 416.3 341.5 416.52 337.1 416.74 328.3 416.96 323.9 417.07 329.42 417.19 340.47 417.3 346 417.52 341.28 417.74 331.83 417.96 327.1 418.13 331.06 418.31 338.97 418.49 342.93 418.67 337.24 418.85 325.88 419.03 320.2 419.35 327.6 419.68 342.4 420 349.8 420.2 344.1 420.4 332.7 420.6 327 420.79 330.5 420.98 337.5 421.16 341 421.35 338.5 421.54 333.5 421.73 331 422.02 333.92 422.31 339.77 422.6 342.7 422.81 339.52 423.02 333.18 423.24 330 423.43 332.72 423.62 338.15 423.81 340.86 423.98 338.74 424.16 334.49 424.34 332.37 424.55 334.56 424.76 338.93 424.97 341.11 425.15 339.01 425.33 334.81 425.51 332.7 425.74 335.2 425.97 340.2 426.2 342.7 426.4 339.86 426.6 334.17 426.8 331.32 426.98 333.47 427.15 337.77 427.33 339.93 427.52 338.11 427.71 334.48 427.89 332.66 428.08 334.33 428.26 337.65 428.45 339.32 428.64 337.64 428.84 334.28 429.04 332.6 429.25 334.71 429.45 338.93 429.66 341.04 429.87 338.96 430.08 334.79 430.29 332.7 430.49 334.56 430.7 338.27 430.91 340.13 431.01 337.59 431.1 332.53 431.2 330 431.3 332.95 431.4 338.85 431.5 341.8 431.68 339.25 431.85 334.16 432.03 331.62 432.23 334 432.44 338.78 432.65 341.16 432.87 338.02 433.08 331.74 433.3 328.6 433.52 331.49 433.74 337.27 433.96 340.16 434.17 337.45 434.37 332.05 434.58 329.35 434.76 332.03 434.95 337.41 435.13 340.1 435.31 337.54 435.49 332.43 435.67 329.87 435.88 333.08 436.08 339.49 436.29 342.7 436.48 339.67 436.66 333.62 436.85 330.59 437.06 332.69 437.27 336.89 437.48 338.99 437.68 336.89 437.87 332.7 438.06 330.6 438.25 333.29 438.43 338.66 438.62 341.35 438.83 338.32 439.04 332.25 439.26 329.22 439.46 332.06 439.67 337.73 439.88 340.56 440.07 338.06 440.26 333.07 440.44 330.57 440.64 332.88 440.84 337.5 441.03 339.81 441.21 337.23 441.39 332.06 441.57 329.48 441.71 332.61 441.86 338.87 442 342 442.13 338.57 442.27 331.73 442.4 328.3 442.58 331.14 442.77 336.81 442.95 339.65 443.17 337.48 443.39 333.15 443.61 330.99 443.83 333 444.05 337.01 444.27 339.02 444.47 336.77 444.66 332.26 444.86 330 445.05 332.33 445.25 337 445.44 339.33 445.63 337.24 445.83 333.05 446.03 330.95 446.25 332.83 446.48 336.6 446.7 338.49 446.91 336.8 447.12 333.44 447.32 331.76 447.52 333.4 447.72 336.67 447.91 338.31 448.1 336.81 448.3 333.81 448.49 332.31 448.68 334.21 448.88 338.03 449.07 339.94 449.26 338.06 449.46 334.3 449.65 332.42 449.84 334.58 450.03 338.89 450.22 341.05 450.41 338.55 450.61 333.57 450.8 331.07 450.98 333.33 451.17 337.84 451.35 340.1 451.55 338 451.76 333.81 451.96 331.71 452.16 333.96 452.36 338.44 452.56 340.69 452.77 338.8 452.97 335.01 453.17 333.12 453.38 334.82 453.59 338.2 453.8 339.9 453.99 337.89 454.18 333.87 454.36 331.86 454.58 333.62 454.8 337.14 455.01 338.9 455.2 337.37 455.38 334.31 455.56 332.78 455.77 334.42 455.97 337.72 456.17 339.36 456.35 337.66 456.53 334.25 456.71 332.55 456.91 334.35 457.11 337.93 457.32 339.73 457.51 337.81 457.7 333.96 457.9 332.03 458.1 333.72 458.31 337.1 458.52 338.79 458.78 336.94 459.04 333.25 459.3 331.4 459.53 333.92 459.77 338.97 460 341.5 460.19 339.12 460.38 334.35 460.58 331.97 460.76 333.79 460.95 337.43 461.14 339.25 461.33 337.58 461.52 334.25 461.71 332.59 461.92 334.02 462.14 336.87 462.35 338.3 462.53 337.09 462.72 334.68 462.9 333.48 463.08 334.94 463.27 337.87 463.45 339.33 463.65 337.53 463.85 333.91 464.05 332.11 464.24 333.9 464.44 337.49 464.64 339.29 464.82 337.79 464.99 334.79 465.17 333.29 465.36 334.59 465.55 337.19 465.74 338.49 465.95 337.12 466.17 334.39 466.38 333.03 466.56 334.57 466.75 337.65 466.93 339.19 467.11 337.75 467.29 334.86 467.48 333.42 467.68 334.56 467.89 336.84 468.09 337.98 468.31 336.76 468.52 334.31 468.73 333.08 468.91 334.67 469.09 337.84 469.27 339.42 469.51 337.57 469.76 333.86 470 332 470.22 333.88 470.45 337.63 470.67 339.5 470.89 337.74 471.1 334.22 471.32 332.47 471.51 334.05 471.7 337.23 471.89 338.82 472.1 337.43 472.31 334.66 472.52 333.27 472.75 334.6 472.97 337.27 473.19 338.6 473.37 337.38 473.54 334.94 473.72 333.71 473.92 334.69 474.11 336.63 474.31 337.6 474.52 336.33 474.72 333.81 474.93 332.55 475.15 334.36 475.37 337.98 475.59 339.79 475.78 338.26 475.97 335.19 476.15 333.66 476.33 335.14 476.51 338.11 476.69 339.59 476.87 338.15 477.04 335.27 477.22 333.83 477.43 335.26 477.63 338.12 477.84 339.55 478.04 338.13 478.25 335.29 478.45 333.87 478.62 335.2 478.8 337.86 478.98 339.19 479.19 337.79 479.4 335 479.61 333.6 479.74 335.2 479.87 338.4 480 340 480.22 338.42 480.45 335.25 480.67 333.66 480.86 335.08 481.04 337.92 481.22 339.34 481.4 337.9 481.58 335.03 481.75 333.6 481.94 334.84 482.12 337.33 482.31 338.57 482.5 337.37 482.7 334.96 482.9 333.76 483.11 334.67 483.32 336.5 483.52 337.42 483.75 336.36 483.97 334.25 484.2 333.2 484.38 334.48 484.57 337.03 484.75 338.31 484.94 337.1 485.13 334.68 485.32 333.48 485.51 334.48 485.7 336.49 485.89 337.49 486.09 336.63 486.29 334.91 486.49 334.05 486.71 335.16 486.94 337.38 487.16 338.49 487.35 337.25 487.53 334.77 487.72 333.54 487.91 334.47 488.09 336.35 488.27 337.29 488.47 336.33 488.66 334.41 488.86 333.46 489.03 334.73 489.21 337.29 489.39 338.56 489.59 337.17 489.8 334.39 490 333 490.19 334.04 490.38 336.12 490.56 337.16 490.76 336.21 490.96 334.31 491.16 333.36 491.36 334.45 491.55 336.62 491.75 337.71 491.97 336.72 492.2 334.76 492.42 333.77 492.61 334.6 492.81 336.25 493 337.07 493.2 336.23 493.4 334.56 493.6 333.72 493.81 334.54 494.01 336.19 494.22 337.01 494.39 336.13 494.57 334.35 494.74 333.46 494.95 334.58 495.16 336.8 495.37 337.91 495.59 336.93 495.8 334.96 496.02 333.98 496.21 334.98 496.39 336.98 496.57 337.98 496.79 337.06 497.01 335.23 497.23 334.32 497.44 335.05 497.65 336.51 497.85 337.24 498.03 336.41 498.21 334.77 498.38 333.94 498.59 334.73 498.8 336.3 499 337.09 499.19 336.25 499.38 334.58 499.57 333.74 499.71 334.8 499.86 336.93 500 338 500.21 337.06 500.42 335.18 500.63 334.24 500.84 335.06 501.05 336.71 501.27 337.54 501.46 336.67 501.66 334.93 501.85 334.06 502.03 334.68 502.21 335.93 502.39 336.55 502.61 335.87 502.82 334.52 503.04 333.84 503.26 334.51 503.49 335.85 503.71 336.52 503.92 335.96 504.13 334.83 504.34 334.27 504.52 335.03 504.71 336.56 504.89 337.32 505.07 336.61 505.25 335.21 505.43 334.51 505.63 334.99 505.82 335.96 506.01 336.44 506.21 335.88 506.4 334.76 506.6 334.19 506.8 334.95 507 336.46 507.2 337.22 507.4 336.55 507.6 335.2 507.8 334.53 508 334.95 508.2 335.81 508.4 336.24 508.61 335.82 508.82 334.97 509.03 334.55 509.23 335.06 509.43 336.09 509.62 336.61 509.85 336.11 510.07 335.1 510.29 334.6 510.48 335.06 510.67 335.99 510.86 336.46 511.06 335.96 511.26 334.98 511.46 334.49 511.68 335.1 511.91 336.33 512.13 336.95 512.35 336.31 512.58 335.02 512.8 334.38 513.01 334.92 513.23 336.01 513.44 336.55 513.63 336.07 513.81 335.12 514 334.65 514.18 335.16 514.37 336.17 514.55 336.68 514.76 336.19 514.97 335.22 515.18 334.73 515.37 335.07 515.56 335.73 515.75 336.06 515.95 335.7 516.15 334.98 516.35 334.62 516.55 335.03 516.75 335.84 516.95 336.25 517.14 335.84 517.34 335.01 517.53 334.6 517.75 334.95 517.96 335.64 518.18 335.98 518.39 335.63 518.6 334.93 518.81 334.58 519.03 334.94 519.24 335.65 519.46 336 519.65 335.63 519.84 334.87 520.03 334.5 520.25 334.88 520.47 335.65 520.69 336.04 520.89 335.71 521.08 335.06 521.28 334.74 521.47 335.16 521.66 336 521.85 336.42 522.05 336 522.25 335.16 522.45 334.73 522.67 335.09 522.89 335.81 523.11 336.16 523.33 335.8 523.56 335.06 523.78 334.7 523.97 334.97 524.17 335.52 524.37 335.8 524.57 335.54 524.77 335.03 524.97 334.77 525.17 335.12 525.38 335.81 525.59 336.16 525.78 335.81 525.97 335.13 526.17 334.79 526.38 335.13 526.6 335.8 526.81 336.14 527.03 335.83 527.25 335.21 527.46 334.9 527.68 335.16 527.89 335.68 528.11 335.94 528.3 335.67 528.49 335.13 528.68 334.86 528.9 335.13 529.11 335.67 529.33 335.94 529.51 335.68 529.7 335.16 529.89 334.9 530.1 335.09 530.31 335.45 530.51 335.64" stroke="#ff0a14" stroke-width="1.0" fill="none" stroke-linejoin="round"/>
<path d="M391 334.81 391.57 337.52 392.21 330.96 392.83 338.28 393.32 327.38 393.87 342.96 394.25 329.51 394.67 341.36 395.2 331.68 395.61 340.17 396.24 327.53 396.63 343.14 397.03 328.15 397.41 338.91 398.03 330.24 398.44 344.65 399.05 329.62 399.69 342.37 400.24 330.01 400.88 343.13 401.52 326.26 401.96 341.01 402.36 330.67 402.72 340.53 403.26 331.57 403.81 340.54 404.25 327.43 404.75 340.26 405.24 328.27 405.61 343.39 405.96 328.22 406.57 338.5 407.15 330.33 407.68 338.32 408.04 331.34 408.68 339.03 409.26 328.28 409.89 339.47 410.34 330.25 410.93 338.37 411.5 329.32 412.11 337.98 412.74 332.27 413.2 340.08 413.82 331.43 414.45 339.64 414.89 331.65 415.29 337.86 415.69 330.43 416.34 338.05 416.7 329.59 417.21 338.78 417.63 331.06 418.23 338.81 418.71 332.92 419.33 337.35 419.83 330.65 420.22 339.39 420.86 331.34 421.44 337.49 421.92 332.8 422.53 338.01 423.01 330.35 423.62 339.95 424.1 331.88 424.67 338.48 425.11 332.15 425.5 338.16 426.15 330.62 426.69 338.46 427.14 333.09 427.57 339.22 428.18 332.37 428.77 339.15 429.33 331.58 429.9 337.98 430.47 332.65 430.96 339.04 431.52 332.65 432.15 338.67 432.68 333.42 433.19 337.59 433.74 332.28 434.34 338.58 434.93 332.61 435.47 338.76 436.07 332.64 436.67 339.04 437.23 331.12 437.86 338.12 438.37 333.16 438.97 339.1 439.47 331.92 440.03 338.55 440.43 331.75 440.96 338.36 441.43 332.16 442.02 338.25 442.58 333.59 442.98 337.76 443.53 333.17 444.08 338.16 444.44 332.62 444.86 336.82 445.25 332.99 445.66 337.12 446.02 332.69 446.48 338.02 447.01 333.22 447.63 336.65 448.1 333.16 448.57 336.88 449.17 332.99 449.53 337.91 449.91 332.65 450.37 337.81 451 332.13 451.48 338.24 452.02 333.09 452.41 337.76 452.93 331.93 453.57 337.74 454.03 332.11 454.38 336.72 454.9 332.7 455.29 337.72 455.91 333.2 456.39 336.9 456.83 332.09 457.29 338.26 457.91 332.85 458.34 338.25 458.84 333.21 459.29 338.21 459.78 333.48 460.28 336.62 460.81 333.22 461.25 337.78 461.85 334 462.36 336.86 462.99 332.66 463.41 336.83 463.81 332.31 464.25 337.41 464.74 332.93 465.27 337.63 465.66 332.75 466.1 337.25 466.55 333.56 467.06 337.12 467.51 332.82 468.04 336.38 468.47 333.32 469.09 337.79 469.61 334.07 470.19 337 470.71 332.95 471.25 337.07 471.88 333.49 472.34 337.65 472.75 333.65 473.35 336.37 473.95 333.03 474.43 336.71 475.02 332.72 475.41 337 475.92 333.38 476.37 336.47 476.9 332.91 477.27 336.58 477.87 332.97 478.41 336.25 478.98 332.71 479.63 337.26 480 332.94 480.41 337.16 481.05 333.15 481.44 336.62 482.06 334 482.6 336.78 482.99 333.32 483.36 336.32 483.82 334.13 484.19 336.98 484.76 332.99 485.15 336.76 485.6 333.41 486.09 337.46 486.55 334.19 487.11 336.34 487.65 333.58 488.28 336.88 488.81 333.93 489.33 336.45 489.9 333.6 490.29 336.41 490.75 333.32 491.16 337.04 491.7 334.2 492.26 336.2 492.64 333.55 493.06 337.21 493.56 333.92 494.15 336.1 494.71 334.28 495.11 337.26 495.66 334.07 496.05 337.26 496.6 333.34 496.99 336.81 497.45 334.08 497.9 336.78 498.35 333.91 498.74 337.03 499.29 333.42 499.77 337.03 500.27 333.7 500.79 336.86 501.26 334.31 501.62 336.21 501.98 333.4 502.48 336.83 502.83 333.91 503.45 336.64 503.92 333.94 504.3 336.1 504.7 334.06 505.17 336.87 505.56 334.21 506 336.08 506.43 334.25 506.93 335.93 507.55 334.14 508.19 336.57 508.74 334.06 509.37 335.97 509.92 334.27 510.47 336.54 510.87 334.38 511.23 336.04 511.6 334.21 512.25 336.14 512.69 334.17 513.13 336.45 513.69 334.47 514.11 336.37 514.75 334.07 515.22 336.59 515.58 334.59 516.16 336.09 516.52 334.21 517.17 336.15 517.63 334.6 518 336.42 518.49 333.97 518.86 335.89 519.23 334.4 519.59 335.89 520.07 334.49 520.43 335.71 521.07 334.6 521.58 335.95 522.08 334.68 522.53 335.72 523.04 334.14 523.57 336.19 523.98 334.76 524.5 335.93 525.02 334.55 525.56 336.04 526.18 334.62 526.66 336.07 527.08 334.75 527.53 335.62 528.11 334.39 528.55 335.63 528.93 334.72 529.3 335.77 529.82 334.74 530.19 335.88 530.56 334.78 530.99 335.7" stroke="#ff0a14" stroke-width="0.7" fill="none"/>
</g>
<rect x="390.6" y="286.5" width="141" height="114.9" fill="none" stroke="#c2c2c2" stroke-width="1"/>
<text x="389" y="403.2" class="tk" text-anchor="end">-0.4</text>
<text x="389" y="386.79" class="tk" text-anchor="end">-0.3</text>
<text x="389" y="370.37" class="tk" text-anchor="end">-0.2</text>
<text x="389" y="353.96" class="tk" text-anchor="end">-0.1</text>
<text x="389" y="337.54" class="tk" text-anchor="end">0</text>
<text x="389" y="321.13" class="tk" text-anchor="end">0.1</text>
<text x="389" y="304.71" class="tk" text-anchor="end">0.2</text>
<text x="389" y="288.3" class="tk" text-anchor="end">0.3</text>
<text x="390.6" y="407.3" class="tk" text-anchor="middle">0</text>
<text x="418.8" y="407.3" class="tk" text-anchor="middle">10</text>
<text x="447" y="407.3" class="tk" text-anchor="middle">20</text>
<text x="475.2" y="407.3" class="tk" text-anchor="middle">30</text>
<text x="503.4" y="407.3" class="tk" text-anchor="middle">40</text>
<text x="531.6" y="407.3" class="tk" text-anchor="middle">50</text>
<text x="513" y="300.5" class="lt">(i)</text>
<rect x="449.8" y="346.5" width="94.4" height="41.6" fill="#fff"/>
<clipPath id="ii"><rect x="449.8" y="346.5" width="94.4" height="41.6"/></clipPath>
<path d="M449.8 346.5V388.1M481.27 346.5V388.1M512.73 346.5V388.1M544.2 346.5V388.1" stroke="#ececec" stroke-width="0.5" fill="none"/>
<g clip-path="url(#ii)">
<path d="M449.8 362.26 450.81 376.31 451.86 359.92 453.08 379.2 454.23 361.16 455.68 375.33 456.98 361.58 458.39 377.85 459.61 358.71 460.75 373.01 461.78 356.96 463 354 463.9 385.4 465.89 375.82 467.15 353.95 468.44 372.13 469.6 384.5 470.78 373.43 471.69 361.06 472.71 375.42 473.74 362.04 475.09 376.73 476.55 360.9 477.81 378.83 478.95 363.96 479.96 373.22 480.98 358.23 482.36 376.09 483.75 363.85 484.83 374.52 485.86 359.11 486.99 375.47 487.95 354.9 489.28 375.76 490.37 358.29 491.46 380.44 492.49 357.12 493.54 376.61 494.49 358.09 495.54 378.91 496.96 358.2 498.42 376.92 499.57 358.52 500.64 378.37 502.13 359.52 503.26 377.88 504.56 356.07 505.5 346.8 506.86 357.72 508.28 376.63 509.38 362.73 510.6 372.99 511.91 360.82 513.28 374.76 514.63 358.92 515.9 357 516.8 381 518.12 373.53 519.37 357.99 520.49 379.56 521.74 360.18 523.23 377.73 524.24 362.37 525.22 378.18 526.3 380 527.55 374.13 528.2 355 530.18 379.12 531.62 357.98 532.62 373.11 533.8 363.66 534.99 376.8 536.24 359.2 537.49 374.41 538.74 364.58 539.84 376.16 540.84 359.49 541.99 375.91 542.99 362.12" stroke="#ff1020" stroke-width="0.9" fill="none" stroke-linejoin="round"/>
</g>
<rect x="449.8" y="346.5" width="94.4" height="41.6" fill="none" stroke="#c2c2c2" stroke-width="0.9"/>
<text x="449.8" y="394.3" class="ik" text-anchor="middle">4</text>
<text x="481.27" y="394.3" class="ik" text-anchor="middle">5</text>
<text x="512.73" y="394.3" class="ik" text-anchor="middle">6</text>
<text x="544.2" y="394.3" class="ik" text-anchor="middle">7</text>
<text x="102.5" y="12.6" class="ct">u</text>
<text x="280.4" y="14.9" class="ct">u</text>
<text x="282.4" y="15" class="ct">&#729;</text>
<text x="450" y="13.8" class="ct">&#252;</text>
<text transform="translate(12.2 71.7) rotate(-90)" text-anchor="middle" class="cl">Cluster 1</text>
<text transform="translate(12.2 207.7) rotate(-90)" text-anchor="middle" class="cl">Cluster 2</text>
<text transform="translate(14.6 341.3) rotate(-90)" text-anchor="middle" class="cl">Cluster 3</text>
<path d="M57.3 428.9H83.1" stroke="#e0384c" stroke-width="1.7"/>
<text x="85.8" y="432.7" class="lg">True value</text>
<path d="M139.8 428.6H164.9" stroke="#2a3cf4" stroke-width="1.7"/>
<text x="167.6" y="432.7" class="lg">Predicted value</text>
<text x="303" y="434.3" class="ts"><tspan font-style="italic">t</tspan> (s)</text>
<text x="45.6" y="287.6" class="ik" style="font-size:5.8px;font-weight:bold">&#215;10<tspan dy="-2.6" style="font-size:4.6px">-3</tspan></text>

</svg>
</body></html>
